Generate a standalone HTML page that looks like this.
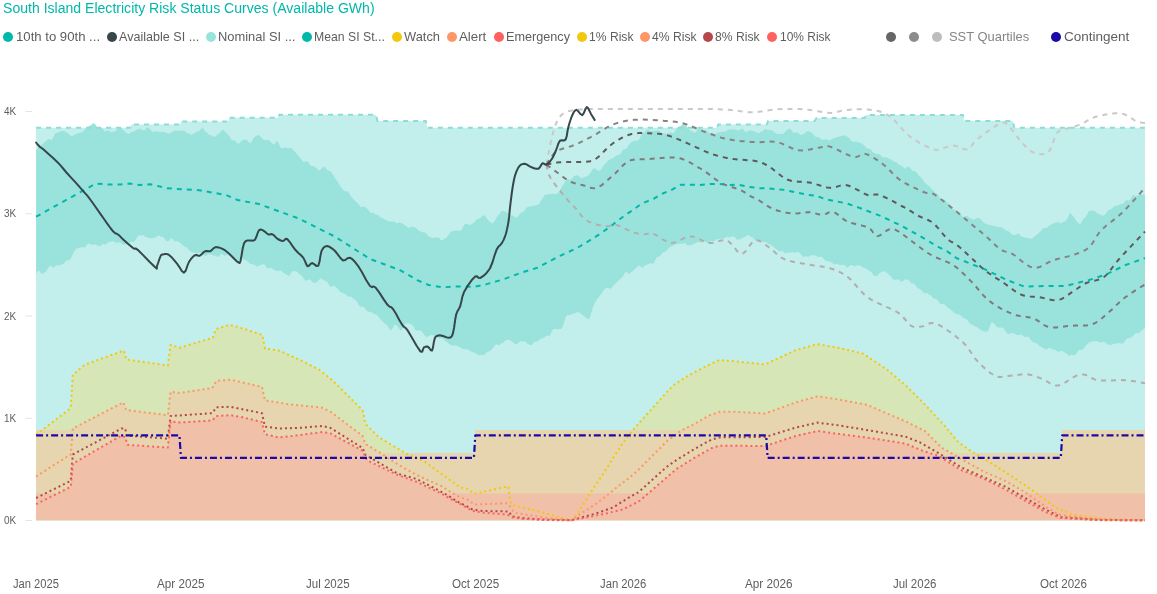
<!DOCTYPE html><html><head><meta charset="utf-8"><title>South Island Electricity Risk Status Curves</title>
<style>
html,body{margin:0;padding:0;background:#fff;}
body{width:1157px;height:594px;position:relative;overflow:hidden;font-family:"Liberation Sans",sans-serif;}
.t{position:absolute;white-space:nowrap;transform-origin:0 50%;}
.title{left:2.9px;top:-0.85px;font-size:14px;line-height:18px;color:#01B8AA;}
.lg{font-size:13.5px;line-height:16px;top:29.3px;color:#605E5C;}
.dot{position:absolute;width:10px;height:10px;border-radius:50%;top:32.2px;}
.ax{font-size:12.3px;line-height:14px;color:#605E5C;}
.ay{font-size:10.8px;line-height:14px;color:#605E5C;}
</style></head><body>
<svg width="1157" height="594" viewBox="0 0 1157 594" style="position:absolute;left:0;top:0">
<path d="M36.1 127.8 L130.0 127.8 L131.6 124.5 L179.7 124.5 L181.3 121.5 L228.0 121.5 L229.6 117.7 L277.8 117.7 L279.4 114.8 L375.9 114.8 L377.5 121.0 L425.7 121.0 L427.3 127.8 L716.8 127.8 L718.4 124.6 L766.6 124.6 L768.2 121.0 L814.9 121.0 L816.5 118.0 L864.7 118.0 L866.3 115.0 L962.8 115.0 L964.4 121.0 L1012.7 121.0 L1014.3 127.8 L1145.0 127.8 L1145.0 520.3 L36.1 520.3 Z" fill="#C2EEEB"/>
<polygon points="36.1,150.4 37.7,148.4 39.3,146.3 40.9,145.6 42.5,144.4 44.1,142.5 45.7,141.6 47.3,140.0 48.9,139.0 50.5,139.8 52.1,139.8 53.7,136.5 55.3,133.0 56.9,132.8 58.5,132.6 60.1,131.5 61.7,131.0 63.3,130.9 64.9,131.4 66.5,132.4 68.1,133.2 69.7,135.0 71.3,136.2 72.9,135.7 74.5,135.0 76.1,134.0 77.7,133.3 79.3,132.9 80.9,132.6 82.5,131.9 84.1,130.3 85.7,128.8 87.3,127.6 88.9,126.2 90.5,125.4 92.1,124.3 93.7,123.1 95.3,124.4 96.9,126.9 98.5,127.7 100.1,127.7 101.7,128.0 103.3,129.8 104.9,131.6 106.5,131.0 108.1,130.2 109.7,131.3 111.3,132.2 112.9,131.7 114.5,131.2 116.1,130.4 117.7,128.9 119.3,127.8 120.9,127.6 122.5,129.3 124.1,131.1 125.7,132.6 127.3,133.6 128.9,134.0 130.5,132.8 132.1,131.8 133.7,131.7 135.3,130.8 136.9,129.6 138.5,129.1 140.1,128.8 141.7,129.6 143.3,130.6 144.9,129.9 146.5,127.8 148.1,127.4 149.7,128.9 151.3,130.7 152.9,131.9 154.5,131.7 156.1,131.1 157.7,131.5 159.3,132.1 160.9,131.8 162.5,132.1 164.1,132.1 165.7,132.4 167.3,133.3 168.9,133.8 170.5,133.0 172.1,132.0 173.7,131.1 175.3,130.7 176.9,130.5 178.5,130.4 180.1,130.8 181.7,130.7 183.3,130.6 184.9,131.3 186.5,132.7 188.1,133.5 189.7,134.0 191.3,134.7 192.9,134.3 194.5,133.2 196.1,132.1 197.7,131.5 199.3,130.7 200.9,129.1 202.5,127.5 204.1,129.7 205.7,131.8 207.3,132.8 208.9,134.7 210.5,135.3 212.1,135.6 213.7,136.9 215.3,136.5 216.9,135.1 218.5,134.0 220.1,132.3 221.7,130.6 223.3,129.4 224.9,131.3 226.5,133.5 228.1,134.5 229.7,136.4 231.3,139.7 232.9,140.6 234.5,140.1 236.1,142.0 237.7,143.8 239.3,143.3 240.9,141.2 242.5,140.4 244.1,139.4 245.7,139.4 247.3,140.3 248.9,142.3 250.5,143.5 252.1,140.7 253.7,138.0 255.3,136.4 256.9,135.7 258.5,134.8 260.1,135.9 261.7,137.9 263.3,139.6 264.9,140.1 266.5,140.0 268.1,139.8 269.7,140.8 271.3,142.5 272.9,144.0 274.5,144.3 276.1,141.3 277.7,141.3 279.3,145.1 280.9,148.3 282.5,148.2 284.1,147.5 285.7,147.6 287.3,147.9 288.9,147.9 290.5,147.7 292.1,148.8 293.7,150.4 295.3,152.2 296.9,154.0 298.5,155.9 300.1,157.8 301.7,159.9 303.3,161.7 304.9,162.0 306.5,161.0 308.1,161.7 309.7,164.5 311.3,166.1 312.9,166.0 314.5,166.2 316.1,167.9 317.7,169.5 319.3,170.4 320.9,169.5 322.5,167.2 324.1,166.4 325.7,168.1 327.3,169.9 328.9,170.8 330.5,171.2 332.1,173.1 333.7,176.0 335.3,178.6 336.9,180.7 338.5,183.3 340.1,186.0 341.7,187.9 343.3,190.0 344.9,191.3 346.5,191.3 348.1,191.8 349.7,194.2 351.3,196.8 352.9,198.8 354.5,200.4 356.1,201.6 357.7,203.2 359.3,205.3 360.9,207.2 362.5,207.1 364.1,206.4 365.7,207.4 367.3,208.7 368.9,210.8 370.5,212.9 372.1,212.8 373.7,212.9 375.3,214.5 376.9,214.8 378.5,215.3 380.1,217.3 381.7,218.1 383.3,218.4 384.9,219.4 386.5,220.2 388.1,220.9 389.7,221.5 391.3,221.8 392.9,221.2 394.5,221.5 396.1,223.1 397.7,222.9 399.3,222.4 400.9,222.8 402.5,223.7 404.1,224.8 405.7,225.7 407.3,227.1 408.9,228.0 410.5,227.3 412.1,226.5 413.7,226.9 415.3,227.6 416.9,228.7 418.5,230.5 420.1,231.3 421.7,231.8 423.3,232.4 424.9,232.5 426.5,233.8 428.1,235.8 429.7,236.8 431.3,237.6 432.9,238.3 434.5,237.6 436.1,237.6 437.7,237.5 439.3,237.8 440.9,240.1 442.5,240.5 444.1,238.7 445.7,238.3 447.3,236.8 448.9,234.2 450.5,232.1 452.1,231.0 453.7,230.5 455.3,230.8 456.9,230.5 458.5,230.5 460.1,230.7 461.7,229.8 463.3,226.3 464.9,223.9 466.5,223.5 468.1,224.3 469.7,224.9 471.3,224.4 472.9,223.4 474.5,221.9 476.1,220.0 477.7,218.9 479.3,218.5 480.9,217.4 482.5,215.7 484.1,215.3 485.7,216.5 487.3,218.9 488.9,221.0 490.5,222.3 492.1,223.6 493.7,222.5 495.3,219.8 496.9,217.0 498.5,215.0 500.1,213.0 501.7,210.9 503.3,211.1 504.9,211.5 506.5,212.2 508.1,213.4 509.7,214.7 511.3,215.4 512.9,215.6 514.5,217.1 516.1,217.8 517.7,216.5 519.3,214.4 520.9,213.0 522.5,212.2 524.1,211.3 525.7,208.6 527.3,207.0 528.9,206.7 530.5,206.3 532.1,206.2 533.7,206.0 535.3,205.2 536.9,204.9 538.5,204.4 540.1,202.5 541.7,199.7 543.3,197.3 544.9,194.8 546.5,194.4 548.1,194.3 549.7,194.1 551.3,194.0 552.9,193.8 554.5,194.2 556.1,194.0 557.7,193.3 559.3,191.7 560.9,188.5 562.5,185.8 564.1,183.3 565.7,180.2 567.3,179.1 568.9,179.3 570.5,179.9 572.1,178.3 573.7,176.4 575.3,175.6 576.9,175.2 578.5,175.7 580.1,177.5 581.7,178.3 583.3,177.5 584.9,176.8 586.5,176.4 588.1,175.8 589.7,173.8 591.3,171.6 592.9,169.0 594.5,167.7 596.1,169.3 597.7,170.4 599.3,170.7 600.9,169.6 602.5,167.0 604.1,164.8 605.7,163.2 607.3,161.4 608.9,160.1 610.5,158.9 612.1,158.5 613.7,157.7 615.3,156.0 616.9,155.5 618.5,155.1 620.1,154.2 621.7,151.9 623.3,149.4 624.9,149.2 626.5,148.6 628.1,146.1 629.7,144.0 631.3,142.3 632.9,141.2 634.5,141.0 636.1,140.5 637.7,140.7 639.3,139.6 640.9,135.7 642.5,132.7 644.1,132.9 645.7,131.3 647.3,129.8 648.9,130.1 650.5,131.1 652.1,131.1 653.7,131.0 655.3,130.9 656.9,130.7 658.5,130.7 660.1,131.8 661.7,133.4 663.3,133.6 664.9,133.4 666.5,133.7 668.1,133.5 669.7,132.6 671.3,132.7 672.9,133.2 674.5,132.4 676.1,129.3 677.7,127.3 679.3,126.8 680.9,126.0 682.5,124.4 684.1,124.9 685.7,125.7 687.3,127.3 688.9,129.4 690.5,130.4 692.1,131.0 693.7,132.4 695.3,132.5 696.9,130.4 698.5,128.4 700.1,128.4 701.7,130.2 703.3,131.7 704.9,131.3 706.5,130.3 708.1,131.9 709.7,133.6 711.3,133.1 712.9,133.3 714.5,134.2 716.1,133.4 717.7,132.4 719.3,132.4 720.9,132.1 722.5,131.6 724.1,131.8 725.7,131.5 727.3,130.2 728.9,129.5 730.5,129.5 732.1,129.2 733.7,129.2 735.3,129.5 736.9,129.9 738.5,130.6 740.1,129.7 741.7,128.4 743.3,129.5 744.9,131.4 746.5,131.9 748.1,131.1 749.7,130.6 751.3,130.4 752.9,130.8 754.5,131.5 756.1,132.0 757.7,132.9 759.3,133.0 760.9,131.8 762.5,131.2 764.1,129.7 765.7,128.9 767.3,129.8 768.9,129.9 770.5,130.1 772.1,130.5 773.7,131.4 775.3,133.1 776.9,133.9 778.5,133.8 780.1,134.1 781.7,133.9 783.3,133.7 784.9,132.0 786.5,130.3 788.1,129.6 789.7,128.5 791.3,129.9 792.9,132.1 794.5,132.7 796.1,132.5 797.7,132.5 799.3,134.0 800.9,135.0 802.5,134.5 804.1,133.7 805.7,132.1 807.3,131.2 808.9,131.5 810.5,132.0 812.1,133.3 813.7,135.0 815.3,136.8 816.9,137.1 818.5,137.0 820.1,138.4 821.7,139.4 823.3,139.6 824.9,139.6 826.5,139.2 828.1,140.0 829.7,140.7 831.3,139.0 832.9,138.4 834.5,138.2 836.1,137.3 837.7,137.0 839.3,136.6 840.9,136.0 842.5,135.7 844.1,135.2 845.7,135.7 847.3,136.7 848.9,137.8 850.5,139.8 852.1,141.5 853.7,141.9 855.3,141.6 856.9,141.8 858.5,142.6 860.1,142.8 861.7,143.2 863.3,144.7 864.9,146.2 866.5,147.9 868.1,148.8 869.7,148.7 871.3,150.1 872.9,152.2 874.5,153.1 876.1,153.7 877.7,154.1 879.3,154.2 880.9,155.5 882.5,157.3 884.1,157.7 885.7,157.0 887.3,157.5 888.9,158.7 890.5,159.2 892.1,160.2 893.7,161.7 895.3,161.9 896.9,162.4 898.5,164.3 900.1,165.5 901.7,165.8 903.3,167.2 904.9,168.7 906.5,167.8 908.1,166.4 909.7,167.2 911.3,169.6 912.9,170.9 914.5,171.1 916.1,172.1 917.7,174.0 919.3,176.0 920.9,177.2 922.5,179.3 924.1,181.8 925.7,183.5 927.3,185.0 928.9,185.9 930.5,187.6 932.1,189.5 933.7,191.0 935.3,192.9 936.9,193.5 938.5,195.2 940.1,198.7 941.7,199.6 943.3,198.9 944.9,199.7 946.5,201.4 948.1,203.3 949.7,205.1 951.3,207.2 952.9,208.9 954.5,209.7 956.1,210.6 957.7,211.8 959.3,212.7 960.9,214.3 962.5,216.4 964.1,216.9 965.7,216.0 967.3,215.9 968.9,217.3 970.5,218.6 972.1,219.2 973.7,219.6 975.3,219.1 976.9,218.3 978.5,217.8 980.1,218.8 981.7,220.6 983.3,222.3 984.9,223.5 986.5,223.9 988.1,224.6 989.7,225.3 991.3,225.3 992.9,225.7 994.5,226.2 996.1,226.4 997.7,226.8 999.3,227.1 1000.9,227.3 1002.5,227.8 1004.1,229.1 1005.7,230.6 1007.3,230.8 1008.9,231.5 1010.5,233.3 1012.1,234.4 1013.7,235.0 1015.3,235.1 1016.9,234.0 1018.5,233.5 1020.1,235.1 1021.7,236.7 1023.3,237.0 1024.9,237.6 1026.5,238.1 1028.1,238.1 1029.7,238.4 1031.3,238.7 1032.9,237.9 1034.5,236.6 1036.1,235.3 1037.7,233.9 1039.3,232.4 1040.9,230.9 1042.5,228.8 1044.1,227.9 1045.7,228.1 1047.3,227.2 1048.9,225.8 1050.5,225.1 1052.1,224.2 1053.7,223.1 1055.3,222.7 1056.9,222.0 1058.5,222.2 1060.1,223.3 1061.7,222.9 1063.3,221.9 1064.9,221.6 1066.5,220.1 1068.1,217.0 1069.7,213.3 1071.3,213.7 1072.9,215.9 1074.5,218.3 1076.1,220.7 1077.7,222.5 1079.3,224.0 1080.9,223.7 1082.5,220.4 1084.1,218.2 1085.7,216.7 1087.3,214.3 1088.9,211.2 1090.5,210.7 1092.1,210.7 1093.7,210.5 1095.3,211.5 1096.9,213.1 1098.5,214.1 1100.1,214.4 1101.7,215.2 1103.3,216.1 1104.9,214.7 1106.5,212.5 1108.1,210.5 1109.7,209.6 1111.3,209.1 1112.9,207.4 1114.5,206.1 1116.1,205.8 1117.7,205.5 1119.3,204.7 1120.9,204.2 1122.5,203.8 1124.1,202.8 1125.7,200.6 1127.3,199.9 1128.9,200.9 1130.5,199.3 1132.1,196.0 1133.7,195.0 1135.3,195.9 1136.9,195.8 1138.5,195.0 1140.1,194.3 1141.7,194.4 1143.3,194.6 1145.0,194.9 1145.0,328.3 1143.3,329.3 1141.7,330.3 1140.1,332.1 1138.5,333.4 1136.9,333.0 1135.3,333.3 1133.7,335.2 1132.1,336.8 1130.5,337.7 1128.9,338.2 1127.3,338.5 1125.7,339.9 1124.1,342.3 1122.5,343.5 1120.9,343.5 1119.3,343.0 1117.7,343.2 1116.1,343.6 1114.5,343.4 1112.9,343.9 1111.3,344.9 1109.7,345.1 1108.1,344.5 1106.5,343.5 1104.9,342.3 1103.3,341.7 1101.7,342.2 1100.1,342.6 1098.5,341.9 1096.9,341.0 1095.3,340.9 1093.7,341.6 1092.1,341.6 1090.5,342.0 1088.9,342.8 1087.3,344.0 1085.7,345.7 1084.1,348.0 1082.5,349.4 1080.9,349.7 1079.3,349.9 1077.7,351.3 1076.1,353.9 1074.5,355.3 1072.9,354.9 1071.3,354.7 1069.7,356.1 1068.1,355.2 1066.5,353.3 1064.9,352.7 1063.3,351.7 1061.7,350.8 1060.1,351.2 1058.5,351.7 1056.9,351.3 1055.3,350.0 1053.7,349.3 1052.1,349.2 1050.5,348.2 1048.9,347.8 1047.3,349.0 1045.7,349.5 1044.1,348.5 1042.5,347.5 1040.9,346.7 1039.3,345.7 1037.7,344.1 1036.1,343.1 1034.5,342.7 1032.9,341.9 1031.3,340.7 1029.7,338.4 1028.1,336.5 1026.5,336.7 1024.9,337.1 1023.3,336.3 1021.7,334.8 1020.1,334.5 1018.5,335.0 1016.9,334.9 1015.3,334.2 1013.7,333.4 1012.1,332.8 1010.5,333.2 1008.9,333.9 1007.3,333.7 1005.7,331.6 1004.1,328.9 1002.5,327.7 1000.9,327.5 999.3,327.5 997.7,327.4 996.1,326.0 994.5,323.9 992.9,322.8 991.3,322.3 989.7,327.0 988.1,331.2 986.5,331.8 984.9,331.8 983.3,331.1 981.7,330.4 980.1,329.7 978.5,328.3 976.9,327.0 975.3,326.5 973.7,325.5 972.1,324.7 970.5,324.2 968.9,322.1 967.3,320.1 965.7,319.1 964.1,318.5 962.5,317.3 960.9,315.6 959.3,314.7 957.7,314.1 956.1,313.7 954.5,312.9 952.9,311.4 951.3,310.0 949.7,308.7 948.1,307.9 946.5,306.6 944.9,304.6 943.3,303.7 941.7,304.2 940.1,303.8 938.5,301.5 936.9,299.6 935.3,298.7 933.7,298.4 932.1,297.1 930.5,295.2 928.9,294.4 927.3,293.2 925.7,293.1 924.1,293.3 922.5,291.6 920.9,289.8 919.3,288.9 917.7,288.1 916.1,286.2 914.5,283.8 912.9,283.4 911.3,283.3 909.7,281.5 908.1,279.5 906.5,279.6 904.9,279.5 903.3,280.7 901.7,282.0 900.1,280.7 898.5,279.3 896.9,279.5 895.3,279.7 893.7,279.9 892.1,278.3 890.5,276.0 888.9,274.6 887.3,273.2 885.7,272.0 884.1,271.3 882.5,271.3 880.9,272.2 879.3,273.3 877.7,275.5 876.1,276.1 874.5,275.9 872.9,274.5 871.3,272.1 869.7,271.2 868.1,270.3 866.5,268.8 864.9,268.2 863.3,267.6 861.7,266.8 860.1,265.8 858.5,265.0 856.9,265.5 855.3,266.3 853.7,265.8 852.1,265.3 850.5,264.9 848.9,266.4 847.3,267.7 845.7,266.3 844.1,265.1 842.5,264.7 840.9,265.3 839.3,265.1 837.7,263.7 836.1,263.9 834.5,264.5 832.9,263.5 831.3,262.2 829.7,261.6 828.1,261.3 826.5,261.1 824.9,260.3 823.3,258.4 821.7,256.7 820.1,256.7 818.5,257.2 816.9,256.3 815.3,255.4 813.7,255.3 812.1,254.9 810.5,255.5 808.9,256.8 807.3,256.5 805.7,256.4 804.1,256.8 802.5,256.4 800.9,254.6 799.3,252.2 797.7,251.7 796.1,252.7 794.5,252.8 792.9,252.3 791.3,252.4 789.7,252.4 788.1,252.4 786.5,253.2 784.9,253.0 783.3,251.5 781.7,250.9 780.1,251.3 778.5,251.1 776.9,249.6 775.3,248.5 773.7,247.0 772.1,245.5 770.5,244.8 768.9,244.2 767.3,243.0 765.7,242.1 764.1,241.9 762.5,241.7 760.9,241.3 759.3,240.3 757.7,240.4 756.1,241.0 754.5,239.8 752.9,237.8 751.3,236.9 749.7,236.0 748.1,235.0 746.5,235.6 744.9,237.0 743.3,237.4 741.7,238.5 740.1,239.3 738.5,239.8 736.9,239.5 735.3,237.7 733.7,236.4 732.1,236.5 730.5,237.1 728.9,237.4 727.3,236.7 725.7,237.2 724.1,238.4 722.5,238.5 720.9,238.6 719.3,239.0 717.7,239.1 716.1,239.8 714.5,241.1 712.9,241.2 711.3,240.7 709.7,242.0 708.1,243.2 706.5,242.5 704.9,241.4 703.3,241.7 701.7,242.2 700.1,242.3 698.5,242.2 696.9,242.4 695.3,242.9 693.7,243.9 692.1,244.8 690.5,245.2 688.9,245.5 687.3,245.2 685.7,243.6 684.1,243.2 682.5,243.9 680.9,243.8 679.3,243.8 677.7,244.1 676.1,244.2 674.5,245.0 672.9,245.8 671.3,246.2 669.7,247.1 668.1,248.7 666.5,250.7 664.9,251.8 663.3,252.0 661.7,253.8 660.1,255.9 658.5,256.7 656.9,257.3 655.3,260.0 653.7,263.2 652.1,263.7 650.5,262.9 648.9,263.9 647.3,264.8 645.7,265.0 644.1,266.3 642.5,267.5 640.9,266.7 639.3,265.6 637.7,266.0 636.1,268.0 634.5,269.6 632.9,270.9 631.3,272.3 629.7,273.5 628.1,273.5 626.5,271.4 624.9,272.5 623.3,275.8 621.7,277.7 620.1,278.9 618.5,280.5 616.9,282.1 615.3,283.7 613.7,284.9 612.1,287.7 610.5,288.9 608.9,288.0 607.3,287.9 605.7,288.2 604.1,289.5 602.5,291.9 600.9,294.0 599.3,296.6 597.7,298.4 596.1,300.5 594.5,303.7 592.9,307.2 591.3,312.4 589.7,318.6 588.1,318.9 586.5,318.3 584.9,317.0 583.3,315.6 581.7,314.2 580.1,312.9 578.5,312.3 576.9,312.3 575.3,313.0 573.7,313.5 572.1,314.0 570.5,314.7 568.9,315.2 567.3,315.1 565.7,317.1 564.1,322.2 562.5,326.9 560.9,329.1 559.3,329.0 557.7,329.4 556.1,328.9 554.5,329.0 552.9,329.6 551.3,332.8 549.7,336.1 548.1,335.8 546.5,335.5 544.9,337.0 543.3,338.0 541.7,338.6 540.1,339.2 538.5,340.5 536.9,341.7 535.3,341.6 533.7,342.6 532.1,344.8 530.5,344.9 528.9,344.4 527.3,343.4 525.7,341.9 524.1,341.2 522.5,341.4 520.9,341.3 519.3,341.8 517.7,343.5 516.1,344.4 514.5,343.4 512.9,342.2 511.3,341.0 509.7,340.1 508.1,339.8 506.5,339.7 504.9,340.9 503.3,342.7 501.7,343.3 500.1,344.5 498.5,345.2 496.9,344.2 495.3,344.8 493.7,347.2 492.1,349.1 490.5,350.7 488.9,351.5 487.3,351.5 485.7,353.4 484.1,354.9 482.5,354.9 480.9,355.1 479.3,355.6 477.7,355.0 476.1,353.6 474.5,352.7 472.9,352.3 471.3,351.6 469.7,350.8 468.1,349.6 466.5,349.2 464.9,349.3 463.3,348.9 461.7,348.3 460.1,347.5 458.5,346.7 456.9,345.8 455.3,345.4 453.7,345.5 452.1,345.5 450.5,345.3 448.9,343.8 447.3,342.3 445.7,341.6 444.1,339.9 442.5,338.2 440.9,338.3 439.3,338.5 437.7,337.7 436.1,336.4 434.5,335.6 432.9,335.3 431.3,335.1 429.7,335.5 428.1,336.6 426.5,337.1 424.9,335.6 423.3,333.7 421.7,331.4 420.1,330.4 418.5,330.5 416.9,330.6 415.3,329.9 413.7,326.9 412.1,324.7 410.5,323.9 408.9,323.2 407.3,323.2 405.7,323.2 404.1,325.8 402.5,328.5 400.9,331.1 399.3,329.1 397.7,326.4 396.1,324.9 394.5,324.6 392.9,327.5 391.3,330.2 389.7,329.6 388.1,326.9 386.5,324.6 384.9,323.8 383.3,322.3 381.7,320.4 380.1,318.8 378.5,316.7 376.9,314.8 375.3,314.2 373.7,313.7 372.1,312.5 370.5,312.1 368.9,311.8 367.3,311.1 365.7,309.5 364.1,307.3 362.5,306.7 360.9,306.4 359.3,306.0 357.7,302.9 356.1,300.6 354.5,299.4 352.9,298.5 351.3,296.5 349.7,296.7 348.1,296.6 346.5,295.2 344.9,293.9 343.3,292.9 341.7,292.6 340.1,291.7 338.5,289.8 336.9,287.9 335.3,286.4 333.7,285.7 332.1,286.4 330.5,286.7 328.9,284.7 327.3,282.2 325.7,280.9 324.1,280.6 322.5,279.6 320.9,277.9 319.3,279.5 317.7,281.5 316.1,282.9 314.5,282.4 312.9,282.4 311.3,280.7 309.7,279.2 308.1,279.7 306.5,280.6 304.9,280.5 303.3,278.0 301.7,275.7 300.1,274.8 298.5,273.2 296.9,271.4 295.3,271.2 293.7,270.9 292.1,271.2 290.5,274.2 288.9,276.0 287.3,274.9 285.7,274.0 284.1,273.3 282.5,272.0 280.9,270.5 279.3,270.7 277.7,271.1 276.1,270.8 274.5,270.2 272.9,269.0 271.3,268.1 269.7,268.1 268.1,268.3 266.5,267.5 264.9,264.8 263.3,263.9 261.7,264.8 260.1,265.1 258.5,266.1 256.9,266.6 255.3,265.5 253.7,264.3 252.1,264.2 250.5,263.9 248.9,262.7 247.3,261.2 245.7,260.3 244.1,259.4 242.5,258.5 240.9,259.3 239.3,259.8 237.7,260.8 236.1,261.8 234.5,260.4 232.9,258.6 231.3,257.1 229.7,255.9 228.1,254.6 226.5,254.9 224.9,256.1 223.3,254.8 221.7,253.5 220.1,254.9 218.5,257.1 216.9,256.5 215.3,255.7 213.7,255.4 212.1,255.1 210.5,254.4 208.9,254.1 207.3,254.9 205.7,256.0 204.1,255.5 202.5,253.6 200.9,252.7 199.3,252.5 197.7,253.5 196.1,253.5 194.5,252.6 192.9,252.4 191.3,251.7 189.7,250.7 188.1,249.2 186.5,247.2 184.9,246.7 183.3,245.7 181.7,244.0 180.1,242.8 178.5,241.8 176.9,241.1 175.3,241.5 173.7,240.5 172.1,238.3 170.5,238.9 168.9,240.8 167.3,241.4 165.7,240.2 164.1,238.1 162.5,236.7 160.9,236.7 159.3,235.6 157.7,235.5 156.1,237.2 154.5,237.7 152.9,237.9 151.3,238.2 149.7,237.9 148.1,237.4 146.5,237.3 144.9,236.5 143.3,235.2 141.7,235.4 140.1,235.6 138.5,235.4 136.9,237.7 135.3,240.3 133.7,242.0 132.1,241.8 130.5,241.9 128.9,243.4 127.3,244.5 125.7,244.3 124.1,244.7 122.5,244.2 120.9,243.1 119.3,242.3 117.7,242.4 116.1,242.7 114.5,241.9 112.9,240.9 111.3,241.5 109.7,242.0 108.1,242.3 106.5,244.1 104.9,244.5 103.3,243.8 101.7,244.9 100.1,246.3 98.5,245.9 96.9,245.0 95.3,244.2 93.7,244.7 92.1,245.0 90.5,244.0 88.9,243.5 87.3,244.2 85.7,246.7 84.1,247.6 82.5,247.3 80.9,247.5 79.3,247.8 77.7,248.4 76.1,248.7 74.5,250.9 72.9,253.9 71.3,257.4 69.7,260.1 68.1,260.2 66.5,260.7 64.9,262.1 63.3,263.7 61.7,264.4 60.1,264.9 58.5,265.4 56.9,265.1 55.3,266.3 53.7,267.8 52.1,266.9 50.5,265.5 48.9,266.9 47.3,269.4 45.7,271.9 44.1,272.4 42.5,273.8 40.9,273.4 39.3,270.7 37.7,271.1 36.1,274.0" fill="#9AE3DD"/>
<polygon points="36.1,430.1 36.5,430.1 36.9,430.1 37.3,430.1 37.7,430.1 38.1,430.1 38.5,430.1 38.9,430.1 39.3,430.1 39.7,430.1 40.1,430.1 40.5,430.1 40.9,430.1 41.3,430.1 41.7,430.1 42.1,430.1 42.5,429.9 42.9,429.5 43.3,429.2 43.7,428.9 44.1,428.6 44.5,428.3 44.9,428.0 45.3,427.7 45.7,427.4 46.1,427.1 46.5,426.8 46.9,426.5 47.3,426.2 47.7,425.9 48.1,425.6 48.5,425.3 48.9,425.0 49.3,424.7 49.7,424.4 50.1,424.1 50.5,423.8 50.9,423.5 51.3,423.2 51.7,422.9 52.1,422.6 52.5,422.3 52.9,422.0 53.3,421.7 53.7,421.3 54.1,421.0 54.5,420.7 54.9,420.4 55.3,420.1 55.7,419.8 56.1,419.5 56.5,419.2 56.9,418.8 57.3,418.5 57.7,418.2 58.1,417.9 58.5,417.6 58.9,417.3 59.3,417.0 59.7,416.7 60.1,416.3 60.5,416.0 60.9,415.7 61.3,415.4 61.7,415.1 62.1,414.8 62.5,414.5 62.9,414.2 63.3,413.9 63.7,413.5 64.1,413.2 64.5,412.9 64.9,412.6 65.3,412.3 65.7,412.0 66.1,411.7 66.5,411.4 66.9,411.0 67.3,410.7 67.7,410.4 68.1,410.1 68.5,409.8 68.9,409.5 69.3,409.2 69.7,408.9 70.1,408.5 70.5,408.2 70.9,406.3 71.3,399.7 71.7,393.1 72.1,386.4 72.5,379.8 72.9,374.7 73.3,374.4 73.7,374.0 74.1,373.7 74.5,373.4 74.9,373.0 75.3,372.7 75.7,372.4 76.1,372.0 76.5,371.7 76.9,371.4 77.3,371.0 77.7,370.7 78.1,370.4 78.5,370.0 78.9,369.7 79.3,369.4 79.7,369.0 80.1,368.7 80.5,368.4 80.9,368.0 81.3,367.7 81.7,367.4 82.1,367.0 82.5,366.7 82.9,366.4 83.3,366.0 83.7,365.7 84.1,365.4 84.5,365.0 84.9,364.7 85.3,364.6 85.7,364.4 86.1,364.3 86.5,364.1 86.9,364.0 87.3,363.8 87.7,363.7 88.1,363.5 88.5,363.4 88.9,363.2 89.3,363.1 89.7,362.9 90.1,362.8 90.5,362.7 90.9,362.5 91.3,362.4 91.7,362.2 92.1,362.1 92.5,361.9 92.9,361.8 93.3,361.6 93.7,361.5 94.1,361.3 94.5,361.2 94.9,361.0 95.3,360.9 95.7,360.8 96.1,360.6 96.5,360.5 96.9,360.3 97.3,360.2 97.7,360.0 98.1,359.9 98.5,359.7 98.9,359.6 99.3,359.4 99.7,359.3 100.1,359.2 100.5,359.0 100.9,358.9 101.3,358.7 101.7,358.6 102.1,358.4 102.5,358.3 102.9,358.1 103.3,358.0 103.7,357.8 104.1,357.7 104.5,357.5 104.9,357.4 105.3,357.3 105.7,357.1 106.1,357.0 106.5,356.8 106.9,356.7 107.3,356.5 107.7,356.4 108.1,356.2 108.5,356.1 108.9,355.9 109.3,355.8 109.7,355.6 110.1,355.5 110.5,355.4 110.9,355.2 111.3,355.1 111.7,354.9 112.1,354.8 112.5,354.6 112.9,354.5 113.3,354.3 113.7,354.2 114.1,354.0 114.5,353.9 114.9,353.7 115.3,353.6 115.7,353.5 116.1,353.3 116.5,353.2 116.9,353.0 117.3,352.9 117.7,352.7 118.1,352.6 118.5,352.4 118.9,352.3 119.3,352.1 119.7,352.0 120.1,351.9 120.5,351.7 120.9,351.6 121.3,351.4 121.7,351.3 122.1,351.1 122.5,351.0 122.9,350.8 123.3,350.7 123.7,350.5 124.1,351.5 124.5,352.8 124.9,354.2 125.3,355.5 125.7,356.8 126.1,358.2 126.5,359.5 126.9,359.6 127.3,359.6 127.7,359.7 128.1,359.7 128.5,359.8 128.9,359.8 129.3,359.9 129.7,360.0 130.1,360.0 130.5,360.1 130.9,360.1 131.3,360.2 131.7,360.3 132.1,360.3 132.5,360.4 132.9,360.4 133.3,360.5 133.7,360.5 134.1,360.6 134.5,360.7 134.9,360.7 135.3,360.8 135.7,360.8 136.1,360.9 136.5,361.0 136.9,361.0 137.3,361.1 137.7,361.1 138.1,361.2 138.5,361.2 138.9,361.3 139.3,361.4 139.7,361.4 140.1,361.5 140.5,361.5 140.9,361.6 141.3,361.7 141.7,361.7 142.1,361.8 142.5,361.8 142.9,361.9 143.3,361.9 143.7,362.0 144.1,362.1 144.5,362.1 144.9,362.2 145.3,362.2 145.7,362.3 146.1,362.3 146.5,362.4 146.9,362.5 147.3,362.5 147.7,362.6 148.1,362.6 148.5,362.7 148.9,362.8 149.3,362.8 149.7,362.9 150.1,362.9 150.5,363.0 150.9,363.0 151.3,363.1 151.7,363.2 152.1,363.2 152.5,363.3 152.9,363.3 153.3,363.4 153.7,363.5 154.1,363.5 154.5,363.6 154.9,363.6 155.3,363.7 155.7,363.7 156.1,363.8 156.5,363.9 156.9,363.9 157.3,364.0 157.7,364.0 158.1,364.1 158.5,364.1 158.9,364.2 159.3,364.3 159.7,364.3 160.1,364.4 160.5,364.4 160.9,364.5 161.3,364.6 161.7,364.6 162.1,364.7 162.5,364.7 162.9,364.8 163.3,364.8 163.7,364.9 164.1,365.0 164.5,365.0 164.9,365.1 165.3,365.1 165.7,365.2 166.1,365.3 166.5,365.3 166.9,365.4 167.3,365.4 167.7,365.5 168.1,363.3 168.5,360.4 168.9,357.4 169.3,354.5 169.7,351.6 170.1,348.7 170.5,345.7 170.9,345.1 171.3,345.2 171.7,345.3 172.1,345.4 172.5,345.6 172.9,345.7 173.3,345.8 173.7,345.9 174.1,346.0 174.5,346.1 174.9,346.2 175.3,346.4 175.7,346.5 176.1,346.6 176.5,346.7 176.9,346.8 177.3,346.9 177.7,347.1 178.1,347.2 178.5,347.3 178.9,347.4 179.3,347.5 179.7,347.6 180.1,347.6 180.5,347.5 180.9,347.4 181.3,347.3 181.7,347.2 182.1,347.0 182.5,346.9 182.9,346.8 183.3,346.7 183.7,346.6 184.1,346.4 184.5,346.3 184.9,346.2 185.3,346.1 185.7,346.0 186.1,345.8 186.5,345.7 186.9,345.6 187.3,345.5 187.7,345.4 188.1,345.2 188.5,345.1 188.9,345.0 189.3,344.9 189.7,344.8 190.1,344.6 190.5,344.5 190.9,344.4 191.3,344.3 191.7,344.1 192.1,344.0 192.5,343.9 192.9,343.8 193.3,343.7 193.7,343.5 194.1,343.4 194.5,343.3 194.9,343.2 195.3,343.1 195.7,342.9 196.1,342.8 196.5,342.7 196.9,342.6 197.3,342.5 197.7,342.3 198.1,342.2 198.5,342.1 198.9,342.0 199.3,341.9 199.7,341.7 200.1,341.6 200.5,341.5 200.9,341.4 201.3,341.3 201.7,341.1 202.1,341.0 202.5,340.9 202.9,340.8 203.3,340.7 203.7,340.5 204.1,340.4 204.5,340.3 204.9,340.2 205.3,340.1 205.7,339.9 206.1,339.8 206.5,339.7 206.9,339.6 207.3,339.5 207.7,339.3 208.1,339.2 208.5,339.1 208.9,339.0 209.3,338.9 209.7,338.7 210.1,338.6 210.5,338.5 210.9,338.4 211.3,338.3 211.7,338.1 212.1,338.0 212.5,337.9 212.9,337.5 213.3,336.4 213.7,335.3 214.1,334.2 214.5,333.1 214.9,332.0 215.3,330.9 215.7,329.8 216.1,329.0 216.5,328.8 216.9,328.7 217.3,328.6 217.7,328.5 218.1,328.4 218.5,328.2 218.9,328.1 219.3,328.0 219.7,327.9 220.1,327.8 220.5,327.6 220.9,327.5 221.3,327.4 221.7,327.3 222.1,327.1 222.5,327.0 222.9,326.9 223.3,326.8 223.7,326.7 224.1,326.5 224.5,326.4 224.9,326.3 225.3,326.2 225.7,326.0 226.1,325.9 226.5,325.8 226.9,325.7 227.3,325.6 227.7,325.4 228.1,325.3 228.5,325.2 228.9,325.1 229.3,325.0 229.7,324.8 230.1,324.9 230.5,325.0 230.9,325.1 231.3,325.2 231.7,325.3 232.1,325.5 232.5,325.6 232.9,325.7 233.3,325.8 233.7,325.9 234.1,326.0 234.5,326.1 234.9,326.3 235.3,326.4 235.7,326.5 236.1,326.6 236.5,326.7 236.9,326.8 237.3,326.9 237.7,327.1 238.1,327.2 238.5,327.3 238.9,327.4 239.3,327.5 239.7,327.6 240.1,327.8 240.5,327.9 240.9,328.0 241.3,328.1 241.7,328.2 242.1,328.3 242.5,328.4 242.9,328.6 243.3,328.7 243.7,328.8 244.1,328.9 244.5,329.0 244.9,329.1 245.3,329.2 245.7,329.4 246.1,329.5 246.5,329.6 246.9,329.8 247.3,329.9 247.7,330.0 248.1,330.2 248.5,330.3 248.9,330.4 249.3,330.6 249.7,330.7 250.1,330.9 250.5,331.0 250.9,331.1 251.3,331.3 251.7,331.4 252.1,331.5 252.5,331.7 252.9,331.8 253.3,331.9 253.7,332.1 254.1,332.2 254.5,332.3 254.9,332.5 255.3,332.6 255.7,332.7 256.1,332.9 256.5,333.0 256.9,333.1 257.3,333.3 257.7,333.4 258.1,333.5 258.5,333.7 258.9,333.8 259.3,334.0 259.7,334.1 260.1,334.2 260.5,334.4 260.9,334.5 261.3,334.6 261.7,334.8 262.1,334.9 262.5,335.5 262.9,337.6 263.3,339.7 263.7,341.8 264.1,344.0 264.5,346.1 264.9,348.2 265.3,348.7 265.7,348.8 266.1,348.8 266.5,348.9 266.9,348.9 267.3,349.0 267.7,349.0 268.1,349.1 268.5,349.1 268.9,349.2 269.3,349.2 269.7,349.3 270.1,349.3 270.5,349.4 270.9,349.4 271.3,349.5 271.7,349.5 272.1,349.6 272.5,349.6 272.9,349.7 273.3,349.7 273.7,349.8 274.1,349.8 274.5,349.9 274.9,349.9 275.3,350.0 275.7,350.0 276.1,350.1 276.5,350.1 276.9,350.2 277.3,350.2 277.7,350.3 278.1,350.3 278.5,350.4 278.9,350.6 279.3,350.8 279.7,350.9 280.1,351.1 280.5,351.3 280.9,351.5 281.3,351.7 281.7,351.8 282.1,352.0 282.5,352.2 282.9,352.4 283.3,352.5 283.7,352.7 284.1,352.9 284.5,353.1 284.9,353.3 285.3,353.4 285.7,353.6 286.1,353.8 286.5,354.0 286.9,354.2 287.3,354.3 287.7,354.5 288.1,354.7 288.5,354.9 288.9,355.0 289.3,355.2 289.7,355.4 290.1,355.6 290.5,355.8 290.9,355.9 291.3,356.1 291.7,356.3 292.1,356.5 292.5,356.7 292.9,356.8 293.3,357.0 293.7,357.2 294.1,357.4 294.5,357.5 294.9,357.7 295.3,357.9 295.7,358.1 296.1,358.3 296.5,358.4 296.9,358.6 297.3,358.8 297.7,359.0 298.1,359.2 298.5,359.3 298.9,359.5 299.3,359.7 299.7,359.9 300.1,360.1 300.5,360.3 300.9,360.5 301.3,360.7 301.7,360.9 302.1,361.1 302.5,361.3 302.9,361.5 303.3,361.7 303.7,361.9 304.1,362.1 304.5,362.3 304.9,362.5 305.3,362.7 305.7,362.9 306.1,363.1 306.5,363.3 306.9,363.5 307.3,363.7 307.7,363.9 308.1,364.1 308.5,364.3 308.9,364.5 309.3,364.7 309.7,364.9 310.1,365.2 310.5,365.4 310.9,365.6 311.3,365.8 311.7,366.0 312.1,366.2 312.5,366.4 312.9,366.6 313.3,366.8 313.7,367.0 314.1,367.2 314.5,367.4 314.9,367.6 315.3,367.8 315.7,368.0 316.1,368.2 316.5,368.4 316.9,368.6 317.3,368.8 317.7,369.0 318.1,369.2 318.5,369.4 318.9,369.6 319.3,369.8 319.7,370.1 320.1,370.4 320.5,370.7 320.9,371.0 321.3,371.4 321.7,371.7 322.1,372.0 322.5,372.3 322.9,372.7 323.3,373.0 323.7,373.3 324.1,373.6 324.5,373.9 324.9,374.3 325.3,374.6 325.7,374.9 326.1,375.2 326.5,375.6 326.9,375.9 327.3,376.2 327.7,376.5 328.1,376.9 328.5,377.2 328.9,377.5 329.3,377.8 329.7,378.1 330.1,378.5 330.5,378.8 330.9,379.1 331.3,379.4 331.7,379.8 332.1,380.1 332.5,380.4 332.9,380.7 333.3,381.1 333.7,381.5 334.1,381.9 334.5,382.3 334.9,382.7 335.3,383.1 335.7,383.5 336.1,383.9 336.5,384.3 336.9,384.7 337.3,385.1 337.7,385.5 338.1,385.9 338.5,386.3 338.9,386.7 339.3,387.1 339.7,387.5 340.1,387.9 340.5,388.3 340.9,388.7 341.3,389.1 341.7,389.5 342.1,389.9 342.5,390.3 342.9,390.7 343.3,391.1 343.7,391.5 344.1,391.9 344.5,392.3 344.9,392.7 345.3,393.1 345.7,393.5 346.1,393.9 346.5,394.3 346.9,394.7 347.3,395.1 347.7,395.5 348.1,395.8 348.5,396.2 348.9,396.6 349.3,397.0 349.7,397.4 350.1,397.8 350.5,398.2 350.9,398.6 351.3,399.0 351.7,399.4 352.1,399.8 352.5,400.2 352.9,400.6 353.3,401.0 353.7,401.4 354.1,401.8 354.5,402.2 354.9,402.6 355.3,403.0 355.7,403.4 356.1,403.8 356.5,404.2 356.9,404.6 357.3,405.0 357.7,405.4 358.1,405.8 358.5,406.2 358.9,406.6 359.3,407.0 359.7,407.4 360.1,407.8 360.5,408.2 360.9,408.6 361.3,409.0 361.7,409.4 362.1,409.8 362.5,410.2 362.9,411.4 363.3,413.4 363.7,415.4 364.1,417.4 364.5,419.4 364.9,421.4 365.3,423.4 365.7,424.2 366.1,424.6 366.5,425.0 366.9,425.4 367.3,425.8 367.7,426.2 368.1,426.6 368.5,427.0 368.9,427.4 369.3,427.8 369.7,428.2 370.1,428.6 370.5,429.0 370.9,429.4 371.3,429.8 371.7,430.2 372.1,430.6 372.5,430.9 372.9,431.3 373.3,431.7 373.7,432.1 374.1,432.5 374.5,432.9 374.9,433.3 375.3,433.7 375.7,434.1 376.1,434.5 376.5,434.9 376.9,435.3 377.3,435.7 377.7,436.1 378.1,436.5 378.5,436.9 378.9,437.3 379.3,437.5 379.7,437.8 380.1,438.0 380.5,438.3 380.9,438.5 381.3,438.7 381.7,439.0 382.1,439.2 382.5,439.5 382.9,439.7 383.3,439.9 383.7,440.2 384.1,440.4 384.5,440.7 384.9,440.9 385.3,441.2 385.7,441.4 386.1,441.6 386.5,441.9 386.9,442.1 387.3,442.4 387.7,442.6 388.1,442.8 388.5,443.1 388.9,443.3 389.3,443.6 389.7,443.8 390.1,444.0 390.5,444.3 390.9,444.5 391.3,444.8 391.7,445.0 392.1,445.2 392.5,445.5 392.9,445.7 393.3,446.0 393.7,446.2 394.1,446.5 394.5,446.7 394.9,446.9 395.3,447.2 395.7,447.4 396.1,447.7 396.5,447.9 396.9,448.1 397.3,448.4 397.7,448.6 398.1,448.9 398.5,449.1 398.9,449.3 399.3,449.6 399.7,449.8 400.1,450.1 400.5,450.3 400.9,450.5 401.3,450.8 401.7,451.0 402.1,451.3 402.5,451.5 402.9,451.8 403.3,452.0 403.7,452.2 404.1,452.5 404.5,452.7 404.9,453.0 405.3,453.0 405.7,453.0 406.1,453.0 406.5,453.0 406.9,453.0 407.3,453.0 407.7,453.0 408.1,453.0 408.5,453.0 408.9,453.0 409.3,453.0 409.7,453.0 410.1,453.0 410.5,453.0 410.9,453.0 411.3,453.0 411.7,453.0 412.1,453.0 412.5,453.0 412.9,453.0 413.3,453.0 413.7,453.0 414.1,453.0 414.5,453.0 414.9,453.0 415.3,453.0 415.7,453.0 416.1,453.0 416.5,453.0 416.9,453.0 417.3,453.0 417.7,453.0 418.1,453.0 418.5,453.0 418.9,453.0 419.3,453.0 419.7,453.0 420.1,453.0 420.5,453.0 420.9,453.0 421.3,453.0 421.7,453.0 422.1,453.0 422.5,453.0 422.9,453.0 423.3,453.0 423.7,453.0 424.1,453.0 424.5,453.0 424.9,453.0 425.3,453.0 425.7,453.0 426.1,453.0 426.5,453.0 426.9,453.0 427.3,453.0 427.7,453.0 428.1,453.0 428.5,453.0 428.9,453.0 429.3,453.0 429.7,453.0 430.1,453.0 430.5,453.0 430.9,453.0 431.3,453.0 431.7,453.0 432.1,453.0 432.5,453.0 432.9,453.0 433.3,453.0 433.7,453.0 434.1,453.0 434.5,453.0 434.9,453.0 435.3,453.0 435.7,453.0 436.1,453.0 436.5,453.0 436.9,453.0 437.3,453.0 437.7,453.0 438.1,453.0 438.5,453.0 438.9,453.0 439.3,453.0 439.7,453.0 440.1,453.0 440.5,453.0 440.9,453.0 441.3,453.0 441.7,453.0 442.1,453.0 442.5,453.0 442.9,453.0 443.3,453.0 443.7,453.0 444.1,453.0 444.5,453.0 444.9,453.0 445.3,453.0 445.7,453.0 446.1,453.0 446.5,453.0 446.9,453.0 447.3,453.0 447.7,453.0 448.1,453.0 448.5,453.0 448.9,453.0 449.3,453.0 449.7,453.0 450.1,453.0 450.5,453.0 450.9,453.0 451.3,453.0 451.7,453.0 452.1,453.0 452.5,453.0 452.9,453.0 453.3,453.0 453.7,453.0 454.1,453.0 454.5,453.0 454.9,453.0 455.3,453.0 455.7,453.0 456.1,453.0 456.5,453.0 456.9,453.0 457.3,453.0 457.7,453.0 458.1,453.0 458.5,453.0 458.9,453.0 459.3,453.0 459.7,453.0 460.1,453.0 460.5,453.0 460.9,453.0 461.3,453.0 461.7,453.0 462.1,453.0 462.5,453.0 462.9,453.0 463.3,453.0 463.7,453.0 464.1,453.0 464.5,453.0 464.9,453.0 465.3,453.0 465.7,453.0 466.1,453.0 466.5,453.0 466.9,453.0 467.3,453.0 467.7,453.0 468.1,453.0 468.5,453.0 468.9,453.0 469.3,453.0 469.7,453.0 470.1,453.0 470.5,453.0 470.9,453.0 471.3,453.0 471.7,453.0 472.1,453.0 472.5,453.0 472.9,453.0 473.3,453.0 473.7,453.0 474.1,453.0 474.5,453.0 474.9,447.3 475.3,430.1 475.7,430.1 476.1,430.1 476.5,430.1 476.9,430.1 477.3,430.1 477.7,430.1 478.1,430.1 478.5,430.1 478.9,430.1 479.3,430.1 479.7,430.1 480.1,430.1 480.5,430.1 480.9,430.1 481.3,430.1 481.7,430.1 482.1,430.1 482.5,430.1 482.9,430.1 483.3,430.1 483.7,430.1 484.1,430.1 484.5,430.1 484.9,430.1 485.3,430.1 485.7,430.1 486.1,430.1 486.5,430.1 486.9,430.1 487.3,430.1 487.7,430.1 488.1,430.1 488.5,430.1 488.9,430.1 489.3,430.1 489.7,430.1 490.1,430.1 490.5,430.1 490.9,430.1 491.3,430.1 491.7,430.1 492.1,430.1 492.5,430.1 492.9,430.1 493.3,430.1 493.7,430.1 494.1,430.1 494.5,430.1 494.9,430.1 495.3,430.1 495.7,430.1 496.1,430.1 496.5,430.1 496.9,430.1 497.3,430.1 497.7,430.1 498.1,430.1 498.5,430.1 498.9,430.1 499.3,430.1 499.7,430.1 500.1,430.1 500.5,430.1 500.9,430.1 501.3,430.1 501.7,430.1 502.1,430.1 502.5,430.1 502.9,430.1 503.3,430.1 503.7,430.1 504.1,430.1 504.5,430.1 504.9,430.1 505.3,430.1 505.7,430.1 506.1,430.1 506.5,430.1 506.9,430.1 507.3,430.1 507.7,430.1 508.1,430.1 508.5,430.1 508.9,430.1 509.3,430.1 509.7,430.1 510.1,430.1 510.5,430.1 510.9,430.1 511.3,430.1 511.7,430.1 512.1,430.1 512.5,430.1 512.9,430.1 513.3,430.1 513.7,430.1 514.1,430.1 514.5,430.1 514.9,430.1 515.3,430.1 515.7,430.1 516.1,430.1 516.5,430.1 516.9,430.1 517.3,430.1 517.7,430.1 518.1,430.1 518.5,430.1 518.9,430.1 519.3,430.1 519.7,430.1 520.1,430.1 520.5,430.1 520.9,430.1 521.3,430.1 521.7,430.1 522.1,430.1 522.5,430.1 522.9,430.1 523.3,430.1 523.7,430.1 524.1,430.1 524.5,430.1 524.9,430.1 525.3,430.1 525.7,430.1 526.1,430.1 526.5,430.1 526.9,430.1 527.3,430.1 527.7,430.1 528.1,430.1 528.5,430.1 528.9,430.1 529.3,430.1 529.7,430.1 530.1,430.1 530.5,430.1 530.9,430.1 531.3,430.1 531.7,430.1 532.1,430.1 532.5,430.1 532.9,430.1 533.3,430.1 533.7,430.1 534.1,430.1 534.5,430.1 534.9,430.1 535.3,430.1 535.7,430.1 536.1,430.1 536.5,430.1 536.9,430.1 537.3,430.1 537.7,430.1 538.1,430.1 538.5,430.1 538.9,430.1 539.3,430.1 539.7,430.1 540.1,430.1 540.5,430.1 540.9,430.1 541.3,430.1 541.7,430.1 542.1,430.1 542.5,430.1 542.9,430.1 543.3,430.1 543.7,430.1 544.1,430.1 544.5,430.1 544.9,430.1 545.3,430.1 545.7,430.1 546.1,430.1 546.5,430.1 546.9,430.1 547.3,430.1 547.7,430.1 548.1,430.1 548.5,430.1 548.9,430.1 549.3,430.1 549.7,430.1 550.1,430.1 550.5,430.1 550.9,430.1 551.3,430.1 551.7,430.1 552.1,430.1 552.5,430.1 552.9,430.1 553.3,430.1 553.7,430.1 554.1,430.1 554.5,430.1 554.9,430.1 555.3,430.1 555.7,430.1 556.1,430.1 556.5,430.1 556.9,430.1 557.3,430.1 557.7,430.1 558.1,430.1 558.5,430.1 558.9,430.1 559.3,430.1 559.7,430.1 560.1,430.1 560.5,430.1 560.9,430.1 561.3,430.1 561.7,430.1 562.1,430.1 562.5,430.1 562.9,430.1 563.3,430.1 563.7,430.1 564.1,430.1 564.5,430.1 564.9,430.1 565.3,430.1 565.7,430.1 566.1,430.1 566.5,430.1 566.9,430.1 567.3,430.1 567.7,430.1 568.1,430.1 568.5,430.1 568.9,430.1 569.3,430.1 569.7,430.1 570.1,430.1 570.5,430.1 570.9,430.1 571.3,430.1 571.7,430.1 572.1,430.1 572.5,430.1 572.9,430.1 573.3,430.1 573.7,430.1 574.1,430.1 574.5,430.1 574.9,430.1 575.3,430.1 575.7,430.1 576.1,430.1 576.5,430.1 576.9,430.1 577.3,430.1 577.7,430.1 578.1,430.1 578.5,430.1 578.9,430.1 579.3,430.1 579.7,430.1 580.1,430.1 580.5,430.1 580.9,430.1 581.3,430.1 581.7,430.1 582.1,430.1 582.5,430.1 582.9,430.1 583.3,430.1 583.7,430.1 584.1,430.1 584.5,430.1 584.9,430.1 585.3,430.1 585.7,430.1 586.1,430.1 586.5,430.1 586.9,430.1 587.3,430.1 587.7,430.1 588.1,430.1 588.5,430.1 588.9,430.1 589.3,430.1 589.7,430.1 590.1,430.1 590.5,430.1 590.9,430.1 591.3,430.1 591.7,430.1 592.1,430.1 592.5,430.1 592.9,430.1 593.3,430.1 593.7,430.1 594.1,430.1 594.5,430.1 594.9,430.1 595.3,430.1 595.7,430.1 596.1,430.1 596.5,430.1 596.9,430.1 597.3,430.1 597.7,430.1 598.1,430.1 598.5,430.1 598.9,430.1 599.3,430.1 599.7,430.1 600.1,430.1 600.5,430.1 600.9,430.1 601.3,430.1 601.7,430.1 602.1,430.1 602.5,430.1 602.9,430.1 603.3,430.1 603.7,430.1 604.1,430.1 604.5,430.1 604.9,430.1 605.3,430.1 605.7,430.1 606.1,430.1 606.5,430.1 606.9,430.1 607.3,430.1 607.7,430.1 608.1,430.1 608.5,430.1 608.9,430.1 609.3,430.1 609.7,430.1 610.1,430.1 610.5,430.1 610.9,430.1 611.3,430.1 611.7,430.1 612.1,430.1 612.5,430.1 612.9,430.1 613.3,430.1 613.7,430.1 614.1,430.1 614.5,430.1 614.9,430.1 615.3,430.1 615.7,430.1 616.1,430.1 616.5,430.1 616.9,430.1 617.3,430.1 617.7,430.1 618.1,430.1 618.5,430.1 618.9,430.1 619.3,430.1 619.7,430.1 620.1,430.1 620.5,430.1 620.9,430.1 621.3,430.1 621.7,430.1 622.1,430.1 622.5,430.1 622.9,430.1 623.3,430.1 623.7,430.1 624.1,430.1 624.5,430.1 624.9,430.1 625.3,430.1 625.7,430.1 626.1,430.1 626.5,430.1 626.9,430.1 627.3,430.1 627.7,430.1 628.1,430.1 628.5,430.1 628.9,430.1 629.3,430.1 629.7,430.1 630.1,430.1 630.5,430.1 630.9,430.1 631.3,430.1 631.7,430.1 632.1,430.1 632.5,430.1 632.9,430.1 633.3,429.7 633.7,429.3 634.1,428.8 634.5,428.3 634.9,427.9 635.3,427.4 635.7,426.9 636.1,426.5 636.5,426.0 636.9,425.6 637.3,425.1 637.7,424.6 638.1,424.2 638.5,423.7 638.9,423.3 639.3,422.8 639.7,422.4 640.1,421.9 640.5,421.5 640.9,421.0 641.3,420.6 641.7,420.1 642.1,419.7 642.5,419.2 642.9,418.8 643.3,418.4 643.7,417.9 644.1,417.5 644.5,417.0 644.9,416.6 645.3,416.1 645.7,415.7 646.1,415.2 646.5,414.8 646.9,414.3 647.3,413.9 647.7,413.4 648.1,413.0 648.5,412.5 648.9,412.1 649.3,411.6 649.7,411.2 650.1,410.8 650.5,410.3 650.9,409.9 651.3,409.4 651.7,409.0 652.1,408.6 652.5,408.1 652.9,407.7 653.3,407.2 653.7,406.8 654.1,406.4 654.5,405.9 654.9,405.5 655.3,405.0 655.7,404.6 656.1,404.2 656.5,403.7 656.9,403.3 657.3,402.8 657.7,402.4 658.1,402.0 658.5,401.5 658.9,401.1 659.3,400.6 659.7,400.2 660.1,399.7 660.5,399.3 660.9,398.8 661.3,398.4 661.7,397.9 662.1,397.5 662.5,397.0 662.9,396.6 663.3,396.1 663.7,395.7 664.1,395.2 664.5,394.8 664.9,394.3 665.3,393.9 665.7,393.4 666.1,393.0 666.5,392.5 666.9,392.1 667.3,391.6 667.7,391.2 668.1,390.8 668.5,390.4 668.9,390.0 669.3,389.6 669.7,389.2 670.1,388.8 670.5,388.4 670.9,388.0 671.3,387.6 671.7,387.3 672.1,386.9 672.5,386.5 672.9,386.1 673.3,385.7 673.7,385.3 674.1,384.9 674.5,384.5 674.9,384.1 675.3,383.7 675.7,383.5 676.1,383.2 676.5,383.0 676.9,382.7 677.3,382.5 677.7,382.3 678.1,382.0 678.5,381.8 678.9,381.5 679.3,381.3 679.7,381.0 680.1,380.8 680.5,380.5 680.9,380.3 681.3,380.0 681.7,379.8 682.1,379.5 682.5,379.3 682.9,379.0 683.3,378.8 683.7,378.5 684.1,378.3 684.5,378.0 684.9,377.8 685.3,377.5 685.7,377.3 686.1,377.0 686.5,376.8 686.9,376.5 687.3,376.3 687.7,376.1 688.1,375.8 688.5,375.6 688.9,375.3 689.3,375.1 689.7,374.8 690.1,374.6 690.5,374.4 690.9,374.2 691.3,374.0 691.7,373.8 692.1,373.6 692.5,373.4 692.9,373.1 693.3,372.9 693.7,372.7 694.1,372.5 694.5,372.3 694.9,372.1 695.3,371.9 695.7,371.7 696.1,371.4 696.5,371.2 696.9,371.0 697.3,370.8 697.7,370.6 698.1,370.4 698.5,370.2 698.9,370.0 699.3,369.7 699.7,369.5 700.1,369.3 700.5,369.1 700.9,368.9 701.3,368.7 701.7,368.5 702.1,368.3 702.5,368.1 702.9,367.8 703.3,367.6 703.7,367.4 704.1,367.2 704.5,367.0 704.9,366.8 705.3,366.6 705.7,366.4 706.1,366.2 706.5,366.0 706.9,365.8 707.3,365.6 707.7,365.4 708.1,365.2 708.5,365.0 708.9,364.8 709.3,364.7 709.7,364.5 710.1,364.3 710.5,364.1 710.9,363.9 711.3,363.7 711.7,363.5 712.1,363.3 712.5,363.2 712.9,363.0 713.3,362.8 713.7,362.6 714.1,362.4 714.5,362.2 714.9,362.0 715.3,361.8 715.7,361.7 716.1,361.5 716.5,361.3 716.9,361.1 717.3,360.9 717.7,360.7 718.1,360.5 718.5,360.3 718.9,360.1 719.3,360.1 719.7,360.2 720.1,360.2 720.5,360.2 720.9,360.2 721.3,360.3 721.7,360.3 722.1,360.3 722.5,360.4 722.9,360.4 723.3,360.4 723.7,360.5 724.1,360.5 724.5,360.5 724.9,360.5 725.3,360.6 725.7,360.6 726.1,360.6 726.5,360.7 726.9,360.7 727.3,360.7 727.7,360.8 728.1,360.8 728.5,360.8 728.9,360.8 729.3,360.9 729.7,360.9 730.1,360.9 730.5,361.0 730.9,361.0 731.3,361.0 731.7,361.1 732.1,361.1 732.5,361.1 732.9,361.1 733.3,361.2 733.7,361.2 734.1,361.2 734.5,361.3 734.9,361.3 735.3,361.3 735.7,361.4 736.1,361.4 736.5,361.4 736.9,361.5 737.3,361.5 737.7,361.6 738.1,361.6 738.5,361.6 738.9,361.7 739.3,361.7 739.7,361.8 740.1,361.8 740.5,361.8 740.9,361.9 741.3,361.9 741.7,362.0 742.1,362.0 742.5,362.0 742.9,362.1 743.3,362.1 743.7,362.2 744.1,362.2 744.5,362.2 744.9,362.3 745.3,362.3 745.7,362.4 746.1,362.4 746.5,362.4 746.9,362.5 747.3,362.5 747.7,362.6 748.1,362.6 748.5,362.6 748.9,362.7 749.3,362.7 749.7,362.8 750.1,362.8 750.5,362.8 750.9,362.9 751.3,362.9 751.7,363.0 752.1,363.0 752.5,363.0 752.9,363.1 753.3,363.1 753.7,363.2 754.1,363.2 754.5,363.2 754.9,363.3 755.3,363.3 755.7,363.3 756.1,363.4 756.5,363.4 756.9,363.5 757.3,363.5 757.7,363.5 758.1,363.6 758.5,363.6 758.9,363.7 759.3,363.7 759.7,363.7 760.1,363.8 760.5,363.8 760.9,363.9 761.3,363.9 761.7,363.9 762.1,364.0 762.5,364.0 762.9,364.1 763.3,364.1 763.7,364.1 764.1,364.2 764.5,364.2 764.9,364.3 765.3,364.3 765.7,364.1 766.1,363.9 766.5,363.7 766.9,363.6 767.3,363.4 767.7,363.2 768.1,363.0 768.5,362.8 768.9,362.6 769.3,362.4 769.7,362.3 770.1,362.1 770.5,361.9 770.9,361.7 771.3,361.5 771.7,361.3 772.1,361.1 772.5,360.9 772.9,360.8 773.3,360.6 773.7,360.4 774.1,360.2 774.5,360.0 774.9,359.8 775.3,359.6 775.7,359.5 776.1,359.3 776.5,359.1 776.9,358.9 777.3,358.7 777.7,358.5 778.1,358.3 778.5,358.2 778.9,358.0 779.3,357.8 779.7,357.6 780.1,357.4 780.5,357.2 780.9,357.0 781.3,356.9 781.7,356.7 782.1,356.5 782.5,356.3 782.9,356.1 783.3,355.9 783.7,355.7 784.1,355.6 784.5,355.4 784.9,355.2 785.3,355.0 785.7,354.8 786.1,354.6 786.5,354.4 786.9,354.2 787.3,354.1 787.7,353.9 788.1,353.7 788.5,353.5 788.9,353.3 789.3,353.1 789.7,352.9 790.1,352.8 790.5,352.6 790.9,352.4 791.3,352.2 791.7,352.0 792.1,351.8 792.5,351.6 792.9,351.5 793.3,351.3 793.7,351.1 794.1,350.9 794.5,350.7 794.9,350.5 795.3,350.3 795.7,350.2 796.1,350.1 796.5,349.9 796.9,349.8 797.3,349.7 797.7,349.6 798.1,349.5 798.5,349.4 798.9,349.3 799.3,349.2 799.7,349.1 800.1,348.9 800.5,348.8 800.9,348.7 801.3,348.6 801.7,348.5 802.1,348.4 802.5,348.3 802.9,348.2 803.3,348.1 803.7,347.9 804.1,347.8 804.5,347.7 804.9,347.6 805.3,347.5 805.7,347.4 806.1,347.3 806.5,347.2 806.9,347.1 807.3,346.9 807.7,346.8 808.1,346.7 808.5,346.6 808.9,346.5 809.3,346.4 809.7,346.3 810.1,346.2 810.5,346.0 810.9,345.9 811.3,345.8 811.7,345.7 812.1,345.6 812.5,345.5 812.9,345.4 813.3,345.3 813.7,345.2 814.1,345.0 814.5,344.9 814.9,344.8 815.3,344.7 815.7,344.6 816.1,344.5 816.5,344.4 816.9,344.3 817.3,344.2 817.7,344.1 818.1,344.2 818.5,344.3 818.9,344.3 819.3,344.4 819.7,344.5 820.1,344.6 820.5,344.6 820.9,344.7 821.3,344.8 821.7,344.8 822.1,344.9 822.5,345.0 822.9,345.1 823.3,345.1 823.7,345.2 824.1,345.3 824.5,345.3 824.9,345.4 825.3,345.5 825.7,345.6 826.1,345.6 826.5,345.7 826.9,345.8 827.3,345.8 827.7,345.9 828.1,346.0 828.5,346.1 828.9,346.1 829.3,346.2 829.7,346.3 830.1,346.3 830.5,346.4 830.9,346.5 831.3,346.6 831.7,346.6 832.1,346.7 832.5,346.8 832.9,346.8 833.3,346.9 833.7,347.0 834.1,347.1 834.5,347.1 834.9,347.2 835.3,347.3 835.7,347.3 836.1,347.4 836.5,347.5 836.9,347.6 837.3,347.6 837.7,347.7 838.1,347.8 838.5,347.8 838.9,347.9 839.3,348.0 839.7,348.1 840.1,348.2 840.5,348.3 840.9,348.4 841.3,348.5 841.7,348.5 842.1,348.6 842.5,348.7 842.9,348.8 843.3,348.9 843.7,349.0 844.1,349.1 844.5,349.2 844.9,349.3 845.3,349.4 845.7,349.5 846.1,349.6 846.5,349.7 846.9,349.8 847.3,349.9 847.7,350.0 848.1,350.1 848.5,350.2 848.9,350.3 849.3,350.3 849.7,350.4 850.1,350.5 850.5,350.6 850.9,350.7 851.3,350.8 851.7,350.9 852.1,351.0 852.5,351.1 852.9,351.2 853.3,351.3 853.7,351.4 854.1,351.5 854.5,351.6 854.9,351.7 855.3,351.8 855.7,351.9 856.1,352.0 856.5,352.1 856.9,352.2 857.3,352.2 857.7,352.3 858.1,352.4 858.5,352.5 858.9,352.6 859.3,352.7 859.7,352.8 860.1,352.9 860.5,353.0 860.9,353.1 861.3,353.2 861.7,353.3 862.1,353.4 862.5,353.5 862.9,353.6 863.3,353.8 863.7,354.1 864.1,354.3 864.5,354.6 864.9,354.9 865.3,355.1 865.7,355.4 866.1,355.7 866.5,355.9 866.9,356.2 867.3,356.5 867.7,356.7 868.1,357.0 868.5,357.3 868.9,357.5 869.3,357.8 869.7,358.1 870.1,358.4 870.5,358.6 870.9,358.9 871.3,359.2 871.7,359.4 872.1,359.7 872.5,360.0 872.9,360.2 873.3,360.5 873.7,360.8 874.1,361.0 874.5,361.3 874.9,361.6 875.3,361.8 875.7,362.1 876.1,362.4 876.5,362.6 876.9,362.9 877.3,363.2 877.7,363.4 878.1,363.7 878.5,364.0 878.9,364.2 879.3,364.5 879.7,364.8 880.1,365.0 880.5,365.3 880.9,365.6 881.3,365.8 881.7,366.1 882.1,366.4 882.5,366.7 882.9,366.9 883.3,367.2 883.7,367.5 884.1,367.7 884.5,368.0 884.9,368.3 885.3,368.5 885.7,368.8 886.1,369.1 886.5,369.3 886.9,369.6 887.3,369.9 887.7,370.2 888.1,370.5 888.5,370.8 888.9,371.2 889.3,371.5 889.7,371.9 890.1,372.2 890.5,372.5 890.9,372.9 891.3,373.2 891.7,373.6 892.1,373.9 892.5,374.2 892.9,374.6 893.3,374.9 893.7,375.2 894.1,375.6 894.5,375.9 894.9,376.3 895.3,376.6 895.7,376.9 896.1,377.3 896.5,377.6 896.9,377.9 897.3,378.3 897.7,378.6 898.1,379.0 898.5,379.3 898.9,379.6 899.3,380.0 899.7,380.3 900.1,380.7 900.5,381.0 900.9,381.3 901.3,381.7 901.7,382.0 902.1,382.3 902.5,382.7 902.9,383.0 903.3,383.4 903.7,383.7 904.1,384.0 904.5,384.4 904.9,384.7 905.3,385.0 905.7,385.4 906.1,385.8 906.5,386.2 906.9,386.6 907.3,387.0 907.7,387.4 908.1,387.8 908.5,388.2 908.9,388.6 909.3,389.0 909.7,389.4 910.1,389.8 910.5,390.2 910.9,390.6 911.3,391.0 911.7,391.4 912.1,391.8 912.5,392.2 912.9,392.6 913.3,393.0 913.7,393.4 914.1,393.8 914.5,394.2 914.9,394.6 915.3,395.0 915.7,395.4 916.1,395.8 916.5,396.2 916.9,396.6 917.3,397.0 917.7,397.4 918.1,397.8 918.5,398.2 918.9,398.6 919.3,399.0 919.7,399.4 920.1,399.8 920.5,400.2 920.9,400.6 921.3,401.0 921.7,401.4 922.1,401.8 922.5,402.2 922.9,402.6 923.3,403.0 923.7,403.4 924.1,403.8 924.5,404.2 924.9,404.6 925.3,405.0 925.7,405.5 926.1,405.9 926.5,406.3 926.9,406.7 927.3,407.2 927.7,407.6 928.1,408.0 928.5,408.5 928.9,408.9 929.3,409.3 929.7,409.7 930.1,410.2 930.5,410.6 930.9,411.0 931.3,411.5 931.7,411.9 932.1,412.3 932.5,412.7 932.9,413.2 933.3,413.6 933.7,414.0 934.1,414.5 934.5,414.9 934.9,415.3 935.3,415.7 935.7,416.2 936.1,416.6 936.5,417.0 936.9,417.5 937.3,417.9 937.7,418.3 938.1,418.7 938.5,419.2 938.9,419.6 939.3,420.0 939.7,420.5 940.1,420.9 940.5,421.3 940.9,421.7 941.3,422.2 941.7,422.6 942.1,423.0 942.5,423.5 942.9,423.9 943.3,424.3 943.7,424.7 944.1,425.2 944.5,425.6 944.9,426.1 945.3,426.6 945.7,427.0 946.1,427.5 946.5,428.0 946.9,428.5 947.3,428.9 947.7,429.4 948.1,429.9 948.5,430.4 948.9,430.9 949.3,431.3 949.7,431.8 950.1,432.3 950.5,432.8 950.9,433.2 951.3,433.7 951.7,434.2 952.1,434.7 952.5,435.2 952.9,435.6 953.3,436.1 953.7,436.6 954.1,437.1 954.5,437.5 954.9,438.0 955.3,438.5 955.7,439.0 956.1,439.5 956.5,439.9 956.9,440.4 957.3,440.9 957.7,441.4 958.1,441.8 958.5,442.3 958.9,442.6 959.3,442.8 959.7,443.1 960.1,443.4 960.5,443.7 960.9,444.0 961.3,444.3 961.7,444.5 962.1,444.8 962.5,445.1 962.9,445.4 963.3,445.7 963.7,446.0 964.1,446.2 964.5,446.5 964.9,446.8 965.3,447.1 965.7,447.4 966.1,447.7 966.5,448.0 966.9,448.2 967.3,448.5 967.7,448.8 968.1,449.1 968.5,449.4 968.9,449.7 969.3,449.9 969.7,450.2 970.1,450.5 970.5,450.8 970.9,451.1 971.3,451.4 971.7,451.6 972.1,451.9 972.5,452.2 972.9,452.4 973.3,452.6 973.7,452.9 974.1,453.0 974.5,453.0 974.9,453.0 975.3,453.0 975.7,453.0 976.1,453.0 976.5,453.0 976.9,453.0 977.3,453.0 977.7,453.0 978.1,453.0 978.5,453.0 978.9,453.0 979.3,453.0 979.7,453.0 980.1,453.0 980.5,453.0 980.9,453.0 981.3,453.0 981.7,453.0 982.1,453.0 982.5,453.0 982.9,453.0 983.3,453.0 983.7,453.0 984.1,453.0 984.5,453.0 984.9,453.0 985.3,453.0 985.7,453.0 986.1,453.0 986.5,453.0 986.9,453.0 987.3,453.0 987.7,453.0 988.1,453.0 988.5,453.0 988.9,453.0 989.3,453.0 989.7,453.0 990.1,453.0 990.5,453.0 990.9,453.0 991.3,453.0 991.7,453.0 992.1,453.0 992.5,453.0 992.9,453.0 993.3,453.0 993.7,453.0 994.1,453.0 994.5,453.0 994.9,453.0 995.3,453.0 995.7,453.0 996.1,453.0 996.5,453.0 996.9,453.0 997.3,453.0 997.7,453.0 998.1,453.0 998.5,453.0 998.9,453.0 999.3,453.0 999.7,453.0 1000.1,453.0 1000.5,453.0 1000.9,453.0 1001.3,453.0 1001.7,453.0 1002.1,453.0 1002.5,453.0 1002.9,453.0 1003.3,453.0 1003.7,453.0 1004.1,453.0 1004.5,453.0 1004.9,453.0 1005.3,453.0 1005.7,453.0 1006.1,453.0 1006.5,453.0 1006.9,453.0 1007.3,453.0 1007.7,453.0 1008.1,453.0 1008.5,453.0 1008.9,453.0 1009.3,453.0 1009.7,453.0 1010.1,453.0 1010.5,453.0 1010.9,453.0 1011.3,453.0 1011.7,453.0 1012.1,453.0 1012.5,453.0 1012.9,453.0 1013.3,453.0 1013.7,453.0 1014.1,453.0 1014.5,453.0 1014.9,453.0 1015.3,453.0 1015.7,453.0 1016.1,453.0 1016.5,453.0 1016.9,453.0 1017.3,453.0 1017.7,453.0 1018.1,453.0 1018.5,453.0 1018.9,453.0 1019.3,453.0 1019.7,453.0 1020.1,453.0 1020.5,453.0 1020.9,453.0 1021.3,453.0 1021.7,453.0 1022.1,453.0 1022.5,453.0 1022.9,453.0 1023.3,453.0 1023.7,453.0 1024.1,453.0 1024.5,453.0 1024.9,453.0 1025.3,453.0 1025.7,453.0 1026.1,453.0 1026.5,453.0 1026.9,453.0 1027.3,453.0 1027.7,453.0 1028.1,453.0 1028.5,453.0 1028.9,453.0 1029.3,453.0 1029.7,453.0 1030.1,453.0 1030.5,453.0 1030.9,453.0 1031.3,453.0 1031.7,453.0 1032.1,453.0 1032.5,453.0 1032.9,453.0 1033.3,453.0 1033.7,453.0 1034.1,453.0 1034.5,453.0 1034.9,453.0 1035.3,453.0 1035.7,453.0 1036.1,453.0 1036.5,453.0 1036.9,453.0 1037.3,453.0 1037.7,453.0 1038.1,453.0 1038.5,453.0 1038.9,453.0 1039.3,453.0 1039.7,453.0 1040.1,453.0 1040.5,453.0 1040.9,453.0 1041.3,453.0 1041.7,453.0 1042.1,453.0 1042.5,453.0 1042.9,453.0 1043.3,453.0 1043.7,453.0 1044.1,453.0 1044.5,453.0 1044.9,453.0 1045.3,453.0 1045.7,453.0 1046.1,453.0 1046.5,453.0 1046.9,453.0 1047.3,453.0 1047.7,453.0 1048.1,453.0 1048.5,453.0 1048.9,453.0 1049.3,453.0 1049.7,453.0 1050.1,453.0 1050.5,453.0 1050.9,453.0 1051.3,453.0 1051.7,453.0 1052.1,453.0 1052.5,453.0 1052.9,453.0 1053.3,453.0 1053.7,453.0 1054.1,453.0 1054.5,453.0 1054.9,453.0 1055.3,453.0 1055.7,453.0 1056.1,453.0 1056.5,453.0 1056.9,453.0 1057.3,453.0 1057.7,453.0 1058.1,453.0 1058.5,453.0 1058.9,453.0 1059.3,453.0 1059.7,453.0 1060.1,453.0 1060.5,453.0 1060.9,453.0 1061.3,453.0 1061.7,447.3 1062.1,430.1 1062.5,430.1 1062.9,430.1 1063.3,430.1 1063.7,430.1 1064.1,430.1 1064.5,430.1 1064.9,430.1 1065.3,430.1 1065.7,430.1 1066.1,430.1 1066.5,430.1 1066.9,430.1 1067.3,430.1 1067.7,430.1 1068.1,430.1 1068.5,430.1 1068.9,430.1 1069.3,430.1 1069.7,430.1 1070.1,430.1 1070.5,430.1 1070.9,430.1 1071.3,430.1 1071.7,430.1 1072.1,430.1 1072.5,430.1 1072.9,430.1 1073.3,430.1 1073.7,430.1 1074.1,430.1 1074.5,430.1 1074.9,430.1 1075.3,430.1 1075.7,430.1 1076.1,430.1 1076.5,430.1 1076.9,430.1 1077.3,430.1 1077.7,430.1 1078.1,430.1 1078.5,430.1 1078.9,430.1 1079.3,430.1 1079.7,430.1 1080.1,430.1 1080.5,430.1 1080.9,430.1 1081.3,430.1 1081.7,430.1 1082.1,430.1 1082.5,430.1 1082.9,430.1 1083.3,430.1 1083.7,430.1 1084.1,430.1 1084.5,430.1 1084.9,430.1 1085.3,430.1 1085.7,430.1 1086.1,430.1 1086.5,430.1 1086.9,430.1 1087.3,430.1 1087.7,430.1 1088.1,430.1 1088.5,430.1 1088.9,430.1 1089.3,430.1 1089.7,430.1 1090.1,430.1 1090.5,430.1 1090.9,430.1 1091.3,430.1 1091.7,430.1 1092.1,430.1 1092.5,430.1 1092.9,430.1 1093.3,430.1 1093.7,430.1 1094.1,430.1 1094.5,430.1 1094.9,430.1 1095.3,430.1 1095.7,430.1 1096.1,430.1 1096.5,430.1 1096.9,430.1 1097.3,430.1 1097.7,430.1 1098.1,430.1 1098.5,430.1 1098.9,430.1 1099.3,430.1 1099.7,430.1 1100.1,430.1 1100.5,430.1 1100.9,430.1 1101.3,430.1 1101.7,430.1 1102.1,430.1 1102.5,430.1 1102.9,430.1 1103.3,430.1 1103.7,430.1 1104.1,430.1 1104.5,430.1 1104.9,430.1 1105.3,430.1 1105.7,430.1 1106.1,430.1 1106.5,430.1 1106.9,430.1 1107.3,430.1 1107.7,430.1 1108.1,430.1 1108.5,430.1 1108.9,430.1 1109.3,430.1 1109.7,430.1 1110.1,430.1 1110.5,430.1 1110.9,430.1 1111.3,430.1 1111.7,430.1 1112.1,430.1 1112.5,430.1 1112.9,430.1 1113.3,430.1 1113.7,430.1 1114.1,430.1 1114.5,430.1 1114.9,430.1 1115.3,430.1 1115.7,430.1 1116.1,430.1 1116.5,430.1 1116.9,430.1 1117.3,430.1 1117.7,430.1 1118.1,430.1 1118.5,430.1 1118.9,430.1 1119.3,430.1 1119.7,430.1 1120.1,430.1 1120.5,430.1 1120.9,430.1 1121.3,430.1 1121.7,430.1 1122.1,430.1 1122.5,430.1 1122.9,430.1 1123.3,430.1 1123.7,430.1 1124.1,430.1 1124.5,430.1 1124.9,430.1 1125.3,430.1 1125.7,430.1 1126.1,430.1 1126.5,430.1 1126.9,430.1 1127.3,430.1 1127.7,430.1 1128.1,430.1 1128.5,430.1 1128.9,430.1 1129.3,430.1 1129.7,430.1 1130.1,430.1 1130.5,430.1 1130.9,430.1 1131.3,430.1 1131.7,430.1 1132.1,430.1 1132.5,430.1 1132.9,430.1 1133.3,430.1 1133.7,430.1 1134.1,430.1 1134.5,430.1 1134.9,430.1 1135.3,430.1 1135.7,430.1 1136.1,430.1 1136.5,430.1 1136.9,430.1 1137.3,430.1 1137.7,430.1 1138.1,430.1 1138.5,430.1 1138.9,430.1 1139.3,430.1 1139.7,430.1 1140.1,430.1 1140.5,430.1 1140.9,430.1 1141.3,430.1 1141.7,430.1 1142.1,430.1 1142.5,430.1 1142.9,430.1 1143.3,430.1 1143.7,430.1 1144.1,430.1 1144.5,430.1 1145.0,430.1 1145.0,520.3 36.1,520.3" fill="#D6E6B6"/>
<polygon points="36.1,430.1 36.5,430.1 36.9,430.1 37.3,430.1 37.7,430.1 38.1,430.1 38.5,430.1 38.9,430.1 39.3,430.1 39.7,430.1 40.1,430.1 40.5,430.1 40.9,430.1 41.3,430.1 41.7,430.1 42.1,430.1 42.5,430.1 42.9,430.1 43.3,430.1 43.7,430.1 44.1,430.1 44.5,430.1 44.9,430.1 45.3,430.1 45.7,430.1 46.1,430.1 46.5,430.1 46.9,430.1 47.3,430.1 47.7,430.1 48.1,430.1 48.5,430.1 48.9,430.1 49.3,430.1 49.7,430.1 50.1,430.1 50.5,430.1 50.9,430.1 51.3,430.1 51.7,430.1 52.1,430.1 52.5,430.1 52.9,430.1 53.3,430.1 53.7,430.1 54.1,430.1 54.5,430.1 54.9,430.1 55.3,430.1 55.7,430.1 56.1,430.1 56.5,430.1 56.9,430.1 57.3,430.1 57.7,430.1 58.1,430.1 58.5,430.1 58.9,430.1 59.3,430.1 59.7,430.1 60.1,430.1 60.5,430.1 60.9,430.1 61.3,430.1 61.7,430.1 62.1,430.1 62.5,430.1 62.9,430.1 63.3,430.1 63.7,430.1 64.1,430.1 64.5,430.1 64.9,430.1 65.3,430.1 65.7,430.1 66.1,430.1 66.5,430.1 66.9,430.1 67.3,430.1 67.7,430.1 68.1,430.1 68.5,430.1 68.9,430.1 69.3,430.1 69.7,430.1 70.1,430.1 70.5,430.1 70.9,430.1 71.3,430.1 71.7,430.1 72.1,430.1 72.5,430.1 72.9,428.5 73.3,428.3 73.7,428.1 74.1,427.9 74.5,427.7 74.9,427.5 75.3,427.3 75.7,427.1 76.1,426.9 76.5,426.7 76.9,426.5 77.3,426.3 77.7,426.0 78.1,425.8 78.5,425.6 78.9,425.4 79.3,425.2 79.7,425.0 80.1,424.8 80.5,424.6 80.9,424.4 81.3,424.2 81.7,424.0 82.1,423.8 82.5,423.5 82.9,423.3 83.3,423.1 83.7,422.9 84.1,422.7 84.5,422.5 84.9,422.3 85.3,422.1 85.7,421.9 86.1,421.7 86.5,421.5 86.9,421.3 87.3,421.0 87.7,420.8 88.1,420.6 88.5,420.4 88.9,420.2 89.3,420.0 89.7,419.8 90.1,419.6 90.5,419.4 90.9,419.2 91.3,419.0 91.7,418.8 92.1,418.5 92.5,418.3 92.9,418.1 93.3,417.9 93.7,417.7 94.1,417.5 94.5,417.3 94.9,417.1 95.3,416.9 95.7,416.7 96.1,416.5 96.5,416.3 96.9,416.0 97.3,415.8 97.7,415.6 98.1,415.4 98.5,415.2 98.9,415.0 99.3,414.8 99.7,414.6 100.1,414.4 100.5,414.2 100.9,414.0 101.3,413.8 101.7,413.5 102.1,413.3 102.5,413.1 102.9,412.9 103.3,412.7 103.7,412.5 104.1,412.3 104.5,412.1 104.9,411.9 105.3,411.7 105.7,411.5 106.1,411.3 106.5,411.0 106.9,410.8 107.3,410.6 107.7,410.4 108.1,410.2 108.5,410.0 108.9,409.8 109.3,409.6 109.7,409.4 110.1,409.2 110.5,409.0 110.9,408.8 111.3,408.5 111.7,408.3 112.1,408.1 112.5,407.9 112.9,407.7 113.3,407.5 113.7,407.3 114.1,407.1 114.5,406.9 114.9,406.7 115.3,406.5 115.7,406.3 116.1,406.0 116.5,405.8 116.9,405.6 117.3,405.4 117.7,405.2 118.1,405.0 118.5,404.8 118.9,404.6 119.3,404.4 119.7,404.2 120.1,404.0 120.5,403.8 120.9,403.5 121.3,403.3 121.7,403.1 122.1,402.9 122.5,402.7 122.9,402.5 123.3,402.3 123.7,403.4 124.1,404.4 124.5,405.5 124.9,406.5 125.3,407.6 125.7,408.7 126.1,409.7 126.5,410.0 126.9,410.1 127.3,410.1 127.7,410.2 128.1,410.2 128.5,410.3 128.9,410.3 129.3,410.4 129.7,410.4 130.1,410.5 130.5,410.5 130.9,410.6 131.3,410.6 131.7,410.7 132.1,410.7 132.5,410.8 132.9,410.8 133.3,410.9 133.7,410.9 134.1,411.0 134.5,411.0 134.9,411.1 135.3,411.1 135.7,411.2 136.1,411.2 136.5,411.3 136.9,411.3 137.3,411.4 137.7,411.4 138.1,411.5 138.5,411.5 138.9,411.6 139.3,411.6 139.7,411.7 140.1,411.7 140.5,411.8 140.9,411.8 141.3,411.9 141.7,411.9 142.1,412.0 142.5,412.0 142.9,412.1 143.3,412.1 143.7,412.2 144.1,412.2 144.5,412.3 144.9,412.3 145.3,412.4 145.7,412.4 146.1,412.5 146.5,412.5 146.9,412.6 147.3,412.6 147.7,412.7 148.1,412.7 148.5,412.8 148.9,412.8 149.3,412.9 149.7,412.9 150.1,413.0 150.5,413.0 150.9,413.1 151.3,413.1 151.7,413.2 152.1,413.2 152.5,413.3 152.9,413.3 153.3,413.4 153.7,413.4 154.1,413.5 154.5,413.5 154.9,413.6 155.3,413.6 155.7,413.7 156.1,413.7 156.5,413.8 156.9,413.8 157.3,413.9 157.7,413.9 158.1,414.0 158.5,414.0 158.9,414.1 159.3,414.1 159.7,414.2 160.1,414.2 160.5,414.3 160.9,414.3 161.3,414.4 161.7,414.4 162.1,414.5 162.5,414.5 162.9,414.6 163.3,414.6 163.7,414.7 164.1,414.7 164.5,414.8 164.9,414.8 165.3,414.9 165.7,414.9 166.1,415.0 166.5,415.0 166.9,415.1 167.3,415.1 167.7,415.2 168.1,412.7 168.5,409.4 168.9,406.0 169.3,402.7 169.7,399.3 170.1,396.0 170.5,392.6 170.9,391.8 171.3,391.9 171.7,391.9 172.1,392.0 172.5,392.0 172.9,392.1 173.3,392.1 173.7,392.2 174.1,392.2 174.5,392.3 174.9,392.3 175.3,392.4 175.7,392.5 176.1,392.5 176.5,392.6 176.9,392.6 177.3,392.7 177.7,392.7 178.1,392.8 178.5,392.8 178.9,392.9 179.3,392.9 179.7,393.0 180.1,393.0 180.5,392.9 180.9,392.9 181.3,392.8 181.7,392.7 182.1,392.7 182.5,392.6 182.9,392.6 183.3,392.5 183.7,392.4 184.1,392.4 184.5,392.3 184.9,392.2 185.3,392.2 185.7,392.1 186.1,392.1 186.5,392.0 186.9,391.9 187.3,391.9 187.7,391.8 188.1,391.7 188.5,391.7 188.9,391.6 189.3,391.6 189.7,391.5 190.1,391.4 190.5,391.4 190.9,391.3 191.3,391.3 191.7,391.2 192.1,391.1 192.5,391.1 192.9,391.0 193.3,390.9 193.7,390.9 194.1,390.8 194.5,390.8 194.9,390.7 195.3,390.6 195.7,390.6 196.1,390.5 196.5,390.4 196.9,390.4 197.3,390.3 197.7,390.3 198.1,390.2 198.5,390.1 198.9,390.1 199.3,390.0 199.7,390.0 200.1,389.9 200.5,389.8 200.9,389.8 201.3,389.7 201.7,389.6 202.1,389.6 202.5,389.5 202.9,389.5 203.3,389.4 203.7,389.3 204.1,389.3 204.5,389.2 204.9,389.1 205.3,389.1 205.7,389.0 206.1,389.0 206.5,388.9 206.9,388.8 207.3,388.8 207.7,388.7 208.1,388.7 208.5,388.6 208.9,388.5 209.3,388.5 209.7,388.4 210.1,388.3 210.5,388.3 210.9,388.2 211.3,388.2 211.7,388.1 212.1,388.0 212.5,387.6 212.9,386.9 213.3,386.2 213.7,385.5 214.1,384.8 214.5,384.1 214.9,383.4 215.3,382.7 215.7,382.0 216.1,381.3 216.5,380.9 216.9,380.8 217.3,380.8 217.7,380.8 218.1,380.7 218.5,380.7 218.9,380.7 219.3,380.6 219.7,380.6 220.1,380.6 220.5,380.5 220.9,380.5 221.3,380.5 221.7,380.4 222.1,380.4 222.5,380.4 222.9,380.3 223.3,380.3 223.7,380.3 224.1,380.2 224.5,380.2 224.9,380.2 225.3,380.1 225.7,380.1 226.1,380.1 226.5,380.0 226.9,380.0 227.3,380.0 227.7,379.9 228.1,379.9 228.5,379.9 228.9,379.8 229.3,379.8 229.7,379.8 230.1,379.7 230.5,379.7 230.9,379.8 231.3,379.9 231.7,380.0 232.1,380.1 232.5,380.2 232.9,380.2 233.3,380.3 233.7,380.4 234.1,380.5 234.5,380.6 234.9,380.7 235.3,380.8 235.7,380.9 236.1,381.0 236.5,381.1 236.9,381.2 237.3,381.3 237.7,381.3 238.1,381.4 238.5,381.5 238.9,381.6 239.3,381.7 239.7,381.8 240.1,381.9 240.5,382.0 240.9,382.1 241.3,382.2 241.7,382.3 242.1,382.4 242.5,382.4 242.9,382.5 243.3,382.6 243.7,382.7 244.1,382.8 244.5,382.9 244.9,383.0 245.3,383.1 245.7,383.2 246.1,383.3 246.5,383.4 246.9,383.4 247.3,383.5 247.7,383.6 248.1,383.7 248.5,383.8 248.9,383.9 249.3,384.0 249.7,384.1 250.1,384.2 250.5,384.3 250.9,384.4 251.3,384.5 251.7,384.5 252.1,384.6 252.5,384.7 252.9,384.8 253.3,384.9 253.7,385.0 254.1,385.1 254.5,385.2 254.9,385.3 255.3,385.4 255.7,385.5 256.1,385.6 256.5,385.6 256.9,385.7 257.3,385.8 257.7,385.9 258.1,386.0 258.5,386.1 258.9,386.2 259.3,386.3 259.7,386.4 260.1,386.5 260.5,386.6 260.9,386.6 261.3,386.7 261.7,386.8 262.1,387.4 262.5,389.2 262.9,391.1 263.3,392.9 263.7,394.8 264.1,396.6 264.5,398.5 264.9,400.3 265.3,400.4 265.7,400.4 266.1,400.5 266.5,400.6 266.9,400.6 267.3,400.7 267.7,400.8 268.1,400.8 268.5,400.9 268.9,401.0 269.3,401.0 269.7,401.1 270.1,401.2 270.5,401.2 270.9,401.3 271.3,401.4 271.7,401.4 272.1,401.5 272.5,401.6 272.9,401.6 273.3,401.7 273.7,401.8 274.1,401.8 274.5,401.9 274.9,402.0 275.3,402.0 275.7,402.1 276.1,402.2 276.5,402.2 276.9,402.3 277.3,402.4 277.7,402.4 278.1,402.5 278.5,402.6 278.9,402.6 279.3,402.7 279.7,402.8 280.1,402.8 280.5,402.9 280.9,403.0 281.3,403.0 281.7,403.1 282.1,403.2 282.5,403.2 282.9,403.3 283.3,403.4 283.7,403.4 284.1,403.5 284.5,403.6 284.9,403.6 285.3,403.7 285.7,403.8 286.1,403.8 286.5,403.9 286.9,404.0 287.3,404.0 287.7,404.1 288.1,404.2 288.5,404.2 288.9,404.3 289.3,404.4 289.7,404.4 290.1,404.5 290.5,404.5 290.9,404.6 291.3,404.6 291.7,404.7 292.1,404.7 292.5,404.7 292.9,404.8 293.3,404.8 293.7,404.9 294.1,404.9 294.5,404.9 294.9,405.0 295.3,405.0 295.7,405.1 296.1,405.1 296.5,405.1 296.9,405.2 297.3,405.2 297.7,405.3 298.1,405.3 298.5,405.3 298.9,405.4 299.3,405.4 299.7,405.5 300.1,405.5 300.5,405.5 300.9,405.6 301.3,405.6 301.7,405.7 302.1,405.7 302.5,405.7 302.9,405.8 303.3,405.8 303.7,405.9 304.1,405.9 304.5,405.9 304.9,406.0 305.3,406.0 305.7,406.1 306.1,406.1 306.5,406.1 306.9,406.2 307.3,406.2 307.7,406.3 308.1,406.3 308.5,406.3 308.9,406.4 309.3,406.4 309.7,406.5 310.1,406.5 310.5,406.5 310.9,406.6 311.3,406.6 311.7,406.6 312.1,406.7 312.5,406.7 312.9,406.8 313.3,406.8 313.7,406.8 314.1,406.9 314.5,406.9 314.9,407.0 315.3,407.0 315.7,407.0 316.1,407.1 316.5,407.1 316.9,407.2 317.3,407.2 317.7,407.2 318.1,407.3 318.5,407.3 318.9,407.4 319.3,407.4 319.7,407.4 320.1,407.5 320.5,407.5 320.9,407.6 321.3,407.6 321.7,407.6 322.1,407.7 322.5,407.8 322.9,408.0 323.3,408.2 323.7,408.4 324.1,408.6 324.5,408.8 324.9,409.0 325.3,409.2 325.7,409.4 326.1,409.6 326.5,409.8 326.9,410.0 327.3,410.2 327.7,410.4 328.1,410.6 328.5,410.8 328.9,411.0 329.3,411.2 329.7,411.4 330.1,411.6 330.5,411.8 330.9,412.1 331.3,412.4 331.7,412.7 332.1,413.0 332.5,413.3 332.9,413.6 333.3,413.9 333.7,414.2 334.1,414.5 334.5,414.8 334.9,415.1 335.3,415.4 335.7,415.7 336.1,416.0 336.5,416.3 336.9,416.6 337.3,416.9 337.7,417.2 338.1,417.5 338.5,417.8 338.9,418.1 339.3,418.4 339.7,418.7 340.1,419.0 340.5,419.3 340.9,419.6 341.3,419.9 341.7,420.2 342.1,420.5 342.5,420.8 342.9,421.1 343.3,421.4 343.7,421.7 344.1,422.0 344.5,422.3 344.9,422.6 345.3,422.9 345.7,423.2 346.1,423.5 346.5,423.8 346.9,424.1 347.3,424.4 347.7,424.7 348.1,425.0 348.5,425.3 348.9,425.6 349.3,425.9 349.7,426.2 350.1,426.5 350.5,426.8 350.9,427.1 351.3,427.4 351.7,427.7 352.1,428.0 352.5,428.3 352.9,428.6 353.3,428.9 353.7,429.2 354.1,429.5 354.5,429.8 354.9,430.1 355.3,430.4 355.7,430.7 356.1,431.0 356.5,431.3 356.9,431.6 357.3,431.9 357.7,432.2 358.1,432.5 358.5,432.8 358.9,433.1 359.3,433.4 359.7,433.7 360.1,434.0 360.5,434.3 360.9,434.6 361.3,434.9 361.7,435.2 362.1,435.5 362.5,435.8 362.9,436.6 363.3,437.8 363.7,439.0 364.1,440.1 364.5,441.3 364.9,442.5 365.3,443.7 365.7,444.2 366.1,444.4 366.5,444.7 366.9,444.9 367.3,445.1 367.7,445.4 368.1,445.6 368.5,445.9 368.9,446.1 369.3,446.3 369.7,446.6 370.1,446.8 370.5,447.1 370.9,447.3 371.3,447.5 371.7,447.8 372.1,448.0 372.5,448.3 372.9,448.5 373.3,448.7 373.7,449.0 374.1,449.2 374.5,449.5 374.9,449.7 375.3,449.9 375.7,450.2 376.1,450.4 376.5,450.7 376.9,450.9 377.3,451.1 377.7,451.4 378.1,451.6 378.5,451.9 378.9,452.1 379.3,452.4 379.7,452.6 380.1,452.9 380.5,453.0 380.9,453.0 381.3,453.0 381.7,453.0 382.1,453.0 382.5,453.0 382.9,453.0 383.3,453.0 383.7,453.0 384.1,453.0 384.5,453.0 384.9,453.0 385.3,453.0 385.7,453.0 386.1,453.0 386.5,453.0 386.9,453.0 387.3,453.0 387.7,453.0 388.1,453.0 388.5,453.0 388.9,453.0 389.3,453.0 389.7,453.0 390.1,453.0 390.5,453.0 390.9,453.0 391.3,453.0 391.7,453.0 392.1,453.0 392.5,453.0 392.9,453.0 393.3,453.0 393.7,453.0 394.1,453.0 394.5,453.0 394.9,453.0 395.3,453.0 395.7,453.0 396.1,453.0 396.5,453.0 396.9,453.0 397.3,453.0 397.7,453.0 398.1,453.0 398.5,453.0 398.9,453.0 399.3,453.0 399.7,453.0 400.1,453.0 400.5,453.0 400.9,453.0 401.3,453.0 401.7,453.0 402.1,453.0 402.5,453.0 402.9,453.0 403.3,453.0 403.7,453.0 404.1,453.0 404.5,453.0 404.9,453.0 405.3,453.0 405.7,453.0 406.1,453.0 406.5,453.0 406.9,453.0 407.3,453.0 407.7,453.0 408.1,453.0 408.5,453.0 408.9,453.0 409.3,453.0 409.7,453.0 410.1,453.0 410.5,453.0 410.9,453.0 411.3,453.0 411.7,453.0 412.1,453.0 412.5,453.0 412.9,453.0 413.3,453.0 413.7,453.0 414.1,453.0 414.5,453.0 414.9,453.0 415.3,453.0 415.7,453.0 416.1,453.0 416.5,453.0 416.9,453.0 417.3,453.0 417.7,453.0 418.1,453.0 418.5,453.0 418.9,453.0 419.3,453.0 419.7,453.0 420.1,453.0 420.5,453.0 420.9,453.0 421.3,453.0 421.7,453.0 422.1,453.0 422.5,453.0 422.9,453.0 423.3,453.0 423.7,453.0 424.1,453.0 424.5,453.0 424.9,453.0 425.3,453.0 425.7,453.0 426.1,453.0 426.5,453.0 426.9,453.0 427.3,453.0 427.7,453.0 428.1,453.0 428.5,453.0 428.9,453.0 429.3,453.0 429.7,453.0 430.1,453.0 430.5,453.0 430.9,453.0 431.3,453.0 431.7,453.0 432.1,453.0 432.5,453.0 432.9,453.0 433.3,453.0 433.7,453.0 434.1,453.0 434.5,453.0 434.9,453.0 435.3,453.0 435.7,453.0 436.1,453.0 436.5,453.0 436.9,453.0 437.3,453.0 437.7,453.0 438.1,453.0 438.5,453.0 438.9,453.0 439.3,453.0 439.7,453.0 440.1,453.0 440.5,453.0 440.9,453.0 441.3,453.0 441.7,453.0 442.1,453.0 442.5,453.0 442.9,453.0 443.3,453.0 443.7,453.0 444.1,453.0 444.5,453.0 444.9,453.0 445.3,453.0 445.7,453.0 446.1,453.0 446.5,453.0 446.9,453.0 447.3,453.0 447.7,453.0 448.1,453.0 448.5,453.0 448.9,453.0 449.3,453.0 449.7,453.0 450.1,453.0 450.5,453.0 450.9,453.0 451.3,453.0 451.7,453.0 452.1,453.0 452.5,453.0 452.9,453.0 453.3,453.0 453.7,453.0 454.1,453.0 454.5,453.0 454.9,453.0 455.3,453.0 455.7,453.0 456.1,453.0 456.5,453.0 456.9,453.0 457.3,453.0 457.7,453.0 458.1,453.0 458.5,453.0 458.9,453.0 459.3,453.0 459.7,453.0 460.1,453.0 460.5,453.0 460.9,453.0 461.3,453.0 461.7,453.0 462.1,453.0 462.5,453.0 462.9,453.0 463.3,453.0 463.7,453.0 464.1,453.0 464.5,453.0 464.9,453.0 465.3,453.0 465.7,453.0 466.1,453.0 466.5,453.0 466.9,453.0 467.3,453.0 467.7,453.0 468.1,453.0 468.5,453.0 468.9,453.0 469.3,453.0 469.7,453.0 470.1,453.0 470.5,453.0 470.9,453.0 471.3,453.0 471.7,453.0 472.1,453.0 472.5,453.0 472.9,453.0 473.3,453.0 473.7,453.0 474.1,453.0 474.5,453.0 474.9,447.3 475.3,430.1 475.7,430.1 476.1,430.1 476.5,430.1 476.9,430.1 477.3,430.1 477.7,430.1 478.1,430.1 478.5,430.1 478.9,430.1 479.3,430.1 479.7,430.1 480.1,430.1 480.5,430.1 480.9,430.1 481.3,430.1 481.7,430.1 482.1,430.1 482.5,430.1 482.9,430.1 483.3,430.1 483.7,430.1 484.1,430.1 484.5,430.1 484.9,430.1 485.3,430.1 485.7,430.1 486.1,430.1 486.5,430.1 486.9,430.1 487.3,430.1 487.7,430.1 488.1,430.1 488.5,430.1 488.9,430.1 489.3,430.1 489.7,430.1 490.1,430.1 490.5,430.1 490.9,430.1 491.3,430.1 491.7,430.1 492.1,430.1 492.5,430.1 492.9,430.1 493.3,430.1 493.7,430.1 494.1,430.1 494.5,430.1 494.9,430.1 495.3,430.1 495.7,430.1 496.1,430.1 496.5,430.1 496.9,430.1 497.3,430.1 497.7,430.1 498.1,430.1 498.5,430.1 498.9,430.1 499.3,430.1 499.7,430.1 500.1,430.1 500.5,430.1 500.9,430.1 501.3,430.1 501.7,430.1 502.1,430.1 502.5,430.1 502.9,430.1 503.3,430.1 503.7,430.1 504.1,430.1 504.5,430.1 504.9,430.1 505.3,430.1 505.7,430.1 506.1,430.1 506.5,430.1 506.9,430.1 507.3,430.1 507.7,430.1 508.1,430.1 508.5,430.1 508.9,430.1 509.3,430.1 509.7,430.1 510.1,430.1 510.5,430.1 510.9,430.1 511.3,430.1 511.7,430.1 512.1,430.1 512.5,430.1 512.9,430.1 513.3,430.1 513.7,430.1 514.1,430.1 514.5,430.1 514.9,430.1 515.3,430.1 515.7,430.1 516.1,430.1 516.5,430.1 516.9,430.1 517.3,430.1 517.7,430.1 518.1,430.1 518.5,430.1 518.9,430.1 519.3,430.1 519.7,430.1 520.1,430.1 520.5,430.1 520.9,430.1 521.3,430.1 521.7,430.1 522.1,430.1 522.5,430.1 522.9,430.1 523.3,430.1 523.7,430.1 524.1,430.1 524.5,430.1 524.9,430.1 525.3,430.1 525.7,430.1 526.1,430.1 526.5,430.1 526.9,430.1 527.3,430.1 527.7,430.1 528.1,430.1 528.5,430.1 528.9,430.1 529.3,430.1 529.7,430.1 530.1,430.1 530.5,430.1 530.9,430.1 531.3,430.1 531.7,430.1 532.1,430.1 532.5,430.1 532.9,430.1 533.3,430.1 533.7,430.1 534.1,430.1 534.5,430.1 534.9,430.1 535.3,430.1 535.7,430.1 536.1,430.1 536.5,430.1 536.9,430.1 537.3,430.1 537.7,430.1 538.1,430.1 538.5,430.1 538.9,430.1 539.3,430.1 539.7,430.1 540.1,430.1 540.5,430.1 540.9,430.1 541.3,430.1 541.7,430.1 542.1,430.1 542.5,430.1 542.9,430.1 543.3,430.1 543.7,430.1 544.1,430.1 544.5,430.1 544.9,430.1 545.3,430.1 545.7,430.1 546.1,430.1 546.5,430.1 546.9,430.1 547.3,430.1 547.7,430.1 548.1,430.1 548.5,430.1 548.9,430.1 549.3,430.1 549.7,430.1 550.1,430.1 550.5,430.1 550.9,430.1 551.3,430.1 551.7,430.1 552.1,430.1 552.5,430.1 552.9,430.1 553.3,430.1 553.7,430.1 554.1,430.1 554.5,430.1 554.9,430.1 555.3,430.1 555.7,430.1 556.1,430.1 556.5,430.1 556.9,430.1 557.3,430.1 557.7,430.1 558.1,430.1 558.5,430.1 558.9,430.1 559.3,430.1 559.7,430.1 560.1,430.1 560.5,430.1 560.9,430.1 561.3,430.1 561.7,430.1 562.1,430.1 562.5,430.1 562.9,430.1 563.3,430.1 563.7,430.1 564.1,430.1 564.5,430.1 564.9,430.1 565.3,430.1 565.7,430.1 566.1,430.1 566.5,430.1 566.9,430.1 567.3,430.1 567.7,430.1 568.1,430.1 568.5,430.1 568.9,430.1 569.3,430.1 569.7,430.1 570.1,430.1 570.5,430.1 570.9,430.1 571.3,430.1 571.7,430.1 572.1,430.1 572.5,430.1 572.9,430.1 573.3,430.1 573.7,430.1 574.1,430.1 574.5,430.1 574.9,430.1 575.3,430.1 575.7,430.1 576.1,430.1 576.5,430.1 576.9,430.1 577.3,430.1 577.7,430.1 578.1,430.1 578.5,430.1 578.9,430.1 579.3,430.1 579.7,430.1 580.1,430.1 580.5,430.1 580.9,430.1 581.3,430.1 581.7,430.1 582.1,430.1 582.5,430.1 582.9,430.1 583.3,430.1 583.7,430.1 584.1,430.1 584.5,430.1 584.9,430.1 585.3,430.1 585.7,430.1 586.1,430.1 586.5,430.1 586.9,430.1 587.3,430.1 587.7,430.1 588.1,430.1 588.5,430.1 588.9,430.1 589.3,430.1 589.7,430.1 590.1,430.1 590.5,430.1 590.9,430.1 591.3,430.1 591.7,430.1 592.1,430.1 592.5,430.1 592.9,430.1 593.3,430.1 593.7,430.1 594.1,430.1 594.5,430.1 594.9,430.1 595.3,430.1 595.7,430.1 596.1,430.1 596.5,430.1 596.9,430.1 597.3,430.1 597.7,430.1 598.1,430.1 598.5,430.1 598.9,430.1 599.3,430.1 599.7,430.1 600.1,430.1 600.5,430.1 600.9,430.1 601.3,430.1 601.7,430.1 602.1,430.1 602.5,430.1 602.9,430.1 603.3,430.1 603.7,430.1 604.1,430.1 604.5,430.1 604.9,430.1 605.3,430.1 605.7,430.1 606.1,430.1 606.5,430.1 606.9,430.1 607.3,430.1 607.7,430.1 608.1,430.1 608.5,430.1 608.9,430.1 609.3,430.1 609.7,430.1 610.1,430.1 610.5,430.1 610.9,430.1 611.3,430.1 611.7,430.1 612.1,430.1 612.5,430.1 612.9,430.1 613.3,430.1 613.7,430.1 614.1,430.1 614.5,430.1 614.9,430.1 615.3,430.1 615.7,430.1 616.1,430.1 616.5,430.1 616.9,430.1 617.3,430.1 617.7,430.1 618.1,430.1 618.5,430.1 618.9,430.1 619.3,430.1 619.7,430.1 620.1,430.1 620.5,430.1 620.9,430.1 621.3,430.1 621.7,430.1 622.1,430.1 622.5,430.1 622.9,430.1 623.3,430.1 623.7,430.1 624.1,430.1 624.5,430.1 624.9,430.1 625.3,430.1 625.7,430.1 626.1,430.1 626.5,430.1 626.9,430.1 627.3,430.1 627.7,430.1 628.1,430.1 628.5,430.1 628.9,430.1 629.3,430.1 629.7,430.1 630.1,430.1 630.5,430.1 630.9,430.1 631.3,430.1 631.7,430.1 632.1,430.1 632.5,430.1 632.9,430.1 633.3,430.1 633.7,430.1 634.1,430.1 634.5,430.1 634.9,430.1 635.3,430.1 635.7,430.1 636.1,430.1 636.5,430.1 636.9,430.1 637.3,430.1 637.7,430.1 638.1,430.1 638.5,430.1 638.9,430.1 639.3,430.1 639.7,430.1 640.1,430.1 640.5,430.1 640.9,430.1 641.3,430.1 641.7,430.1 642.1,430.1 642.5,430.1 642.9,430.1 643.3,430.1 643.7,430.1 644.1,430.1 644.5,430.1 644.9,430.1 645.3,430.1 645.7,430.1 646.1,430.1 646.5,430.1 646.9,430.1 647.3,430.1 647.7,430.1 648.1,430.1 648.5,430.1 648.9,430.1 649.3,430.1 649.7,430.1 650.1,430.1 650.5,430.1 650.9,430.1 651.3,430.1 651.7,430.1 652.1,430.1 652.5,430.1 652.9,430.1 653.3,430.1 653.7,430.1 654.1,430.1 654.5,430.1 654.9,430.1 655.3,430.1 655.7,430.1 656.1,430.1 656.5,430.1 656.9,430.1 657.3,430.1 657.7,430.1 658.1,430.1 658.5,430.1 658.9,430.1 659.3,430.1 659.7,430.1 660.1,430.1 660.5,430.1 660.9,430.1 661.3,430.1 661.7,430.1 662.1,430.1 662.5,430.1 662.9,430.1 663.3,430.1 663.7,430.1 664.1,430.1 664.5,430.1 664.9,430.1 665.3,430.1 665.7,430.1 666.1,430.1 666.5,430.1 666.9,430.1 667.3,430.1 667.7,430.1 668.1,430.1 668.5,430.1 668.9,430.1 669.3,430.1 669.7,430.1 670.1,430.1 670.5,430.1 670.9,430.1 671.3,430.1 671.7,430.1 672.1,430.1 672.5,430.1 672.9,430.1 673.3,430.1 673.7,430.1 674.1,430.1 674.5,430.1 674.9,430.1 675.3,430.1 675.7,430.1 676.1,430.1 676.5,430.1 676.9,430.1 677.3,430.1 677.7,430.1 678.1,430.1 678.5,430.1 678.9,430.1 679.3,430.1 679.7,430.1 680.1,430.1 680.5,430.1 680.9,430.1 681.3,430.1 681.7,430.1 682.1,430.1 682.5,429.9 682.9,429.7 683.3,429.5 683.7,429.3 684.1,429.1 684.5,428.9 684.9,428.7 685.3,428.5 685.7,428.3 686.1,428.1 686.5,427.9 686.9,427.7 687.3,427.5 687.7,427.3 688.1,427.1 688.5,426.9 688.9,426.7 689.3,426.5 689.7,426.3 690.1,426.1 690.5,425.9 690.9,425.7 691.3,425.5 691.7,425.3 692.1,425.1 692.5,424.9 692.9,424.7 693.3,424.5 693.7,424.3 694.1,424.1 694.5,423.9 694.9,423.7 695.3,423.4 695.7,423.2 696.1,423.0 696.5,422.7 696.9,422.5 697.3,422.3 697.7,422.1 698.1,421.8 698.5,421.6 698.9,421.4 699.3,421.1 699.7,420.9 700.1,420.7 700.5,420.4 700.9,420.2 701.3,420.0 701.7,419.8 702.1,419.5 702.5,419.3 702.9,419.1 703.3,418.8 703.7,418.6 704.1,418.4 704.5,418.1 704.9,417.9 705.3,417.7 705.7,417.5 706.1,417.2 706.5,417.0 706.9,416.8 707.3,416.5 707.7,416.3 708.1,416.1 708.5,415.8 708.9,415.6 709.3,415.4 709.7,415.3 710.1,415.2 710.5,415.0 710.9,414.9 711.3,414.8 711.7,414.6 712.1,414.5 712.5,414.3 712.9,414.2 713.3,414.1 713.7,413.9 714.1,413.8 714.5,413.7 714.9,413.5 715.3,413.4 715.7,413.3 716.1,413.1 716.5,413.0 716.9,412.9 717.3,412.7 717.7,412.6 718.1,412.4 718.5,412.3 718.9,412.2 719.3,412.0 719.7,411.9 720.1,411.8 720.5,411.8 720.9,411.8 721.3,411.8 721.7,411.8 722.1,411.8 722.5,411.8 722.9,411.8 723.3,411.8 723.7,411.8 724.1,411.8 724.5,411.8 724.9,411.8 725.3,411.8 725.7,411.8 726.1,411.8 726.5,411.8 726.9,411.8 727.3,411.8 727.7,411.8 728.1,411.8 728.5,411.8 728.9,411.8 729.3,411.8 729.7,411.8 730.1,411.8 730.5,411.8 730.9,411.8 731.3,411.8 731.7,411.8 732.1,411.8 732.5,411.8 732.9,411.8 733.3,411.8 733.7,411.8 734.1,411.8 734.5,411.8 734.9,411.8 735.3,411.8 735.7,411.8 736.1,411.9 736.5,411.9 736.9,411.9 737.3,411.9 737.7,412.0 738.1,412.0 738.5,412.0 738.9,412.0 739.3,412.0 739.7,412.1 740.1,412.1 740.5,412.1 740.9,412.1 741.3,412.2 741.7,412.2 742.1,412.2 742.5,412.2 742.9,412.2 743.3,412.3 743.7,412.3 744.1,412.3 744.5,412.3 744.9,412.4 745.3,412.4 745.7,412.4 746.1,412.4 746.5,412.4 746.9,412.5 747.3,412.5 747.7,412.5 748.1,412.5 748.5,412.6 748.9,412.6 749.3,412.6 749.7,412.6 750.1,412.6 750.5,412.7 750.9,412.7 751.3,412.7 751.7,412.7 752.1,412.8 752.5,412.8 752.9,412.8 753.3,412.8 753.7,412.8 754.1,412.9 754.5,412.9 754.9,412.9 755.3,412.9 755.7,413.0 756.1,413.0 756.5,413.0 756.9,413.0 757.3,413.1 757.7,413.1 758.1,413.1 758.5,413.1 758.9,413.1 759.3,413.2 759.7,413.2 760.1,413.2 760.5,413.2 760.9,413.3 761.3,413.3 761.7,413.3 762.1,413.3 762.5,413.3 762.9,413.4 763.3,413.4 763.7,413.4 764.1,413.4 764.5,413.5 764.9,413.5 765.3,413.5 765.7,413.4 766.1,413.2 766.5,413.1 766.9,412.9 767.3,412.8 767.7,412.6 768.1,412.5 768.5,412.3 768.9,412.2 769.3,412.0 769.7,411.9 770.1,411.7 770.5,411.6 770.9,411.4 771.3,411.3 771.7,411.2 772.1,411.0 772.5,410.9 772.9,410.7 773.3,410.6 773.7,410.4 774.1,410.3 774.5,410.1 774.9,410.0 775.3,409.8 775.7,409.7 776.1,409.5 776.5,409.4 776.9,409.3 777.3,409.1 777.7,409.0 778.1,408.8 778.5,408.7 778.9,408.5 779.3,408.4 779.7,408.2 780.1,408.1 780.5,407.9 780.9,407.8 781.3,407.6 781.7,407.5 782.1,407.3 782.5,407.2 782.9,407.1 783.3,406.9 783.7,406.8 784.1,406.6 784.5,406.5 784.9,406.3 785.3,406.2 785.7,406.0 786.1,405.9 786.5,405.7 786.9,405.6 787.3,405.4 787.7,405.3 788.1,405.1 788.5,405.0 788.9,404.9 789.3,404.7 789.7,404.6 790.1,404.4 790.5,404.3 790.9,404.1 791.3,404.0 791.7,403.8 792.1,403.7 792.5,403.5 792.9,403.4 793.3,403.2 793.7,403.1 794.1,402.9 794.5,402.8 794.9,402.7 795.3,402.5 795.7,402.4 796.1,402.3 796.5,402.1 796.9,402.0 797.3,401.9 797.7,401.8 798.1,401.7 798.5,401.6 798.9,401.5 799.3,401.4 799.7,401.3 800.1,401.1 800.5,401.0 800.9,400.9 801.3,400.8 801.7,400.7 802.1,400.6 802.5,400.5 802.9,400.4 803.3,400.3 803.7,400.1 804.1,400.0 804.5,399.9 804.9,399.8 805.3,399.7 805.7,399.6 806.1,399.5 806.5,399.4 806.9,399.3 807.3,399.1 807.7,399.0 808.1,398.9 808.5,398.8 808.9,398.7 809.3,398.6 809.7,398.5 810.1,398.4 810.5,398.2 810.9,398.1 811.3,398.0 811.7,397.9 812.1,397.8 812.5,397.7 812.9,397.6 813.3,397.5 813.7,397.4 814.1,397.2 814.5,397.1 814.9,397.0 815.3,396.9 815.7,396.8 816.1,396.7 816.5,396.6 816.9,396.5 817.3,396.4 817.7,396.3 818.1,396.4 818.5,396.5 818.9,396.5 819.3,396.6 819.7,396.6 820.1,396.7 820.5,396.8 820.9,396.8 821.3,396.9 821.7,397.0 822.1,397.0 822.5,397.1 822.9,397.1 823.3,397.2 823.7,397.3 824.1,397.3 824.5,397.4 824.9,397.4 825.3,397.5 825.7,397.6 826.1,397.6 826.5,397.7 826.9,397.8 827.3,397.8 827.7,397.9 828.1,397.9 828.5,398.0 828.9,398.1 829.3,398.1 829.7,398.2 830.1,398.3 830.5,398.3 830.9,398.4 831.3,398.4 831.7,398.5 832.1,398.6 832.5,398.6 832.9,398.7 833.3,398.8 833.7,398.8 834.1,398.9 834.5,398.9 834.9,399.0 835.3,399.1 835.7,399.1 836.1,399.2 836.5,399.2 836.9,399.3 837.3,399.4 837.7,399.4 838.1,399.5 838.5,399.6 838.9,399.6 839.3,399.7 839.7,399.8 840.1,399.8 840.5,399.9 840.9,400.0 841.3,400.0 841.7,400.1 842.1,400.2 842.5,400.3 842.9,400.3 843.3,400.4 843.7,400.5 844.1,400.6 844.5,400.6 844.9,400.7 845.3,400.8 845.7,400.9 846.1,400.9 846.5,401.0 846.9,401.1 847.3,401.1 847.7,401.2 848.1,401.3 848.5,401.4 848.9,401.4 849.3,401.5 849.7,401.6 850.1,401.7 850.5,401.7 850.9,401.8 851.3,401.9 851.7,402.0 852.1,402.0 852.5,402.1 852.9,402.2 853.3,402.2 853.7,402.3 854.1,402.4 854.5,402.5 854.9,402.5 855.3,402.6 855.7,402.7 856.1,402.8 856.5,402.8 856.9,402.9 857.3,403.0 857.7,403.1 858.1,403.1 858.5,403.2 858.9,403.3 859.3,403.3 859.7,403.4 860.1,403.5 860.5,403.6 860.9,403.6 861.3,403.7 861.7,403.8 862.1,403.9 862.5,403.9 862.9,404.0 863.3,404.1 863.7,404.2 864.1,404.2 864.5,404.3 864.9,404.4 865.3,404.4 865.7,404.5 866.1,404.6 866.5,404.7 866.9,404.8 867.3,405.0 867.7,405.1 868.1,405.3 868.5,405.5 868.9,405.6 869.3,405.8 869.7,406.0 870.1,406.2 870.5,406.3 870.9,406.5 871.3,406.7 871.7,406.9 872.1,407.0 872.5,407.2 872.9,407.4 873.3,407.5 873.7,407.7 874.1,407.9 874.5,408.1 874.9,408.2 875.3,408.4 875.7,408.6 876.1,408.7 876.5,408.9 876.9,409.1 877.3,409.3 877.7,409.4 878.1,409.6 878.5,409.8 878.9,409.9 879.3,410.1 879.7,410.3 880.1,410.5 880.5,410.6 880.9,410.8 881.3,411.0 881.7,411.2 882.1,411.3 882.5,411.5 882.9,411.7 883.3,411.8 883.7,412.0 884.1,412.2 884.5,412.4 884.9,412.5 885.3,412.7 885.7,412.9 886.1,413.0 886.5,413.2 886.9,413.4 887.3,413.6 887.7,413.7 888.1,413.9 888.5,414.1 888.9,414.2 889.3,414.4 889.7,414.6 890.1,414.8 890.5,414.9 890.9,415.1 891.3,415.3 891.7,415.4 892.1,415.6 892.5,415.8 892.9,416.0 893.3,416.1 893.7,416.3 894.1,416.5 894.5,416.6 894.9,416.8 895.3,417.0 895.7,417.2 896.1,417.3 896.5,417.5 896.9,417.7 897.3,417.8 897.7,418.0 898.1,418.2 898.5,418.4 898.9,418.5 899.3,418.7 899.7,418.9 900.1,419.0 900.5,419.2 900.9,419.4 901.3,419.6 901.7,419.7 902.1,419.9 902.5,420.1 902.9,420.2 903.3,420.4 903.7,420.6 904.1,420.8 904.5,420.9 904.9,421.1 905.3,421.3 905.7,421.4 906.1,421.6 906.5,421.8 906.9,422.0 907.3,422.2 907.7,422.4 908.1,422.6 908.5,422.8 908.9,423.0 909.3,423.2 909.7,423.4 910.1,423.6 910.5,423.8 910.9,424.0 911.3,424.2 911.7,424.4 912.1,424.6 912.5,424.8 912.9,425.0 913.3,425.2 913.7,425.4 914.1,425.6 914.5,425.8 914.9,426.0 915.3,426.2 915.7,426.4 916.1,426.6 916.5,426.8 916.9,427.0 917.3,427.2 917.7,427.4 918.1,427.6 918.5,427.8 918.9,428.0 919.3,428.2 919.7,428.4 920.1,428.6 920.5,428.8 920.9,429.0 921.3,429.2 921.7,429.4 922.1,429.6 922.5,429.8 922.9,430.0 923.3,430.2 923.7,430.4 924.1,430.6 924.5,430.8 924.9,431.0 925.3,431.3 925.7,431.7 926.1,432.1 926.5,432.5 926.9,432.9 927.3,433.3 927.7,433.7 928.1,434.1 928.5,434.5 928.9,434.9 929.3,435.3 929.7,435.7 930.1,436.1 930.5,436.5 930.9,436.9 931.3,437.3 931.7,437.7 932.1,438.1 932.5,438.5 932.9,438.9 933.3,439.3 933.7,439.8 934.1,440.2 934.5,440.6 934.9,441.0 935.3,441.4 935.7,441.8 936.1,442.2 936.5,442.6 936.9,443.0 937.3,443.4 937.7,443.8 938.1,444.2 938.5,444.6 938.9,445.0 939.3,445.4 939.7,445.8 940.1,446.2 940.5,446.6 940.9,447.0 941.3,447.4 941.7,447.8 942.1,448.0 942.5,448.3 942.9,448.5 943.3,448.7 943.7,449.0 944.1,449.2 944.5,449.4 944.9,449.6 945.3,449.9 945.7,450.1 946.1,450.3 946.5,450.6 946.9,450.8 947.3,451.0 947.7,451.3 948.1,451.5 948.5,451.7 948.9,451.9 949.3,452.2 949.7,452.4 950.1,452.6 950.5,452.9 950.9,453.0 951.3,453.0 951.7,453.0 952.1,453.0 952.5,453.0 952.9,453.0 953.3,453.0 953.7,453.0 954.1,453.0 954.5,453.0 954.9,453.0 955.3,453.0 955.7,453.0 956.1,453.0 956.5,453.0 956.9,453.0 957.3,453.0 957.7,453.0 958.1,453.0 958.5,453.0 958.9,453.0 959.3,453.0 959.7,453.0 960.1,453.0 960.5,453.0 960.9,453.0 961.3,453.0 961.7,453.0 962.1,453.0 962.5,453.0 962.9,453.0 963.3,453.0 963.7,453.0 964.1,453.0 964.5,453.0 964.9,453.0 965.3,453.0 965.7,453.0 966.1,453.0 966.5,453.0 966.9,453.0 967.3,453.0 967.7,453.0 968.1,453.0 968.5,453.0 968.9,453.0 969.3,453.0 969.7,453.0 970.1,453.0 970.5,453.0 970.9,453.0 971.3,453.0 971.7,453.0 972.1,453.0 972.5,453.0 972.9,453.0 973.3,453.0 973.7,453.0 974.1,453.0 974.5,453.0 974.9,453.0 975.3,453.0 975.7,453.0 976.1,453.0 976.5,453.0 976.9,453.0 977.3,453.0 977.7,453.0 978.1,453.0 978.5,453.0 978.9,453.0 979.3,453.0 979.7,453.0 980.1,453.0 980.5,453.0 980.9,453.0 981.3,453.0 981.7,453.0 982.1,453.0 982.5,453.0 982.9,453.0 983.3,453.0 983.7,453.0 984.1,453.0 984.5,453.0 984.9,453.0 985.3,453.0 985.7,453.0 986.1,453.0 986.5,453.0 986.9,453.0 987.3,453.0 987.7,453.0 988.1,453.0 988.5,453.0 988.9,453.0 989.3,453.0 989.7,453.0 990.1,453.0 990.5,453.0 990.9,453.0 991.3,453.0 991.7,453.0 992.1,453.0 992.5,453.0 992.9,453.0 993.3,453.0 993.7,453.0 994.1,453.0 994.5,453.0 994.9,453.0 995.3,453.0 995.7,453.0 996.1,453.0 996.5,453.0 996.9,453.0 997.3,453.0 997.7,453.0 998.1,453.0 998.5,453.0 998.9,453.0 999.3,453.0 999.7,453.0 1000.1,453.0 1000.5,453.0 1000.9,453.0 1001.3,453.0 1001.7,453.0 1002.1,453.0 1002.5,453.0 1002.9,453.0 1003.3,453.0 1003.7,453.0 1004.1,453.0 1004.5,453.0 1004.9,453.0 1005.3,453.0 1005.7,453.0 1006.1,453.0 1006.5,453.0 1006.9,453.0 1007.3,453.0 1007.7,453.0 1008.1,453.0 1008.5,453.0 1008.9,453.0 1009.3,453.0 1009.7,453.0 1010.1,453.0 1010.5,453.0 1010.9,453.0 1011.3,453.0 1011.7,453.0 1012.1,453.0 1012.5,453.0 1012.9,453.0 1013.3,453.0 1013.7,453.0 1014.1,453.0 1014.5,453.0 1014.9,453.0 1015.3,453.0 1015.7,453.0 1016.1,453.0 1016.5,453.0 1016.9,453.0 1017.3,453.0 1017.7,453.0 1018.1,453.0 1018.5,453.0 1018.9,453.0 1019.3,453.0 1019.7,453.0 1020.1,453.0 1020.5,453.0 1020.9,453.0 1021.3,453.0 1021.7,453.0 1022.1,453.0 1022.5,453.0 1022.9,453.0 1023.3,453.0 1023.7,453.0 1024.1,453.0 1024.5,453.0 1024.9,453.0 1025.3,453.0 1025.7,453.0 1026.1,453.0 1026.5,453.0 1026.9,453.0 1027.3,453.0 1027.7,453.0 1028.1,453.0 1028.5,453.0 1028.9,453.0 1029.3,453.0 1029.7,453.0 1030.1,453.0 1030.5,453.0 1030.9,453.0 1031.3,453.0 1031.7,453.0 1032.1,453.0 1032.5,453.0 1032.9,453.0 1033.3,453.0 1033.7,453.0 1034.1,453.0 1034.5,453.0 1034.9,453.0 1035.3,453.0 1035.7,453.0 1036.1,453.0 1036.5,453.0 1036.9,453.0 1037.3,453.0 1037.7,453.0 1038.1,453.0 1038.5,453.0 1038.9,453.0 1039.3,453.0 1039.7,453.0 1040.1,453.0 1040.5,453.0 1040.9,453.0 1041.3,453.0 1041.7,453.0 1042.1,453.0 1042.5,453.0 1042.9,453.0 1043.3,453.0 1043.7,453.0 1044.1,453.0 1044.5,453.0 1044.9,453.0 1045.3,453.0 1045.7,453.0 1046.1,453.0 1046.5,453.0 1046.9,453.0 1047.3,453.0 1047.7,453.0 1048.1,453.0 1048.5,453.0 1048.9,453.0 1049.3,453.0 1049.7,453.0 1050.1,453.0 1050.5,453.0 1050.9,453.0 1051.3,453.0 1051.7,453.0 1052.1,453.0 1052.5,453.0 1052.9,453.0 1053.3,453.0 1053.7,453.0 1054.1,453.0 1054.5,453.0 1054.9,453.0 1055.3,453.0 1055.7,453.0 1056.1,453.0 1056.5,453.0 1056.9,453.0 1057.3,453.0 1057.7,453.0 1058.1,453.0 1058.5,453.0 1058.9,453.0 1059.3,453.0 1059.7,453.0 1060.1,453.0 1060.5,453.0 1060.9,453.0 1061.3,453.0 1061.7,447.3 1062.1,430.1 1062.5,430.1 1062.9,430.1 1063.3,430.1 1063.7,430.1 1064.1,430.1 1064.5,430.1 1064.9,430.1 1065.3,430.1 1065.7,430.1 1066.1,430.1 1066.5,430.1 1066.9,430.1 1067.3,430.1 1067.7,430.1 1068.1,430.1 1068.5,430.1 1068.9,430.1 1069.3,430.1 1069.7,430.1 1070.1,430.1 1070.5,430.1 1070.9,430.1 1071.3,430.1 1071.7,430.1 1072.1,430.1 1072.5,430.1 1072.9,430.1 1073.3,430.1 1073.7,430.1 1074.1,430.1 1074.5,430.1 1074.9,430.1 1075.3,430.1 1075.7,430.1 1076.1,430.1 1076.5,430.1 1076.9,430.1 1077.3,430.1 1077.7,430.1 1078.1,430.1 1078.5,430.1 1078.9,430.1 1079.3,430.1 1079.7,430.1 1080.1,430.1 1080.5,430.1 1080.9,430.1 1081.3,430.1 1081.7,430.1 1082.1,430.1 1082.5,430.1 1082.9,430.1 1083.3,430.1 1083.7,430.1 1084.1,430.1 1084.5,430.1 1084.9,430.1 1085.3,430.1 1085.7,430.1 1086.1,430.1 1086.5,430.1 1086.9,430.1 1087.3,430.1 1087.7,430.1 1088.1,430.1 1088.5,430.1 1088.9,430.1 1089.3,430.1 1089.7,430.1 1090.1,430.1 1090.5,430.1 1090.9,430.1 1091.3,430.1 1091.7,430.1 1092.1,430.1 1092.5,430.1 1092.9,430.1 1093.3,430.1 1093.7,430.1 1094.1,430.1 1094.5,430.1 1094.9,430.1 1095.3,430.1 1095.7,430.1 1096.1,430.1 1096.5,430.1 1096.9,430.1 1097.3,430.1 1097.7,430.1 1098.1,430.1 1098.5,430.1 1098.9,430.1 1099.3,430.1 1099.7,430.1 1100.1,430.1 1100.5,430.1 1100.9,430.1 1101.3,430.1 1101.7,430.1 1102.1,430.1 1102.5,430.1 1102.9,430.1 1103.3,430.1 1103.7,430.1 1104.1,430.1 1104.5,430.1 1104.9,430.1 1105.3,430.1 1105.7,430.1 1106.1,430.1 1106.5,430.1 1106.9,430.1 1107.3,430.1 1107.7,430.1 1108.1,430.1 1108.5,430.1 1108.9,430.1 1109.3,430.1 1109.7,430.1 1110.1,430.1 1110.5,430.1 1110.9,430.1 1111.3,430.1 1111.7,430.1 1112.1,430.1 1112.5,430.1 1112.9,430.1 1113.3,430.1 1113.7,430.1 1114.1,430.1 1114.5,430.1 1114.9,430.1 1115.3,430.1 1115.7,430.1 1116.1,430.1 1116.5,430.1 1116.9,430.1 1117.3,430.1 1117.7,430.1 1118.1,430.1 1118.5,430.1 1118.9,430.1 1119.3,430.1 1119.7,430.1 1120.1,430.1 1120.5,430.1 1120.9,430.1 1121.3,430.1 1121.7,430.1 1122.1,430.1 1122.5,430.1 1122.9,430.1 1123.3,430.1 1123.7,430.1 1124.1,430.1 1124.5,430.1 1124.9,430.1 1125.3,430.1 1125.7,430.1 1126.1,430.1 1126.5,430.1 1126.9,430.1 1127.3,430.1 1127.7,430.1 1128.1,430.1 1128.5,430.1 1128.9,430.1 1129.3,430.1 1129.7,430.1 1130.1,430.1 1130.5,430.1 1130.9,430.1 1131.3,430.1 1131.7,430.1 1132.1,430.1 1132.5,430.1 1132.9,430.1 1133.3,430.1 1133.7,430.1 1134.1,430.1 1134.5,430.1 1134.9,430.1 1135.3,430.1 1135.7,430.1 1136.1,430.1 1136.5,430.1 1136.9,430.1 1137.3,430.1 1137.7,430.1 1138.1,430.1 1138.5,430.1 1138.9,430.1 1139.3,430.1 1139.7,430.1 1140.1,430.1 1140.5,430.1 1140.9,430.1 1141.3,430.1 1141.7,430.1 1142.1,430.1 1142.5,430.1 1142.9,430.1 1143.3,430.1 1143.7,430.1 1144.1,430.1 1144.5,430.1 1145.0,430.1 1145.0,520.3 36.1,520.3" fill="#E6D5AE"/>
<polygon points="36.1,493.4 36.5,493.4 36.9,493.4 37.3,493.4 37.7,493.4 38.1,493.4 38.5,493.4 38.9,493.4 39.3,493.4 39.7,493.4 40.1,493.4 40.5,493.4 40.9,493.4 41.3,493.4 41.7,493.4 42.1,493.4 42.5,493.4 42.9,493.4 43.3,493.4 43.7,493.4 44.1,493.4 44.5,493.4 44.9,493.4 45.3,493.4 45.7,493.4 46.1,493.4 46.5,493.4 46.9,493.4 47.3,493.4 47.7,493.4 48.1,493.4 48.5,493.4 48.9,493.4 49.3,493.4 49.7,493.4 50.1,493.4 50.5,493.4 50.9,493.4 51.3,493.4 51.7,493.4 52.1,493.4 52.5,493.4 52.9,493.4 53.3,493.4 53.7,493.4 54.1,493.4 54.5,493.4 54.9,493.4 55.3,493.4 55.7,493.4 56.1,493.4 56.5,493.4 56.9,493.4 57.3,493.4 57.7,493.4 58.1,493.2 58.5,493.0 58.9,492.8 59.3,492.6 59.7,492.4 60.1,492.2 60.5,492.0 60.9,491.8 61.3,491.6 61.7,491.4 62.1,491.2 62.5,491.0 62.9,490.8 63.3,490.6 63.7,490.4 64.1,490.2 64.5,490.0 64.9,489.8 65.3,489.6 65.7,489.4 66.1,489.2 66.5,489.0 66.9,488.8 67.3,488.6 67.7,488.4 68.1,488.2 68.5,488.0 68.9,487.8 69.3,487.6 69.7,487.4 70.1,487.2 70.5,487.0 70.9,485.7 71.3,481.1 71.7,476.5 72.1,471.9 72.5,467.3 72.9,463.7 73.3,463.5 73.7,463.3 74.1,463.0 74.5,462.8 74.9,462.6 75.3,462.3 75.7,462.1 76.1,461.9 76.5,461.6 76.9,461.4 77.3,461.2 77.7,460.9 78.1,460.7 78.5,460.5 78.9,460.2 79.3,460.0 79.7,459.8 80.1,459.5 80.5,459.3 80.9,459.1 81.3,458.8 81.7,458.6 82.1,458.4 82.5,458.1 82.9,457.9 83.3,457.7 83.7,457.4 84.1,457.2 84.5,457.0 84.9,456.7 85.3,456.5 85.7,456.3 86.1,456.0 86.5,455.8 86.9,455.6 87.3,455.3 87.7,455.1 88.1,454.9 88.5,454.6 88.9,454.4 89.3,454.2 89.7,453.9 90.1,453.7 90.5,453.5 90.9,453.2 91.3,453.0 91.7,452.8 92.1,452.5 92.5,452.3 92.9,452.1 93.3,451.8 93.7,451.6 94.1,451.4 94.5,451.1 94.9,450.9 95.3,450.7 95.7,450.4 96.1,450.2 96.5,450.0 96.9,449.7 97.3,449.5 97.7,449.3 98.1,449.0 98.5,448.8 98.9,448.6 99.3,448.3 99.7,448.1 100.1,447.9 100.5,447.6 100.9,447.4 101.3,447.2 101.7,446.9 102.1,446.7 102.5,446.5 102.9,446.2 103.3,446.0 103.7,445.8 104.1,445.5 104.5,445.3 104.9,445.1 105.3,444.8 105.7,444.6 106.1,444.4 106.5,444.1 106.9,443.9 107.3,443.7 107.7,443.4 108.1,443.2 108.5,443.0 108.9,442.7 109.3,442.5 109.7,442.3 110.1,442.0 110.5,441.8 110.9,441.6 111.3,441.3 111.7,441.1 112.1,440.9 112.5,440.6 112.9,440.4 113.3,440.2 113.7,439.9 114.1,439.7 114.5,439.5 114.9,439.2 115.3,439.0 115.7,438.8 116.1,438.5 116.5,438.3 116.9,438.1 117.3,437.8 117.7,437.6 118.1,437.4 118.5,437.1 118.9,436.9 119.3,436.7 119.7,436.4 120.1,436.2 120.5,436.0 120.9,435.7 121.3,435.5 121.7,435.7 122.1,435.9 122.5,436.1 122.9,436.3 123.3,436.5 123.7,436.7 124.1,436.9 124.5,437.1 124.9,437.3 125.3,437.5 125.7,438.6 126.1,440.1 126.5,441.5 126.9,443.0 127.3,444.4 127.7,444.8 128.1,444.8 128.5,444.9 128.9,444.9 129.3,444.9 129.7,445.0 130.1,445.0 130.5,445.0 130.9,445.0 131.3,445.1 131.7,445.1 132.1,445.1 132.5,445.2 132.9,445.2 133.3,445.2 133.7,445.2 134.1,445.3 134.5,445.3 134.9,445.3 135.3,445.3 135.7,445.4 136.1,445.4 136.5,445.4 136.9,445.5 137.3,445.5 137.7,445.5 138.1,445.5 138.5,445.6 138.9,445.6 139.3,445.6 139.7,445.7 140.1,445.7 140.5,445.7 140.9,445.7 141.3,445.8 141.7,445.8 142.1,445.8 142.5,445.8 142.9,445.9 143.3,445.9 143.7,445.9 144.1,446.0 144.5,446.0 144.9,446.0 145.3,446.0 145.7,446.1 146.1,446.1 146.5,446.1 146.9,446.2 147.3,446.2 147.7,446.2 148.1,446.2 148.5,446.3 148.9,446.3 149.3,446.3 149.7,446.3 150.1,446.4 150.5,446.4 150.9,446.4 151.3,446.5 151.7,446.5 152.1,446.5 152.5,446.5 152.9,446.6 153.3,446.6 153.7,446.6 154.1,446.7 154.5,446.7 154.9,446.7 155.3,446.7 155.7,446.8 156.1,446.8 156.5,446.8 156.9,446.8 157.3,446.9 157.7,446.9 158.1,446.9 158.5,447.0 158.9,447.0 159.3,447.0 159.7,447.0 160.1,447.1 160.5,447.1 160.9,447.1 161.3,447.1 161.7,447.2 162.1,447.2 162.5,447.2 162.9,447.3 163.3,447.3 163.7,447.3 164.1,447.3 164.5,447.4 164.9,447.4 165.3,447.4 165.7,447.5 166.1,447.5 166.5,447.5 166.9,447.5 167.3,447.6 167.7,447.6 168.1,444.8 168.5,441.0 168.9,437.3 169.3,433.5 169.7,429.8 170.1,426.0 170.5,422.2 170.9,421.3 171.3,421.4 171.7,421.4 172.1,421.5 172.5,421.5 172.9,421.6 173.3,421.6 173.7,421.7 174.1,421.7 174.5,421.8 174.9,421.8 175.3,421.9 175.7,422.0 176.1,422.0 176.5,422.1 176.9,422.1 177.3,422.2 177.7,422.2 178.1,422.3 178.5,422.3 178.9,422.4 179.3,422.4 179.7,422.5 180.1,422.5 180.5,422.5 180.9,422.4 181.3,422.4 181.7,422.4 182.1,422.4 182.5,422.3 182.9,422.3 183.3,422.3 183.7,422.3 184.1,422.2 184.5,422.2 184.9,422.2 185.3,422.2 185.7,422.1 186.1,422.1 186.5,422.1 186.9,422.1 187.3,422.0 187.7,422.0 188.1,422.0 188.5,422.0 188.9,421.9 189.3,421.9 189.7,421.9 190.1,421.9 190.5,421.8 190.9,421.8 191.3,421.8 191.7,421.8 192.1,421.8 192.5,421.7 192.9,421.7 193.3,421.7 193.7,421.7 194.1,421.6 194.5,421.6 194.9,421.6 195.3,421.6 195.7,421.5 196.1,421.5 196.5,421.5 196.9,421.5 197.3,421.4 197.7,421.4 198.1,421.4 198.5,421.4 198.9,421.3 199.3,421.3 199.7,421.3 200.1,421.3 200.5,421.2 200.9,421.2 201.3,421.2 201.7,421.2 202.1,421.1 202.5,421.1 202.9,421.1 203.3,421.1 203.7,421.0 204.1,421.0 204.5,421.0 204.9,421.0 205.3,420.9 205.7,420.9 206.1,420.9 206.5,420.9 206.9,420.8 207.3,420.8 207.7,420.8 208.1,420.8 208.5,420.7 208.9,420.7 209.3,420.7 209.7,420.7 210.1,420.6 210.5,420.6 210.9,420.6 211.3,420.6 211.7,420.5 212.1,420.5 212.5,420.3 212.9,419.8 213.3,419.4 213.7,418.9 214.1,418.5 214.5,418.0 214.9,417.6 215.3,417.1 215.7,416.7 216.1,416.2 216.5,416.0 216.9,416.0 217.3,415.9 217.7,415.9 218.1,415.9 218.5,415.9 218.9,415.9 219.3,415.8 219.7,415.8 220.1,415.8 220.5,415.8 220.9,415.7 221.3,415.7 221.7,415.7 222.1,415.7 222.5,415.7 222.9,415.6 223.3,415.6 223.7,415.6 224.1,415.6 224.5,415.5 224.9,415.5 225.3,415.5 225.7,415.5 226.1,415.4 226.5,415.4 226.9,415.4 227.3,415.4 227.7,415.4 228.1,415.3 228.5,415.3 228.9,415.3 229.3,415.3 229.7,415.2 230.1,415.2 230.5,415.2 230.9,415.3 231.3,415.3 231.7,415.4 232.1,415.5 232.5,415.5 232.9,415.6 233.3,415.7 233.7,415.8 234.1,415.8 234.5,415.9 234.9,416.0 235.3,416.0 235.7,416.1 236.1,416.2 236.5,416.2 236.9,416.3 237.3,416.4 237.7,416.4 238.1,416.5 238.5,416.6 238.9,416.7 239.3,416.7 239.7,416.8 240.1,416.9 240.5,416.9 240.9,417.0 241.3,417.1 241.7,417.1 242.1,417.2 242.5,417.3 242.9,417.4 243.3,417.5 243.7,417.6 244.1,417.7 244.5,417.8 244.9,417.9 245.3,418.0 245.7,418.1 246.1,418.2 246.5,418.3 246.9,418.4 247.3,418.5 247.7,418.6 248.1,418.7 248.5,418.8 248.9,418.9 249.3,419.0 249.7,419.1 250.1,419.2 250.5,419.3 250.9,419.4 251.3,419.5 251.7,419.6 252.1,419.7 252.5,419.7 252.9,419.8 253.3,419.9 253.7,420.0 254.1,420.1 254.5,420.2 254.9,420.3 255.3,420.4 255.7,420.5 256.1,420.6 256.5,420.7 256.9,420.8 257.3,420.9 257.7,421.0 258.1,421.1 258.5,421.2 258.9,421.3 259.3,421.4 259.7,421.5 260.1,421.6 260.5,421.7 260.9,421.8 261.3,421.9 261.7,422.0 262.1,422.5 262.5,424.2 262.9,425.9 263.3,427.5 263.7,429.2 264.1,430.9 264.5,432.5 264.9,434.2 265.3,434.3 265.7,434.4 266.1,434.5 266.5,434.6 266.9,434.7 267.3,434.8 267.7,434.9 268.1,434.9 268.5,435.0 268.9,435.1 269.3,435.2 269.7,435.3 270.1,435.4 270.5,435.5 270.9,435.6 271.3,435.7 271.7,435.8 272.1,435.9 272.5,436.0 272.9,436.1 273.3,436.2 273.7,436.3 274.1,436.4 274.5,436.4 274.9,436.5 275.3,436.6 275.7,436.7 276.1,436.8 276.5,436.9 276.9,437.0 277.3,437.1 277.7,437.2 278.1,437.3 278.5,437.4 278.9,437.5 279.3,437.5 279.7,437.4 280.1,437.4 280.5,437.3 280.9,437.3 281.3,437.2 281.7,437.2 282.1,437.1 282.5,437.1 282.9,437.0 283.3,437.0 283.7,436.9 284.1,436.9 284.5,436.8 284.9,436.8 285.3,436.8 285.7,436.7 286.1,436.7 286.5,436.6 286.9,436.6 287.3,436.5 287.7,436.5 288.1,436.4 288.5,436.4 288.9,436.3 289.3,436.3 289.7,436.2 290.1,436.2 290.5,436.1 290.9,436.1 291.3,436.0 291.7,436.0 292.1,435.9 292.5,435.9 292.9,435.8 293.3,435.8 293.7,435.8 294.1,435.7 294.5,435.7 294.9,435.6 295.3,435.6 295.7,435.5 296.1,435.5 296.5,435.4 296.9,435.4 297.3,435.3 297.7,435.3 298.1,435.2 298.5,435.2 298.9,435.1 299.3,435.1 299.7,435.0 300.1,435.0 300.5,434.9 300.9,434.9 301.3,434.8 301.7,434.8 302.1,434.7 302.5,434.7 302.9,434.6 303.3,434.6 303.7,434.5 304.1,434.4 304.5,434.4 304.9,434.3 305.3,434.3 305.7,434.2 306.1,434.2 306.5,434.1 306.9,434.1 307.3,434.0 307.7,434.0 308.1,433.9 308.5,433.9 308.9,433.8 309.3,433.7 309.7,433.7 310.1,433.6 310.5,433.6 310.9,433.5 311.3,433.5 311.7,433.4 312.1,433.4 312.5,433.3 312.9,433.3 313.3,433.2 313.7,433.2 314.1,433.1 314.5,433.0 314.9,433.0 315.3,432.9 315.7,432.9 316.1,432.8 316.5,432.8 316.9,432.7 317.3,432.7 317.7,432.6 318.1,432.6 318.5,432.5 318.9,432.5 319.3,432.4 319.7,432.3 320.1,432.3 320.5,432.2 320.9,432.2 321.3,432.1 321.7,432.1 322.1,432.0 322.5,432.0 322.9,432.1 323.3,432.2 323.7,432.2 324.1,432.3 324.5,432.4 324.9,432.4 325.3,432.5 325.7,432.5 326.1,432.6 326.5,432.7 326.9,432.7 327.3,432.8 327.7,432.9 328.1,432.9 328.5,433.0 328.9,433.1 329.3,433.1 329.7,433.2 330.1,433.3 330.5,433.4 330.9,433.6 331.3,433.8 331.7,434.0 332.1,434.2 332.5,434.4 332.9,434.7 333.3,434.9 333.7,435.1 334.1,435.3 334.5,435.5 334.9,435.7 335.3,436.0 335.7,436.2 336.1,436.4 336.5,436.6 336.9,436.8 337.3,437.0 337.7,437.3 338.1,437.5 338.5,437.7 338.9,437.9 339.3,438.1 339.7,438.3 340.1,438.6 340.5,438.8 340.9,439.0 341.3,439.2 341.7,439.4 342.1,439.6 342.5,439.9 342.9,440.1 343.3,440.3 343.7,440.5 344.1,440.7 344.5,440.9 344.9,441.2 345.3,441.4 345.7,441.6 346.1,441.8 346.5,442.0 346.9,442.2 347.3,442.5 347.7,442.7 348.1,442.9 348.5,443.1 348.9,443.3 349.3,443.5 349.7,443.8 350.1,444.0 350.5,444.2 350.9,444.4 351.3,444.6 351.7,444.8 352.1,445.1 352.5,445.3 352.9,445.5 353.3,445.7 353.7,445.9 354.1,446.1 354.5,446.4 354.9,446.6 355.3,446.8 355.7,447.0 356.1,447.2 356.5,447.4 356.9,447.7 357.3,447.9 357.7,448.1 358.1,448.3 358.5,448.5 358.9,448.7 359.3,449.0 359.7,449.2 360.1,449.4 360.5,449.6 360.9,449.8 361.3,450.0 361.7,450.3 362.1,450.5 362.5,450.7 362.9,451.3 363.3,452.2 363.7,453.1 364.1,454.0 364.5,454.9 364.9,455.8 365.3,456.8 365.7,457.7 366.1,458.6 366.5,459.5 366.9,460.2 367.3,460.4 367.7,460.6 368.1,460.8 368.5,461.0 368.9,461.2 369.3,461.4 369.7,461.6 370.1,461.8 370.5,462.0 370.9,462.2 371.3,462.4 371.7,462.5 372.1,462.7 372.5,462.9 372.9,463.1 373.3,463.3 373.7,463.5 374.1,463.7 374.5,463.9 374.9,464.1 375.3,464.3 375.7,464.5 376.1,464.7 376.5,464.8 376.9,465.0 377.3,465.2 377.7,465.4 378.1,465.6 378.5,465.8 378.9,466.0 379.3,466.2 379.7,466.4 380.1,466.6 380.5,466.8 380.9,467.0 381.3,467.1 381.7,467.3 382.1,467.5 382.5,467.7 382.9,467.9 383.3,468.1 383.7,468.3 384.1,468.5 384.5,468.7 384.9,468.9 385.3,469.1 385.7,469.3 386.1,469.4 386.5,469.6 386.9,469.8 387.3,470.0 387.7,470.2 388.1,470.4 388.5,470.6 388.9,470.8 389.3,471.0 389.7,471.2 390.1,471.4 390.5,471.6 390.9,471.7 391.3,471.9 391.7,472.1 392.1,472.3 392.5,472.5 392.9,472.7 393.3,472.9 393.7,473.1 394.1,473.3 394.5,473.5 394.9,473.7 395.3,473.9 395.7,474.0 396.1,474.2 396.5,474.4 396.9,474.6 397.3,474.8 397.7,475.0 398.1,475.1 398.5,475.3 398.9,475.4 399.3,475.6 399.7,475.7 400.1,475.9 400.5,476.0 400.9,476.2 401.3,476.3 401.7,476.4 402.1,476.6 402.5,476.7 402.9,476.9 403.3,477.0 403.7,477.2 404.1,477.3 404.5,477.4 404.9,477.6 405.3,477.7 405.7,477.9 406.1,478.0 406.5,478.2 406.9,478.3 407.3,478.5 407.7,478.6 408.1,478.7 408.5,478.9 408.9,479.0 409.3,479.2 409.7,479.3 410.1,479.5 410.5,479.6 410.9,479.7 411.3,479.9 411.7,480.0 412.1,480.2 412.5,480.3 412.9,480.5 413.3,480.6 413.7,480.8 414.1,480.9 414.5,481.0 414.9,481.2 415.3,481.3 415.7,481.5 416.1,481.6 416.5,481.8 416.9,481.9 417.3,482.1 417.7,482.3 418.1,482.5 418.5,482.7 418.9,482.9 419.3,483.1 419.7,483.3 420.1,483.5 420.5,483.6 420.9,483.8 421.3,484.0 421.7,484.2 422.1,484.4 422.5,484.6 422.9,484.8 423.3,485.0 423.7,485.2 424.1,485.4 424.5,485.5 424.9,485.7 425.3,485.9 425.7,486.1 426.1,486.3 426.5,486.5 426.9,486.7 427.3,486.9 427.7,487.1 428.1,487.3 428.5,487.4 428.9,487.6 429.3,487.8 429.7,488.0 430.1,488.2 430.5,488.4 430.9,488.6 431.3,488.8 431.7,489.0 432.1,489.1 432.5,489.3 432.9,489.5 433.3,489.7 433.7,489.9 434.1,490.1 434.5,490.3 434.9,490.5 435.3,490.7 435.7,490.9 436.1,491.0 436.5,491.2 436.9,491.4 437.3,491.6 437.7,491.8 438.1,492.0 438.5,492.2 438.9,492.4 439.3,492.6 439.7,492.8 440.1,492.9 440.5,493.1 440.9,493.3 441.3,493.4 441.7,493.4 442.1,493.4 442.5,493.4 442.9,493.4 443.3,493.4 443.7,493.4 444.1,493.4 444.5,493.4 444.9,493.4 445.3,493.4 445.7,493.4 446.1,493.4 446.5,493.4 446.9,493.4 447.3,493.4 447.7,493.4 448.1,493.4 448.5,493.4 448.9,493.4 449.3,493.4 449.7,493.4 450.1,493.4 450.5,493.4 450.9,493.4 451.3,493.4 451.7,493.4 452.1,493.4 452.5,493.4 452.9,493.4 453.3,493.4 453.7,493.4 454.1,493.4 454.5,493.4 454.9,493.4 455.3,493.4 455.7,493.4 456.1,493.4 456.5,493.4 456.9,493.4 457.3,493.4 457.7,493.4 458.1,493.4 458.5,493.4 458.9,493.4 459.3,493.4 459.7,493.4 460.1,493.4 460.5,493.4 460.9,493.4 461.3,493.4 461.7,493.4 462.1,493.4 462.5,493.4 462.9,493.4 463.3,493.4 463.7,493.4 464.1,493.4 464.5,493.4 464.9,493.4 465.3,493.4 465.7,493.4 466.1,493.4 466.5,493.4 466.9,493.4 467.3,493.4 467.7,493.4 468.1,493.4 468.5,493.4 468.9,493.4 469.3,493.4 469.7,493.4 470.1,493.4 470.5,493.4 470.9,493.4 471.3,493.4 471.7,493.4 472.1,493.4 472.5,493.4 472.9,493.4 473.3,493.4 473.7,493.4 474.1,493.4 474.5,493.4 474.9,493.4 475.3,493.4 475.7,493.4 476.1,493.4 476.5,493.4 476.9,493.4 477.3,493.4 477.7,493.4 478.1,493.4 478.5,493.4 478.9,493.4 479.3,493.4 479.7,493.4 480.1,493.4 480.5,493.4 480.9,493.4 481.3,493.4 481.7,493.4 482.1,493.4 482.5,493.4 482.9,493.4 483.3,493.4 483.7,493.4 484.1,493.4 484.5,493.4 484.9,493.4 485.3,493.4 485.7,493.4 486.1,493.4 486.5,493.4 486.9,493.4 487.3,493.4 487.7,493.4 488.1,493.4 488.5,493.4 488.9,493.4 489.3,493.4 489.7,493.4 490.1,493.4 490.5,493.4 490.9,493.4 491.3,493.4 491.7,493.4 492.1,493.4 492.5,493.4 492.9,493.4 493.3,493.4 493.7,493.4 494.1,493.4 494.5,493.4 494.9,493.4 495.3,493.4 495.7,493.4 496.1,493.4 496.5,493.4 496.9,493.4 497.3,493.4 497.7,493.4 498.1,493.4 498.5,493.4 498.9,493.4 499.3,493.4 499.7,493.4 500.1,493.4 500.5,493.4 500.9,493.4 501.3,493.4 501.7,493.4 502.1,493.4 502.5,493.4 502.9,493.4 503.3,493.4 503.7,493.4 504.1,493.4 504.5,493.4 504.9,493.4 505.3,493.4 505.7,493.4 506.1,493.4 506.5,493.4 506.9,493.4 507.3,493.4 507.7,493.4 508.1,493.4 508.5,493.4 508.9,493.4 509.3,493.4 509.7,493.4 510.1,493.4 510.5,493.4 510.9,493.4 511.3,493.4 511.7,493.4 512.1,493.4 512.5,493.4 512.9,493.4 513.3,493.4 513.7,493.4 514.1,493.4 514.5,493.4 514.9,493.4 515.3,493.4 515.7,493.4 516.1,493.4 516.5,493.4 516.9,493.4 517.3,493.4 517.7,493.4 518.1,493.4 518.5,493.4 518.9,493.4 519.3,493.4 519.7,493.4 520.1,493.4 520.5,493.4 520.9,493.4 521.3,493.4 521.7,493.4 522.1,493.4 522.5,493.4 522.9,493.4 523.3,493.4 523.7,493.4 524.1,493.4 524.5,493.4 524.9,493.4 525.3,493.4 525.7,493.4 526.1,493.4 526.5,493.4 526.9,493.4 527.3,493.4 527.7,493.4 528.1,493.4 528.5,493.4 528.9,493.4 529.3,493.4 529.7,493.4 530.1,493.4 530.5,493.4 530.9,493.4 531.3,493.4 531.7,493.4 532.1,493.4 532.5,493.4 532.9,493.4 533.3,493.4 533.7,493.4 534.1,493.4 534.5,493.4 534.9,493.4 535.3,493.4 535.7,493.4 536.1,493.4 536.5,493.4 536.9,493.4 537.3,493.4 537.7,493.4 538.1,493.4 538.5,493.4 538.9,493.4 539.3,493.4 539.7,493.4 540.1,493.4 540.5,493.4 540.9,493.4 541.3,493.4 541.7,493.4 542.1,493.4 542.5,493.4 542.9,493.4 543.3,493.4 543.7,493.4 544.1,493.4 544.5,493.4 544.9,493.4 545.3,493.4 545.7,493.4 546.1,493.4 546.5,493.4 546.9,493.4 547.3,493.4 547.7,493.4 548.1,493.4 548.5,493.4 548.9,493.4 549.3,493.4 549.7,493.4 550.1,493.4 550.5,493.4 550.9,493.4 551.3,493.4 551.7,493.4 552.1,493.4 552.5,493.4 552.9,493.4 553.3,493.4 553.7,493.4 554.1,493.4 554.5,493.4 554.9,493.4 555.3,493.4 555.7,493.4 556.1,493.4 556.5,493.4 556.9,493.4 557.3,493.4 557.7,493.4 558.1,493.4 558.5,493.4 558.9,493.4 559.3,493.4 559.7,493.4 560.1,493.4 560.5,493.4 560.9,493.4 561.3,493.4 561.7,493.4 562.1,493.4 562.5,493.4 562.9,493.4 563.3,493.4 563.7,493.4 564.1,493.4 564.5,493.4 564.9,493.4 565.3,493.4 565.7,493.4 566.1,493.4 566.5,493.4 566.9,493.4 567.3,493.4 567.7,493.4 568.1,493.4 568.5,493.4 568.9,493.4 569.3,493.4 569.7,493.4 570.1,493.4 570.5,493.4 570.9,493.4 571.3,493.4 571.7,493.4 572.1,493.4 572.5,493.4 572.9,493.4 573.3,493.4 573.7,493.4 574.1,493.4 574.5,493.4 574.9,493.4 575.3,493.4 575.7,493.4 576.1,493.4 576.5,493.4 576.9,493.4 577.3,493.4 577.7,493.4 578.1,493.4 578.5,493.4 578.9,493.4 579.3,493.4 579.7,493.4 580.1,493.4 580.5,493.4 580.9,493.4 581.3,493.4 581.7,493.4 582.1,493.4 582.5,493.4 582.9,493.4 583.3,493.4 583.7,493.4 584.1,493.4 584.5,493.4 584.9,493.4 585.3,493.4 585.7,493.4 586.1,493.4 586.5,493.4 586.9,493.4 587.3,493.4 587.7,493.4 588.1,493.4 588.5,493.4 588.9,493.4 589.3,493.4 589.7,493.4 590.1,493.4 590.5,493.4 590.9,493.4 591.3,493.4 591.7,493.4 592.1,493.4 592.5,493.4 592.9,493.4 593.3,493.4 593.7,493.4 594.1,493.4 594.5,493.4 594.9,493.4 595.3,493.4 595.7,493.4 596.1,493.4 596.5,493.4 596.9,493.4 597.3,493.4 597.7,493.4 598.1,493.4 598.5,493.4 598.9,493.4 599.3,493.4 599.7,493.4 600.1,493.4 600.5,493.4 600.9,493.4 601.3,493.4 601.7,493.4 602.1,493.4 602.5,493.4 602.9,493.4 603.3,493.4 603.7,493.4 604.1,493.4 604.5,493.4 604.9,493.4 605.3,493.4 605.7,493.4 606.1,493.4 606.5,493.4 606.9,493.4 607.3,493.4 607.7,493.4 608.1,493.4 608.5,493.4 608.9,493.4 609.3,493.4 609.7,493.4 610.1,493.4 610.5,493.4 610.9,493.4 611.3,493.4 611.7,493.4 612.1,493.4 612.5,493.4 612.9,493.4 613.3,493.4 613.7,493.4 614.1,493.4 614.5,493.4 614.9,493.4 615.3,493.4 615.7,493.4 616.1,493.4 616.5,493.4 616.9,493.4 617.3,493.4 617.7,493.4 618.1,493.4 618.5,493.4 618.9,493.4 619.3,493.4 619.7,493.4 620.1,493.4 620.5,493.4 620.9,493.4 621.3,493.4 621.7,493.4 622.1,493.4 622.5,493.4 622.9,493.4 623.3,493.4 623.7,493.4 624.1,493.4 624.5,493.4 624.9,493.4 625.3,493.4 625.7,493.4 626.1,493.4 626.5,493.4 626.9,493.4 627.3,493.4 627.7,493.4 628.1,493.4 628.5,493.4 628.9,493.4 629.3,493.4 629.7,493.4 630.1,493.4 630.5,493.4 630.9,493.4 631.3,493.4 631.7,493.4 632.1,493.4 632.5,493.4 632.9,493.4 633.3,493.4 633.7,493.4 634.1,493.4 634.5,493.4 634.9,493.4 635.3,493.4 635.7,493.4 636.1,493.4 636.5,493.4 636.9,493.4 637.3,493.4 637.7,493.4 638.1,493.4 638.5,493.4 638.9,493.4 639.3,493.4 639.7,493.4 640.1,493.4 640.5,493.4 640.9,493.4 641.3,493.4 641.7,493.4 642.1,493.4 642.5,493.4 642.9,493.4 643.3,493.4 643.7,493.4 644.1,493.4 644.5,493.4 644.9,493.4 645.3,493.4 645.7,493.4 646.1,493.4 646.5,493.4 646.9,493.4 647.3,493.4 647.7,493.4 648.1,493.4 648.5,493.2 648.9,492.9 649.3,492.5 649.7,492.2 650.1,491.8 650.5,491.5 650.9,491.1 651.3,490.8 651.7,490.4 652.1,490.1 652.5,489.8 652.9,489.4 653.3,489.1 653.7,488.7 654.1,488.4 654.5,488.0 654.9,487.7 655.3,487.3 655.7,487.0 656.1,486.6 656.5,486.3 656.9,485.9 657.3,485.6 657.7,485.2 658.1,484.9 658.5,484.5 658.9,484.2 659.3,483.9 659.7,483.5 660.1,483.2 660.5,482.8 660.9,482.5 661.3,482.1 661.7,481.8 662.1,481.4 662.5,481.1 662.9,480.7 663.3,480.4 663.7,480.0 664.1,479.7 664.5,479.3 664.9,479.0 665.3,478.6 665.7,478.3 666.1,478.0 666.5,477.6 666.9,477.3 667.3,476.9 667.7,476.6 668.1,476.2 668.5,475.9 668.9,475.5 669.3,475.2 669.7,474.8 670.1,474.5 670.5,474.1 670.9,473.8 671.3,473.4 671.7,473.1 672.1,472.7 672.5,472.4 672.9,472.1 673.3,471.7 673.7,471.4 674.1,471.0 674.5,470.7 674.9,470.3 675.3,470.0 675.7,469.6 676.1,469.3 676.5,469.0 676.9,468.7 677.3,468.5 677.7,468.2 678.1,468.0 678.5,467.7 678.9,467.5 679.3,467.2 679.7,467.0 680.1,466.7 680.5,466.5 680.9,466.2 681.3,466.0 681.7,465.7 682.1,465.5 682.5,465.2 682.9,465.0 683.3,464.7 683.7,464.5 684.1,464.2 684.5,464.0 684.9,463.7 685.3,463.5 685.7,463.2 686.1,463.0 686.5,462.7 686.9,462.5 687.3,462.2 687.7,462.0 688.1,461.8 688.5,461.5 688.9,461.3 689.3,461.0 689.7,460.8 690.1,460.5 690.5,460.3 690.9,460.0 691.3,459.8 691.7,459.5 692.1,459.3 692.5,459.0 692.9,458.8 693.3,458.5 693.7,458.3 694.1,458.0 694.5,457.8 694.9,457.6 695.3,457.4 695.7,457.1 696.1,456.9 696.5,456.7 696.9,456.4 697.3,456.2 697.7,456.0 698.1,455.8 698.5,455.5 698.9,455.3 699.3,455.1 699.7,454.9 700.1,454.6 700.5,454.4 700.9,454.2 701.3,454.0 701.7,453.7 702.1,453.5 702.5,453.3 702.9,453.1 703.3,452.8 703.7,452.6 704.1,452.4 704.5,452.1 704.9,451.9 705.3,451.7 705.7,451.5 706.1,451.2 706.5,451.0 706.9,450.8 707.3,450.6 707.7,450.3 708.1,450.1 708.5,449.9 708.9,449.7 709.3,449.4 709.7,449.2 710.1,449.0 710.5,448.8 710.9,448.5 711.3,448.3 711.7,448.2 712.1,448.0 712.5,447.9 712.9,447.8 713.3,447.6 713.7,447.5 714.1,447.4 714.5,447.2 714.9,447.1 715.3,446.9 715.7,446.8 716.1,446.7 716.5,446.5 716.9,446.4 717.3,446.3 717.7,446.1 718.1,446.0 718.5,445.9 718.9,445.7 719.3,445.7 719.7,445.7 720.1,445.7 720.5,445.7 720.9,445.7 721.3,445.7 721.7,445.7 722.1,445.7 722.5,445.7 722.9,445.7 723.3,445.7 723.7,445.7 724.1,445.7 724.5,445.7 724.9,445.7 725.3,445.7 725.7,445.7 726.1,445.7 726.5,445.7 726.9,445.8 727.3,445.8 727.7,445.8 728.1,445.8 728.5,445.8 728.9,445.8 729.3,445.8 729.7,445.8 730.1,445.8 730.5,445.8 730.9,445.8 731.3,445.8 731.7,445.8 732.1,445.8 732.5,445.8 732.9,445.8 733.3,445.8 733.7,445.8 734.1,445.8 734.5,445.8 734.9,445.8 735.3,445.8 735.7,445.8 736.1,445.8 736.5,445.8 736.9,445.8 737.3,445.8 737.7,445.8 738.1,445.8 738.5,445.8 738.9,445.8 739.3,445.8 739.7,445.8 740.1,445.8 740.5,445.8 740.9,445.8 741.3,445.8 741.7,445.8 742.1,445.8 742.5,445.9 742.9,445.9 743.3,445.9 743.7,445.9 744.1,445.9 744.5,445.9 744.9,445.9 745.3,445.9 745.7,445.9 746.1,445.9 746.5,445.9 746.9,445.9 747.3,445.9 747.7,445.9 748.1,445.9 748.5,445.9 748.9,445.9 749.3,445.9 749.7,445.9 750.1,445.9 750.5,445.9 750.9,445.9 751.3,445.9 751.7,445.9 752.1,445.9 752.5,445.9 752.9,445.9 753.3,445.9 753.7,445.9 754.1,445.9 754.5,445.9 754.9,445.9 755.3,445.9 755.7,445.9 756.1,445.9 756.5,445.9 756.9,445.9 757.3,445.9 757.7,446.0 758.1,446.0 758.5,446.0 758.9,446.0 759.3,446.0 759.7,446.0 760.1,446.0 760.5,446.0 760.9,446.0 761.3,446.0 761.7,446.0 762.1,446.0 762.5,446.0 762.9,446.0 763.3,446.0 763.7,446.0 764.1,446.0 764.5,446.0 764.9,446.0 765.3,446.0 765.7,445.9 766.1,445.7 766.5,445.6 766.9,445.5 767.3,445.3 767.7,445.2 768.1,445.1 768.5,444.9 768.9,444.8 769.3,444.7 769.7,444.5 770.1,444.4 770.5,444.3 770.9,444.2 771.3,444.0 771.7,443.9 772.1,443.8 772.5,443.6 772.9,443.5 773.3,443.4 773.7,443.2 774.1,443.1 774.5,443.0 774.9,442.8 775.3,442.7 775.7,442.6 776.1,442.4 776.5,442.3 776.9,442.2 777.3,442.0 777.7,441.9 778.1,441.8 778.5,441.6 778.9,441.5 779.3,441.4 779.7,441.2 780.1,441.1 780.5,441.0 780.9,440.9 781.3,440.7 781.7,440.6 782.1,440.5 782.5,440.3 782.9,440.2 783.3,440.1 783.7,439.9 784.1,439.8 784.5,439.7 784.9,439.5 785.3,439.4 785.7,439.3 786.1,439.1 786.5,439.0 786.9,438.9 787.3,438.7 787.7,438.6 788.1,438.5 788.5,438.3 788.9,438.2 789.3,438.1 789.7,437.9 790.1,437.8 790.5,437.7 790.9,437.6 791.3,437.4 791.7,437.3 792.1,437.2 792.5,437.0 792.9,436.9 793.3,436.8 793.7,436.6 794.1,436.5 794.5,436.4 794.9,436.2 795.3,436.1 795.7,436.0 796.1,435.9 796.5,435.8 796.9,435.7 797.3,435.6 797.7,435.5 798.1,435.4 798.5,435.3 798.9,435.2 799.3,435.2 799.7,435.1 800.1,435.0 800.5,434.9 800.9,434.8 801.3,434.7 801.7,434.6 802.1,434.5 802.5,434.4 802.9,434.3 803.3,434.2 803.7,434.2 804.1,434.1 804.5,434.0 804.9,433.9 805.3,433.8 805.7,433.7 806.1,433.6 806.5,433.5 806.9,433.4 807.3,433.3 807.7,433.2 808.1,433.1 808.5,433.1 808.9,433.0 809.3,432.9 809.7,432.8 810.1,432.7 810.5,432.6 810.9,432.5 811.3,432.4 811.7,432.3 812.1,432.2 812.5,432.1 812.9,432.1 813.3,432.0 813.7,431.9 814.1,431.8 814.5,431.7 814.9,431.6 815.3,431.5 815.7,431.4 816.1,431.3 816.5,431.2 816.9,431.1 817.3,431.0 817.7,431.0 818.1,431.1 818.5,431.1 818.9,431.2 819.3,431.2 819.7,431.3 820.1,431.4 820.5,431.4 820.9,431.5 821.3,431.5 821.7,431.6 822.1,431.6 822.5,431.7 822.9,431.7 823.3,431.8 823.7,431.8 824.1,431.9 824.5,432.0 824.9,432.0 825.3,432.1 825.7,432.1 826.1,432.2 826.5,432.2 826.9,432.3 827.3,432.3 827.7,432.4 828.1,432.5 828.5,432.5 828.9,432.6 829.3,432.6 829.7,432.7 830.1,432.7 830.5,432.8 830.9,432.8 831.3,432.9 831.7,432.9 832.1,433.0 832.5,433.1 832.9,433.1 833.3,433.2 833.7,433.2 834.1,433.3 834.5,433.3 834.9,433.4 835.3,433.4 835.7,433.5 836.1,433.5 836.5,433.6 836.9,433.7 837.3,433.7 837.7,433.8 838.1,433.8 838.5,433.9 838.9,433.9 839.3,434.0 839.7,434.0 840.1,434.1 840.5,434.1 840.9,434.2 841.3,434.3 841.7,434.3 842.1,434.4 842.5,434.4 842.9,434.5 843.3,434.5 843.7,434.6 844.1,434.6 844.5,434.7 844.9,434.7 845.3,434.8 845.7,434.8 846.1,434.9 846.5,434.9 846.9,435.0 847.3,435.0 847.7,435.1 848.1,435.1 848.5,435.2 848.9,435.3 849.3,435.3 849.7,435.4 850.1,435.4 850.5,435.5 850.9,435.5 851.3,435.6 851.7,435.6 852.1,435.7 852.5,435.7 852.9,435.8 853.3,435.8 853.7,435.9 854.1,435.9 854.5,436.0 854.9,436.0 855.3,436.1 855.7,436.2 856.1,436.2 856.5,436.3 856.9,436.3 857.3,436.4 857.7,436.4 858.1,436.5 858.5,436.5 858.9,436.6 859.3,436.6 859.7,436.7 860.1,436.7 860.5,436.8 860.9,436.8 861.3,436.9 861.7,436.9 862.1,437.0 862.5,437.0 862.9,437.1 863.3,437.2 863.7,437.2 864.1,437.3 864.5,437.3 864.9,437.4 865.3,437.4 865.7,437.5 866.1,437.5 866.5,437.6 866.9,437.6 867.3,437.7 867.7,437.7 868.1,437.8 868.5,437.8 868.9,437.9 869.3,437.9 869.7,438.0 870.1,438.1 870.5,438.1 870.9,438.2 871.3,438.2 871.7,438.3 872.1,438.4 872.5,438.4 872.9,438.5 873.3,438.6 873.7,438.6 874.1,438.7 874.5,438.7 874.9,438.8 875.3,438.9 875.7,438.9 876.1,439.0 876.5,439.1 876.9,439.1 877.3,439.2 877.7,439.2 878.1,439.3 878.5,439.4 878.9,439.4 879.3,439.5 879.7,439.6 880.1,439.6 880.5,439.7 880.9,439.7 881.3,439.8 881.7,439.9 882.1,439.9 882.5,440.0 882.9,440.1 883.3,440.1 883.7,440.2 884.1,440.2 884.5,440.3 884.9,440.4 885.3,440.4 885.7,440.5 886.1,440.6 886.5,440.6 886.9,440.7 887.3,440.7 887.7,440.8 888.1,440.9 888.5,440.9 888.9,441.0 889.3,441.1 889.7,441.1 890.1,441.2 890.5,441.2 890.9,441.3 891.3,441.4 891.7,441.4 892.1,441.5 892.5,441.6 892.9,441.6 893.3,441.7 893.7,441.7 894.1,441.8 894.5,441.9 894.9,441.9 895.3,442.0 895.7,442.1 896.1,442.1 896.5,442.2 896.9,442.2 897.3,442.3 897.7,442.4 898.1,442.4 898.5,442.5 898.9,442.6 899.3,442.6 899.7,442.7 900.1,442.7 900.5,442.8 900.9,442.9 901.3,442.9 901.7,443.0 902.1,443.1 902.5,443.1 902.9,443.2 903.3,443.2 903.7,443.3 904.1,443.4 904.5,443.4 904.9,443.5 905.3,443.6 905.7,443.6 906.1,443.8 906.5,444.0 906.9,444.1 907.3,444.3 907.7,444.5 908.1,444.7 908.5,444.8 908.9,445.0 909.3,445.2 909.7,445.3 910.1,445.5 910.5,445.7 910.9,445.8 911.3,446.0 911.7,446.2 912.1,446.3 912.5,446.5 912.9,446.7 913.3,446.8 913.7,447.0 914.1,447.2 914.5,447.4 914.9,447.5 915.3,447.7 915.7,447.9 916.1,448.0 916.5,448.2 916.9,448.4 917.3,448.5 917.7,448.7 918.1,448.9 918.5,449.0 918.9,449.2 919.3,449.4 919.7,449.5 920.1,449.7 920.5,449.9 920.9,450.1 921.3,450.2 921.7,450.4 922.1,450.6 922.5,450.7 922.9,450.8 923.3,451.0 923.7,451.1 924.1,451.2 924.5,451.3 924.9,451.5 925.3,451.6 925.7,451.7 926.1,451.9 926.5,452.0 926.9,452.1 927.3,452.2 927.7,452.4 928.1,452.5 928.5,452.6 928.9,452.8 929.3,452.9 929.7,453.0 930.1,453.2 930.5,453.3 930.9,453.4 931.3,453.5 931.7,453.7 932.1,453.8 932.5,453.9 932.9,454.1 933.3,454.2 933.7,454.3 934.1,454.4 934.5,454.6 934.9,454.7 935.3,454.8 935.7,455.0 936.1,455.1 936.5,455.2 936.9,455.4 937.3,455.5 937.7,455.6 938.1,455.7 938.5,455.9 938.9,456.0 939.3,456.3 939.7,456.5 940.1,456.8 940.5,457.0 940.9,457.3 941.3,457.5 941.7,457.8 942.1,458.0 942.5,458.3 942.9,458.5 943.3,458.8 943.7,459.0 944.1,459.3 944.5,459.5 944.9,459.8 945.3,460.1 945.7,460.3 946.1,460.6 946.5,460.8 946.9,461.1 947.3,461.3 947.7,461.6 948.1,461.8 948.5,462.1 948.9,462.3 949.3,462.6 949.7,462.8 950.1,463.1 950.5,463.3 950.9,463.6 951.3,463.9 951.7,464.1 952.1,464.4 952.5,464.6 952.9,464.9 953.3,465.1 953.7,465.4 954.1,465.6 954.5,465.9 954.9,466.1 955.3,466.4 955.7,466.6 956.1,466.9 956.5,467.1 956.9,467.4 957.3,467.7 957.7,467.9 958.1,468.2 958.5,468.4 958.9,468.7 959.3,468.9 959.7,469.2 960.1,469.4 960.5,469.7 960.9,469.9 961.3,470.1 961.7,470.3 962.1,470.4 962.5,470.6 962.9,470.7 963.3,470.9 963.7,471.0 964.1,471.2 964.5,471.3 964.9,471.5 965.3,471.6 965.7,471.8 966.1,471.9 966.5,472.1 966.9,472.2 967.3,472.4 967.7,472.5 968.1,472.7 968.5,472.8 968.9,473.0 969.3,473.1 969.7,473.3 970.1,473.4 970.5,473.6 970.9,473.7 971.3,473.9 971.7,474.0 972.1,474.2 972.5,474.3 972.9,474.5 973.3,474.6 973.7,474.8 974.1,474.9 974.5,475.1 974.9,475.2 975.3,475.4 975.7,475.5 976.1,475.7 976.5,475.8 976.9,476.0 977.3,476.1 977.7,476.3 978.1,476.4 978.5,476.6 978.9,476.7 979.3,476.9 979.7,477.0 980.1,477.2 980.5,477.3 980.9,477.5 981.3,477.6 981.7,477.8 982.1,477.9 982.5,478.1 982.9,478.2 983.3,478.4 983.7,478.5 984.1,478.7 984.5,478.9 984.9,479.1 985.3,479.3 985.7,479.5 986.1,479.7 986.5,479.9 986.9,480.1 987.3,480.3 987.7,480.5 988.1,480.7 988.5,480.9 988.9,481.1 989.3,481.3 989.7,481.5 990.1,481.7 990.5,481.9 990.9,482.1 991.3,482.3 991.7,482.5 992.1,482.7 992.5,482.9 992.9,483.1 993.3,483.3 993.7,483.5 994.1,483.7 994.5,483.9 994.9,484.1 995.3,484.3 995.7,484.5 996.1,484.7 996.5,484.9 996.9,485.1 997.3,485.3 997.7,485.5 998.1,485.7 998.5,485.9 998.9,486.1 999.3,486.3 999.7,486.5 1000.1,486.7 1000.5,486.9 1000.9,487.1 1001.3,487.3 1001.7,487.5 1002.1,487.7 1002.5,487.9 1002.9,488.1 1003.3,488.3 1003.7,488.5 1004.1,488.7 1004.5,488.9 1004.9,489.1 1005.3,489.3 1005.7,489.6 1006.1,489.8 1006.5,490.0 1006.9,490.2 1007.3,490.5 1007.7,490.7 1008.1,490.9 1008.5,491.2 1008.9,491.4 1009.3,491.6 1009.7,491.8 1010.1,492.1 1010.5,492.3 1010.9,492.5 1011.3,492.8 1011.7,493.0 1012.1,493.2 1012.5,493.4 1012.9,493.4 1013.3,493.4 1013.7,493.4 1014.1,493.4 1014.5,493.4 1014.9,493.4 1015.3,493.4 1015.7,493.4 1016.1,493.4 1016.5,493.4 1016.9,493.4 1017.3,493.4 1017.7,493.4 1018.1,493.4 1018.5,493.4 1018.9,493.4 1019.3,493.4 1019.7,493.4 1020.1,493.4 1020.5,493.4 1020.9,493.4 1021.3,493.4 1021.7,493.4 1022.1,493.4 1022.5,493.4 1022.9,493.4 1023.3,493.4 1023.7,493.4 1024.1,493.4 1024.5,493.4 1024.9,493.4 1025.3,493.4 1025.7,493.4 1026.1,493.4 1026.5,493.4 1026.9,493.4 1027.3,493.4 1027.7,493.4 1028.1,493.4 1028.5,493.4 1028.9,493.4 1029.3,493.4 1029.7,493.4 1030.1,493.4 1030.5,493.4 1030.9,493.4 1031.3,493.4 1031.7,493.4 1032.1,493.4 1032.5,493.4 1032.9,493.4 1033.3,493.4 1033.7,493.4 1034.1,493.4 1034.5,493.4 1034.9,493.4 1035.3,493.4 1035.7,493.4 1036.1,493.4 1036.5,493.4 1036.9,493.4 1037.3,493.4 1037.7,493.4 1038.1,493.4 1038.5,493.4 1038.9,493.4 1039.3,493.4 1039.7,493.4 1040.1,493.4 1040.5,493.4 1040.9,493.4 1041.3,493.4 1041.7,493.4 1042.1,493.4 1042.5,493.4 1042.9,493.4 1043.3,493.4 1043.7,493.4 1044.1,493.4 1044.5,493.4 1044.9,493.4 1045.3,493.4 1045.7,493.4 1046.1,493.4 1046.5,493.4 1046.9,493.4 1047.3,493.4 1047.7,493.4 1048.1,493.4 1048.5,493.4 1048.9,493.4 1049.3,493.4 1049.7,493.4 1050.1,493.4 1050.5,493.4 1050.9,493.4 1051.3,493.4 1051.7,493.4 1052.1,493.4 1052.5,493.4 1052.9,493.4 1053.3,493.4 1053.7,493.4 1054.1,493.4 1054.5,493.4 1054.9,493.4 1055.3,493.4 1055.7,493.4 1056.1,493.4 1056.5,493.4 1056.9,493.4 1057.3,493.4 1057.7,493.4 1058.1,493.4 1058.5,493.4 1058.9,493.4 1059.3,493.4 1059.7,493.4 1060.1,493.4 1060.5,493.4 1060.9,493.4 1061.3,493.4 1061.7,493.4 1062.1,493.4 1062.5,493.4 1062.9,493.4 1063.3,493.4 1063.7,493.4 1064.1,493.4 1064.5,493.4 1064.9,493.4 1065.3,493.4 1065.7,493.4 1066.1,493.4 1066.5,493.4 1066.9,493.4 1067.3,493.4 1067.7,493.4 1068.1,493.4 1068.5,493.4 1068.9,493.4 1069.3,493.4 1069.7,493.4 1070.1,493.4 1070.5,493.4 1070.9,493.4 1071.3,493.4 1071.7,493.4 1072.1,493.4 1072.5,493.4 1072.9,493.4 1073.3,493.4 1073.7,493.4 1074.1,493.4 1074.5,493.4 1074.9,493.4 1075.3,493.4 1075.7,493.4 1076.1,493.4 1076.5,493.4 1076.9,493.4 1077.3,493.4 1077.7,493.4 1078.1,493.4 1078.5,493.4 1078.9,493.4 1079.3,493.4 1079.7,493.4 1080.1,493.4 1080.5,493.4 1080.9,493.4 1081.3,493.4 1081.7,493.4 1082.1,493.4 1082.5,493.4 1082.9,493.4 1083.3,493.4 1083.7,493.4 1084.1,493.4 1084.5,493.4 1084.9,493.4 1085.3,493.4 1085.7,493.4 1086.1,493.4 1086.5,493.4 1086.9,493.4 1087.3,493.4 1087.7,493.4 1088.1,493.4 1088.5,493.4 1088.9,493.4 1089.3,493.4 1089.7,493.4 1090.1,493.4 1090.5,493.4 1090.9,493.4 1091.3,493.4 1091.7,493.4 1092.1,493.4 1092.5,493.4 1092.9,493.4 1093.3,493.4 1093.7,493.4 1094.1,493.4 1094.5,493.4 1094.9,493.4 1095.3,493.4 1095.7,493.4 1096.1,493.4 1096.5,493.4 1096.9,493.4 1097.3,493.4 1097.7,493.4 1098.1,493.4 1098.5,493.4 1098.9,493.4 1099.3,493.4 1099.7,493.4 1100.1,493.4 1100.5,493.4 1100.9,493.4 1101.3,493.4 1101.7,493.4 1102.1,493.4 1102.5,493.4 1102.9,493.4 1103.3,493.4 1103.7,493.4 1104.1,493.4 1104.5,493.4 1104.9,493.4 1105.3,493.4 1105.7,493.4 1106.1,493.4 1106.5,493.4 1106.9,493.4 1107.3,493.4 1107.7,493.4 1108.1,493.4 1108.5,493.4 1108.9,493.4 1109.3,493.4 1109.7,493.4 1110.1,493.4 1110.5,493.4 1110.9,493.4 1111.3,493.4 1111.7,493.4 1112.1,493.4 1112.5,493.4 1112.9,493.4 1113.3,493.4 1113.7,493.4 1114.1,493.4 1114.5,493.4 1114.9,493.4 1115.3,493.4 1115.7,493.4 1116.1,493.4 1116.5,493.4 1116.9,493.4 1117.3,493.4 1117.7,493.4 1118.1,493.4 1118.5,493.4 1118.9,493.4 1119.3,493.4 1119.7,493.4 1120.1,493.4 1120.5,493.4 1120.9,493.4 1121.3,493.4 1121.7,493.4 1122.1,493.4 1122.5,493.4 1122.9,493.4 1123.3,493.4 1123.7,493.4 1124.1,493.4 1124.5,493.4 1124.9,493.4 1125.3,493.4 1125.7,493.4 1126.1,493.4 1126.5,493.4 1126.9,493.4 1127.3,493.4 1127.7,493.4 1128.1,493.4 1128.5,493.4 1128.9,493.4 1129.3,493.4 1129.7,493.4 1130.1,493.4 1130.5,493.4 1130.9,493.4 1131.3,493.4 1131.7,493.4 1132.1,493.4 1132.5,493.4 1132.9,493.4 1133.3,493.4 1133.7,493.4 1134.1,493.4 1134.5,493.4 1134.9,493.4 1135.3,493.4 1135.7,493.4 1136.1,493.4 1136.5,493.4 1136.9,493.4 1137.3,493.4 1137.7,493.4 1138.1,493.4 1138.5,493.4 1138.9,493.4 1139.3,493.4 1139.7,493.4 1140.1,493.4 1140.5,493.4 1140.9,493.4 1141.3,493.4 1141.7,493.4 1142.1,493.4 1142.5,493.4 1142.9,493.4 1143.3,493.4 1143.7,493.4 1144.1,493.4 1144.5,493.4 1145.0,493.4 1145.0,520.3 36.1,520.3" fill="#F0C0A8"/>
<path d="M36.1 127.8 L130.0 127.8 L131.6 124.5 L179.7 124.5 L181.3 121.5 L228.0 121.5 L229.6 117.7 L277.8 117.7 L279.4 114.8 L375.9 114.8 L377.5 121.0 L425.7 121.0 L427.3 127.8 L716.8 127.8 L718.4 124.6 L766.6 124.6 L768.2 121.0 L814.9 121.0 L816.5 118.0 L864.7 118.0 L866.3 115.0 L962.8 115.0 L964.4 121.0 L1012.7 121.0 L1014.3 127.8 L1145.0 127.8" fill="none" stroke="#8CDDD6" stroke-width="2" stroke-dasharray="5 5"/>
<path d="M36.1 434.7 L52.6 422.2 L70.8 408.0 L72.8 374.8 L84.9 364.7 L123.8 350.5 L126.5 359.5 L167.8 365.5 L170.6 345.0 L179.9 347.7 L212.8 337.8 L216.0 329.0 L229.8 324.8 L245.5 329.3 L262.4 335.0 L265.0 348.7 L278.5 350.4 L300.0 360.0 L319.6 370.0 L333.0 380.8 L362.7 410.4 L365.4 423.9 L378.9 437.3 L405.8 453.5 L424.7 461.6 L440.0 473.0 L452.1 481.6 L460.7 487.7 L466.8 488.6 L474.6 493.7 L508.3 486.3 L510.0 500.6 L511.7 504.9 L526.4 508.4 L543.7 512.7 L561.0 517.9 L571.4 520.2 L576.6 515.3 L581.7 506.7 L590.4 492.8 L600.8 477.3 L606.3 469.1 L611.7 460.4 L621.6 445.0 L631.4 431.9 L638.0 424.3 L647.8 413.3 L657.7 402.4 L667.5 391.4 L675.2 383.8 L689.4 375.0 L705.8 366.3 L719.0 360.1 L735.0 361.3 L765.3 364.3 L795.6 350.2 L817.5 344.1 L839.4 348.0 L863.0 353.6 L887.5 370.0 L905.6 385.3 L925.0 404.7 L944.5 425.6 L958.4 442.2 L972.2 452.0 L988.9 461.7 L1008.4 474.2 L1025.0 485.3 L1038.9 495.0 L1055.6 507.5 L1072.3 514.5 L1100.0 518.6 L1127.8 520.0 L1145.0 520.3" fill="none" stroke="#F2C80F" stroke-width="2" stroke-dasharray="2 3" stroke-linejoin="round"/>
<path d="M36.1 476.7 L52.6 465.8 L70.8 454.5 L72.8 428.6 L123.3 402.3 L126.2 410.0 L167.8 415.2 L170.6 391.8 L180.0 393.0 L212.3 388.0 L216.3 380.9 L230.5 379.7 L262.0 386.9 L264.9 400.3 L290.0 404.5 L322.3 407.7 L330.4 411.7 L362.7 436.0 L365.4 444.0 L378.9 452.1 L397.7 464.3 L416.6 475.0 L442.6 486.8 L450.4 492.0 L459.9 497.2 L467.7 499.8 L474.6 504.6 L505.7 503.2 L509.1 505.3 L514.3 512.7 L529.9 515.3 L552.4 518.8 L571.4 520.2 L578.3 515.3 L585.2 511.0 L595.6 504.1 L605.9 496.3 L616.3 487.7 L626.7 479.9 L637.0 471.2 L639.1 469.1 L652.2 456.0 L667.5 440.7 L680.7 430.8 L693.8 424.3 L709.1 415.5 L720.0 411.8 L735.0 411.8 L765.3 413.5 L795.6 402.4 L817.5 396.3 L839.4 399.7 L866.7 404.7 L886.0 413.0 L905.6 421.4 L925.0 431.0 L941.7 447.8 L961.0 458.9 L983.4 471.4 L1005.6 481.0 L1025.0 492.2 L1044.5 506.0 L1058.4 514.5 L1086.0 518.6 L1127.8 520.3 L1145.0 520.3" fill="none" stroke="#FE9666" stroke-width="2" stroke-dasharray="2 3" stroke-linejoin="round"/>
<path d="M36.1 498.0 L70.8 480.8 L72.8 454.5 L121.3 428.6 L125.4 428.6 L126.2 435.5 L167.8 438.7 L170.6 416.0 L212.3 413.2 L216.3 407.2 L230.5 406.8 L262.0 413.2 L264.9 426.6 L279.0 428.6 L300.0 427.8 L322.3 426.0 L330.4 427.9 L362.7 448.1 L365.4 454.8 L397.7 473.7 L416.6 479.0 L440.0 491.1 L447.8 495.4 L457.3 501.5 L465.9 505.8 L472.8 509.8 L483.2 511.0 L509.1 511.5 L511.7 516.2 L521.2 517.9 L543.7 519.6 L571.4 520.2 L580.0 517.9 L595.6 513.6 L612.9 507.5 L626.7 498.9 L638.8 492.0 L665.4 468.0 L674.1 461.5 L693.8 449.4 L711.3 439.6 L720.0 437.4 L765.3 437.0 L795.6 427.6 L817.5 422.6 L839.4 425.5 L869.7 430.5 L905.6 436.7 L919.5 442.2 L938.9 453.3 L961.0 467.2 L983.4 477.0 L1005.6 486.7 L1025.0 497.8 L1044.5 509.0 L1061.0 517.2 L1100.0 520.0 L1145.0 520.3" fill="none" stroke="#B5474B" stroke-width="2" stroke-dasharray="2 3" stroke-linejoin="round"/>
<path d="M36.1 504.2 L70.8 486.8 L72.8 463.8 L121.3 435.5 L125.4 437.5 L127.4 444.8 L167.8 447.6 L170.6 421.3 L180.0 422.5 L212.3 420.5 L216.3 416.0 L230.5 415.2 L242.6 417.3 L262.0 422.1 L264.9 434.2 L279.0 437.5 L300.0 435.0 L322.3 432.0 L330.4 433.3 L362.7 450.8 L366.8 460.2 L397.7 475.0 L416.6 481.8 L441.7 493.7 L450.4 498.9 L460.7 504.1 L472.8 511.0 L483.2 512.7 L507.4 514.5 L510.9 517.0 L521.2 518.8 L543.7 520.0 L571.4 520.4 L588.7 517.0 L605.9 513.6 L623.2 509.3 L631.9 505.0 L640.0 500.6 L676.3 469.1 L693.8 458.2 L711.3 448.3 L719.0 445.7 L765.3 446.0 L795.6 436.0 L817.5 431.0 L839.4 434.0 L869.7 438.0 L905.6 443.6 L922.2 450.6 L938.9 456.0 L961.0 470.0 L983.4 478.4 L1005.6 489.5 L1025.0 500.6 L1044.5 511.7 L1061.0 518.0 L1100.0 520.3 L1145.0 520.3" fill="none" stroke="#FD625E" stroke-width="2" stroke-dasharray="2 3" stroke-linejoin="round"/>
<path d="M36.1 435.4 L179.5 435.4 L180.9 457.9 L473.9 457.9 L475.3 435.4 L766.2 435.4 L767.6 457.9 L1060.8 457.9 L1062.2 435.4 L1145.0 435.4" fill="none" stroke="#1B0AA6" stroke-width="2.2" stroke-dasharray="7 3 2 3" stroke-linejoin="round"/>
<path d="M36.1 216.7 L64.6 200.8 L95.9 183.6 L110.0 184.6 L120.0 184.5 L130.0 183.6 L140.0 185.0 L150.8 184.3 L167.0 188.3 L199.3 190.2 L226.0 195.0 L237.4 200.0 L258.9 204.0 L299.3 218.7 L335.0 236.6 L370.0 259.0 L400.0 270.1 L417.2 280.1 L428.6 285.0 L442.9 287.3 L457.2 286.4 L474.4 286.7 L485.8 284.4 L503.0 279.5 L520.2 273.0 L537.3 267.8 L554.5 258.7 L560.0 255.9 L568.8 251.8 L577.7 247.7 L586.5 242.4 L594.7 237.3 L603.0 231.8 L611.2 225.9 L618.9 219.8 L627.1 213.9 L635.4 208.2 L641.6 203.6 L653.5 198.9 L662.3 193.7 L671.1 190.1 L681.0 184.7 L689.8 184.7 L700.2 184.9 L710.5 183.9 L718.8 183.9 L729.2 184.9 L738.5 184.7 L748.9 187.0 L760.0 188.2 L767.3 188.2 L784.6 189.9 L807.0 194.7 L815.7 195.6 L826.0 199.4 L846.8 203.4 L862.4 208.9 L881.4 216.3 L900.4 225.3 L919.4 235.7 L936.7 246.0 L947.0 251.2 L956.7 258.2 L986.0 269.8 L1006.8 280.0 L1024.4 286.6 L1045.0 286.0 L1065.7 286.0 L1089.2 280.0 L1106.9 274.2 L1124.6 265.4 L1145.0 258.0" stroke-linejoin="round" fill="none" stroke="#01B8AA" stroke-width="2" stroke-dasharray="5 5"/>
<path d="M546.4 164.6 L546.7 163.1 L547.1 161.1 L547.5 158.6 L548.0 156.0 L548.5 153.4 L549.0 151.0 L549.4 148.8 L549.9 146.6 L550.3 144.4 L550.8 142.2 L551.3 139.9 L551.8 137.7 L552.4 135.4 L553.0 133.0 L553.6 130.6 L554.3 128.3 L555.1 126.1 L555.9 124.0 L556.8 122.0 L557.7 120.2 L558.8 118.4 L559.9 116.8 L561.1 115.3 L562.6 114.0 L564.2 113.0 L565.7 112.1 L567.5 111.4 L569.5 110.9 L571.9 110.4 L574.7 110.0 L578.2 109.6 L582.3 109.4 L586.8 109.2 L591.4 109.1 L595.9 109.1 L600.0 109.0 L603.0 108.9 L605.0 108.9 L606.9 108.9 L609.6 109.0 L613.9 109.0 L620.8 109.0 L631.4 109.0 L645.3 109.0 L660.8 109.0 L676.4 108.9 L690.6 109.0 L701.6 109.0 L709.2 109.1 L714.7 109.1 L718.6 109.2 L721.7 109.4 L724.8 109.6 L728.5 109.8 L732.7 110.2 L736.8 110.7 L740.8 111.3 L744.8 111.8 L748.8 112.2 L752.8 112.3 L756.8 112.1 L760.8 111.6 L764.7 111.0 L768.7 110.3 L772.8 109.7 L777.0 109.3 L781.3 109.1 L785.8 108.9 L790.4 108.9 L795.0 108.9 L799.5 109.1 L804.0 109.3 L808.5 109.8 L813.2 110.5 L817.8 111.3 L822.2 112.1 L826.3 112.7 L830.0 113.0 L833.0 112.9 L835.4 112.5 L837.5 111.9 L839.6 111.2 L841.9 110.6 L844.7 110.2 L848.2 109.9 L852.0 109.6 L856.1 109.3 L860.3 109.2 L864.4 109.2 L868.3 109.5 L871.9 110.0 L875.4 110.5 L878.8 111.2 L882.1 112.2 L885.5 113.7 L888.9 115.6 L892.3 118.3 L895.7 121.7 L899.0 125.5 L902.4 129.4 L905.9 133.0 L909.5 136.2 L913.4 139.0 L917.6 141.6 L921.9 144.1 L926.1 146.2 L929.8 147.9 L933.0 149.2 L935.4 149.8 L937.3 149.9 L938.7 149.5 L940.0 149.0 L941.4 148.4 L943.0 148.0 L944.9 147.6 L946.8 147.1 L948.8 146.6 L950.9 146.1 L952.9 145.8 L955.0 145.8 L957.1 146.2 L959.3 147.1 L961.6 148.1 L963.7 149.0 L965.8 149.5 L967.8 149.4 L969.4 148.6 L970.7 147.2 L971.9 145.5 L973.2 143.6 L974.9 141.4 L977.3 139.2 L980.6 136.6 L984.7 133.5 L989.1 130.2 L993.6 127.1 L997.7 124.6 L1000.9 123.0 L1003.2 122.4 L1004.8 122.6 L1006.0 123.3 L1007.1 124.4 L1008.2 125.8 L1009.7 127.4 L1011.5 129.3 L1013.4 131.7 L1015.4 134.3 L1017.5 137.1 L1019.5 139.7 L1021.5 142.0 L1023.4 144.1 L1025.3 146.2 L1027.2 148.1 L1029.2 149.9 L1031.2 151.3 L1033.3 152.4 L1035.7 153.2 L1038.2 153.9 L1040.8 154.2 L1043.4 154.2 L1045.9 153.6 L1048.0 152.4 L1049.8 150.2 L1051.4 146.9 L1052.8 143.1 L1054.1 139.3 L1055.4 135.9 L1056.8 133.3 L1058.2 131.7 L1059.5 130.7 L1060.9 130.2 L1062.3 129.8 L1063.9 129.5 L1065.7 128.9 L1067.8 128.2 L1070.2 127.5 L1072.7 126.9 L1075.3 126.2 L1077.9 125.4 L1080.4 124.5 L1082.8 123.4 L1085.0 122.1 L1087.3 120.7 L1089.7 119.3 L1092.2 118.1 L1095.0 117.0 L1098.2 116.1 L1101.8 115.3 L1105.6 114.5 L1109.3 113.9 L1112.8 113.5 L1115.8 113.3 L1118.3 113.3 L1120.5 113.5 L1122.4 113.8 L1124.1 114.3 L1125.8 114.9 L1127.5 115.6 L1129.1 116.4 L1130.7 117.5 L1132.1 118.6 L1133.6 119.7 L1135.0 120.7 L1136.4 121.5 L1138.0 122.0 L1139.6 122.4 L1141.3 122.6 L1142.8 122.8 L1144.1 122.9 L1145.0 123.0" fill="none" stroke="#CBC8C8" stroke-width="2" stroke-dasharray="5 5"/>
<path d="M546.4 164.6 L546.7 166.0 L547.1 167.9 L547.5 170.2 L548.2 172.7 L549.3 175.5 L550.8 178.5 L553.1 181.9 L556.1 185.9 L559.4 190.0 L562.8 194.1 L565.8 197.8 L568.2 200.6 L569.8 202.5 L571.0 203.7 L571.8 204.4 L572.5 205.0 L573.2 205.6 L574.1 206.5 L575.1 207.8 L576.2 209.1 L577.3 210.6 L578.4 212.0 L579.5 213.4 L580.6 214.7 L581.7 215.9 L582.9 217.0 L584.0 218.1 L585.2 219.2 L586.4 220.1 L587.7 221.0 L589.1 221.8 L590.5 222.4 L591.9 223.0 L593.4 223.6 L594.9 224.0 L596.5 224.5 L598.1 224.9 L599.7 225.3 L601.4 225.7 L603.1 226.0 L604.8 226.2 L606.5 226.3 L608.2 226.2 L609.9 225.9 L611.6 225.6 L613.2 225.2 L614.9 225.0 L616.5 225.1 L618.0 225.4 L619.5 226.0 L621.0 226.7 L622.4 227.4 L623.9 228.2 L625.4 228.9 L626.9 229.6 L628.5 230.3 L630.1 230.9 L631.6 231.6 L633.2 232.2 L634.8 232.7 L636.4 233.1 L638.0 233.5 L639.6 233.8 L641.2 234.0 L642.8 234.1 L644.2 234.2 L645.5 234.1 L646.8 233.9 L648.0 233.6 L649.2 233.3 L650.3 233.0 L651.3 233.0 L652.1 233.1 L652.6 233.2 L653.1 233.4 L653.7 233.8 L654.6 234.3 L656.0 235.0 L657.9 236.2 L660.3 237.8 L662.9 239.5 L665.8 241.2 L668.7 242.4 L671.6 243.0 L674.5 242.6 L677.6 241.4 L680.8 239.8 L684.0 238.2 L687.2 236.9 L690.4 236.4 L693.6 236.8 L696.7 238.0 L699.9 239.4 L703.1 241.0 L706.2 242.3 L709.3 243.0 L712.3 242.9 L715.3 242.2 L718.3 241.3 L721.2 240.4 L724.1 240.0 L726.8 240.4 L729.4 242.0 L732.0 244.7 L734.5 247.8 L736.9 250.8 L739.2 253.0 L741.6 253.9 L743.9 253.0 L746.2 250.7 L748.4 247.6 L750.6 244.4 L752.8 241.8 L755.0 240.4 L757.2 240.3 L759.4 240.9 L761.6 242.1 L763.8 243.6 L766.1 245.3 L768.5 247.0 L771.0 248.8 L773.4 250.9 L775.9 253.2 L778.6 255.5 L781.5 257.6 L784.7 259.3 L788.3 260.6 L792.3 261.6 L796.6 262.5 L800.8 263.2 L805.0 263.9 L809.0 264.6 L812.7 265.3 L816.4 265.8 L819.9 266.2 L823.4 266.8 L826.7 267.4 L830.0 268.3 L833.1 269.3 L836.0 270.4 L838.9 271.6 L841.7 273.0 L844.6 274.8 L847.7 277.0 L850.9 279.8 L854.0 283.3 L857.3 287.0 L860.7 290.9 L864.3 294.5 L868.3 297.8 L872.9 300.6 L878.1 303.2 L883.5 305.6 L888.8 307.9 L893.7 310.2 L897.8 312.5 L901.0 314.9 L903.5 317.5 L905.6 320.0 L907.4 322.3 L909.2 324.2 L911.0 325.7 L912.8 326.6 L914.5 327.1 L916.1 327.2 L917.6 327.0 L919.4 326.8 L921.3 326.6 L923.4 326.1 L925.4 325.1 L927.6 324.1 L930.1 323.2 L932.8 323.0 L936.0 323.7 L939.9 325.5 L944.4 328.2 L949.3 331.5 L954.2 335.1 L958.7 338.7 L962.6 342.0 L965.7 345.2 L968.3 348.4 L970.5 351.7 L972.6 355.0 L974.8 358.1 L977.3 361.0 L980.1 363.9 L983.1 366.8 L986.1 369.6 L989.2 372.1 L992.2 374.2 L995.0 375.8 L997.6 376.7 L1000.0 377.0 L1002.4 376.8 L1004.7 376.5 L1007.1 376.1 L1009.7 375.8 L1012.5 375.6 L1015.5 375.2 L1018.6 374.8 L1021.6 374.4 L1024.6 374.2 L1027.4 374.3 L1030.0 374.7 L1032.4 375.3 L1034.8 376.0 L1037.1 376.9 L1039.5 377.9 L1042.0 378.8 L1044.6 380.0 L1047.1 381.5 L1049.7 383.1 L1052.4 384.5 L1055.2 385.4 L1058.3 385.5 L1061.7 384.5 L1065.4 382.5 L1069.3 379.9 L1073.2 377.4 L1076.9 375.4 L1080.4 374.3 L1083.5 374.4 L1086.3 375.2 L1088.9 376.6 L1091.6 378.0 L1094.6 379.4 L1098.0 380.2 L1102.0 380.5 L1106.4 380.5 L1111.1 380.4 L1115.9 380.2 L1120.4 380.1 L1124.6 380.2 L1128.6 380.6 L1132.6 381.1 L1136.5 381.7 L1139.9 382.3 L1142.9 382.8 L1145.0 383.2" fill="none" stroke="#B4ADAD" stroke-width="2" stroke-dasharray="5 5"/>
<path d="M546.4 164.6 L547.4 163.1 L548.6 161.0 L550.1 158.5 L551.9 156.0 L553.9 153.6 L556.2 151.6 L558.8 150.1 L561.8 149.0 L565.0 148.0 L568.4 147.0 L571.8 146.0 L575.0 144.8 L578.1 143.4 L581.3 141.9 L584.5 140.3 L587.6 138.7 L590.8 137.1 L593.9 135.4 L597.0 133.6 L600.1 131.7 L603.1 129.7 L606.2 127.8 L609.4 126.1 L612.7 124.6 L616.1 123.4 L619.5 122.3 L623.0 121.5 L626.6 120.8 L630.4 120.2 L634.3 119.8 L638.5 119.6 L643.1 119.6 L647.8 119.7 L652.4 120.0 L657.0 120.3 L661.2 120.6 L665.1 120.9 L668.7 121.1 L672.1 121.4 L675.5 121.8 L679.0 122.4 L682.7 123.3 L686.6 124.5 L690.7 126.0 L694.9 127.7 L699.0 129.5 L703.1 131.2 L707.0 132.7 L710.7 134.0 L714.2 135.3 L717.6 136.5 L721.0 137.6 L724.6 138.5 L728.5 139.4 L732.7 140.1 L737.3 140.7 L742.0 141.2 L746.7 141.5 L751.3 141.9 L755.5 142.1 L759.4 142.2 L763.1 142.0 L766.6 141.8 L770.0 141.6 L773.5 141.7 L777.0 142.1 L780.6 143.1 L784.2 144.6 L787.8 146.3 L791.4 148.0 L795.0 149.4 L798.6 150.2 L802.3 150.4 L806.2 150.0 L810.0 149.4 L813.7 148.7 L817.1 148.0 L820.0 147.5 L822.2 147.1 L823.7 146.7 L824.9 146.2 L826.1 146.0 L827.7 146.1 L830.0 146.6 L833.3 147.8 L837.3 149.7 L841.7 151.9 L846.1 154.0 L850.2 155.8 L853.6 156.9 L856.2 157.0 L858.2 156.4 L859.9 155.4 L861.5 154.4 L863.2 153.8 L865.4 153.9 L868.0 154.8 L870.8 156.1 L873.8 157.8 L876.9 159.8 L880.0 162.0 L883.0 164.2 L885.9 166.6 L888.7 169.3 L891.5 172.2 L894.4 175.1 L897.4 177.9 L900.7 180.4 L904.5 182.7 L908.7 185.0 L913.1 187.2 L917.3 189.2 L921.2 190.9 L924.3 192.2 L926.5 192.9 L928.0 193.0 L929.0 192.9 L930.0 192.7 L931.2 192.9 L933.0 193.7 L935.4 195.2 L938.3 197.2 L941.3 199.5 L944.5 202.0 L947.7 204.6 L950.8 207.0 L953.8 209.4 L956.7 211.8 L959.7 214.3 L962.6 216.7 L965.6 219.2 L968.5 221.7 L971.5 224.2 L974.4 226.7 L977.4 229.1 L980.4 231.6 L983.2 234.0 L986.0 236.4 L988.7 238.8 L991.3 241.3 L993.8 243.7 L996.3 246.0 L998.6 248.0 L1000.9 249.7 L1002.9 250.8 L1004.7 251.4 L1006.4 251.8 L1008.2 252.2 L1010.2 252.8 L1012.6 254.0 L1015.5 256.0 L1018.8 258.7 L1022.4 261.7 L1026.1 264.4 L1029.8 266.6 L1033.3 267.8 L1036.7 267.7 L1040.2 266.7 L1043.6 265.1 L1047.0 263.2 L1050.5 261.4 L1053.9 260.0 L1057.4 259.0 L1061.0 258.1 L1064.6 257.2 L1068.1 256.4 L1071.4 255.5 L1074.5 254.5 L1077.3 253.5 L1079.9 252.5 L1082.4 251.6 L1084.7 250.4 L1087.0 249.0 L1089.2 247.2 L1091.3 244.9 L1093.1 242.3 L1094.9 239.3 L1096.7 236.3 L1098.7 233.3 L1101.0 230.5 L1103.7 227.9 L1106.7 225.3 L1109.9 222.8 L1113.0 220.4 L1116.0 218.1 L1118.7 215.8 L1121.0 213.7 L1123.0 211.8 L1124.8 210.0 L1126.6 208.2 L1128.4 206.2 L1130.5 204.0 L1132.9 201.4 L1135.7 198.3 L1138.5 195.2 L1141.1 192.2 L1143.4 189.6 L1145.0 187.8" fill="none" stroke="#888383" stroke-width="2" stroke-dasharray="5 5"/>
<path d="M546.4 164.6 L547.4 165.4 L548.8 166.4 L550.5 167.6 L552.3 169.0 L554.2 170.4 L556.2 171.8 L558.2 173.3 L560.4 175.0 L562.7 176.7 L565.0 178.4 L567.3 179.9 L569.6 181.2 L571.8 182.2 L574.1 183.0 L576.3 183.6 L578.5 184.2 L580.8 184.7 L583.0 185.2 L585.2 185.9 L587.4 186.7 L589.6 187.6 L591.9 188.1 L594.2 188.3 L596.6 187.9 L599.1 186.8 L601.8 185.1 L604.5 182.9 L607.2 180.6 L610.0 178.1 L612.7 175.8 L615.4 173.3 L618.0 170.6 L620.6 167.8 L623.3 165.1 L626.0 162.8 L628.9 161.0 L631.8 159.9 L634.7 159.4 L637.6 159.2 L640.7 159.2 L644.1 159.2 L647.7 159.1 L651.9 158.8 L656.6 158.4 L661.6 158.0 L666.5 157.6 L671.0 157.5 L674.7 157.5 L677.6 157.8 L679.8 158.2 L681.7 158.8 L683.3 159.4 L684.9 160.2 L686.7 161.0 L688.7 161.9 L690.7 162.9 L692.6 164.0 L694.6 165.2 L696.4 166.3 L698.1 167.3 L699.7 168.2 L701.1 169.0 L702.4 169.9 L703.7 170.7 L705.1 171.5 L706.4 172.4 L707.8 173.4 L709.2 174.5 L710.5 175.5 L711.9 176.6 L713.3 177.7 L714.7 178.7 L716.1 179.7 L717.4 180.6 L718.8 181.5 L720.2 182.3 L721.6 183.2 L723.0 183.9 L724.5 184.6 L726.0 185.1 L727.6 185.7 L729.2 186.2 L730.7 186.7 L732.3 187.2 L733.9 187.7 L735.4 188.3 L737.0 188.8 L738.6 189.3 L740.1 189.9 L741.6 190.6 L743.0 191.4 L744.4 192.2 L745.7 193.1 L747.0 194.0 L748.4 194.9 L749.9 195.8 L751.4 196.6 L753.0 197.4 L754.6 198.2 L756.3 199.0 L758.1 199.9 L760.0 201.0 L762.1 202.3 L764.3 203.8 L766.6 205.3 L769.0 206.9 L771.6 208.3 L774.3 209.5 L777.2 210.5 L780.4 211.4 L783.6 212.1 L786.9 212.7 L790.2 213.2 L793.2 213.5 L796.1 213.5 L798.9 213.3 L801.6 212.9 L804.3 212.5 L806.8 212.3 L809.3 212.2 L811.7 212.5 L814.0 213.0 L816.2 213.6 L818.3 214.2 L820.4 214.6 L822.4 214.8 L824.3 214.5 L826.0 213.8 L827.7 213.0 L829.4 212.2 L831.2 211.8 L833.2 212.0 L835.3 212.9 L837.5 214.4 L839.8 216.3 L842.3 218.3 L844.9 220.2 L847.7 221.7 L850.9 222.9 L854.6 223.8 L858.4 224.7 L862.1 225.6 L865.5 226.5 L868.3 227.6 L870.4 229.1 L872.0 230.8 L873.2 232.7 L874.3 234.4 L875.5 235.6 L877.0 236.2 L878.8 235.9 L880.8 234.8 L882.9 233.3 L885.0 231.7 L887.1 230.3 L888.9 229.5 L890.4 229.1 L891.7 228.9 L892.8 228.9 L894.1 229.2 L895.7 229.9 L897.8 231.0 L900.6 232.8 L904.0 235.3 L907.7 238.1 L911.5 241.0 L915.2 243.8 L918.4 246.2 L921.1 248.2 L923.5 249.9 L925.7 251.5 L927.9 253.0 L930.3 254.5 L933.0 256.0 L936.1 257.5 L939.6 258.9 L943.2 260.3 L946.8 261.8 L950.4 263.4 L953.7 265.4 L956.8 267.7 L959.8 270.2 L962.7 272.9 L965.6 275.7 L968.5 278.7 L971.4 281.6 L974.3 284.7 L977.1 288.0 L979.8 291.3 L982.7 294.7 L985.7 297.8 L989.0 300.7 L992.6 303.4 L996.5 305.9 L1000.6 308.3 L1004.7 310.4 L1008.8 312.4 L1012.6 314.0 L1016.3 315.2 L1019.9 316.0 L1023.4 316.5 L1026.8 316.9 L1030.1 317.5 L1033.3 318.4 L1036.2 319.7 L1038.8 321.4 L1041.3 323.2 L1043.8 324.9 L1046.5 326.3 L1049.5 327.2 L1052.9 327.5 L1056.5 327.5 L1060.3 327.1 L1064.1 326.6 L1067.9 326.1 L1071.6 325.7 L1075.2 325.6 L1078.8 325.6 L1082.4 325.6 L1085.8 325.4 L1089.1 325.0 L1092.2 324.3 L1095.0 323.2 L1097.4 321.7 L1099.7 320.1 L1102.0 318.2 L1104.3 316.2 L1106.9 314.0 L1109.6 311.6 L1112.5 308.9 L1115.4 306.1 L1118.4 303.2 L1121.5 300.4 L1124.6 297.8 L1128.1 295.3 L1132.0 292.7 L1135.9 290.1 L1139.6 287.8 L1142.7 285.9 L1145.0 284.5" fill="none" stroke="#807A7A" stroke-width="2" stroke-dasharray="5 5"/>
<path d="M546.4 164.6 L547.7 164.3 L549.5 163.9 L551.6 163.5 L554.1 163.0 L556.9 162.6 L560.0 162.3 L563.8 162.1 L568.3 162.1 L573.1 162.1 L577.9 162.1 L582.2 162.0 L585.8 161.8 L588.4 161.5 L590.3 161.3 L591.8 160.9 L593.2 160.4 L594.7 159.6 L596.6 158.3 L598.9 156.4 L601.5 154.0 L604.1 151.3 L606.9 148.5 L609.8 145.8 L612.7 143.5 L615.7 141.5 L618.7 139.6 L621.8 137.9 L625.0 136.3 L628.3 135.0 L631.6 134.0 L635.1 133.4 L638.7 133.1 L642.5 133.0 L646.2 133.1 L649.7 133.3 L653.0 133.5 L656.0 133.7 L658.6 133.8 L661.1 134.1 L663.7 134.5 L666.3 135.1 L669.3 135.9 L672.6 137.0 L676.1 138.4 L679.7 139.9 L683.4 141.6 L687.2 143.2 L690.8 144.8 L694.4 146.4 L698.0 148.1 L701.6 149.8 L705.2 151.4 L708.8 152.9 L712.4 154.2 L716.0 155.3 L719.6 156.3 L723.1 157.1 L726.7 157.9 L730.3 158.5 L733.9 159.1 L737.6 159.5 L741.4 159.8 L745.2 160.0 L748.9 160.2 L752.4 160.5 L755.5 161.0 L758.1 161.6 L760.4 162.2 L762.4 163.0 L764.3 163.9 L766.4 165.0 L768.9 166.4 L771.7 168.3 L774.7 170.7 L777.8 173.3 L781.1 175.8 L784.4 178.1 L787.8 179.8 L791.2 180.8 L794.8 181.4 L798.4 181.7 L802.1 181.8 L805.7 182.0 L809.3 182.5 L812.9 183.3 L816.5 184.4 L820.1 185.5 L823.6 186.5 L826.9 187.4 L830.0 187.8 L832.8 187.7 L835.5 187.2 L837.9 186.4 L840.2 185.6 L842.5 185.1 L844.7 184.9 L846.8 185.2 L848.8 185.8 L850.8 186.6 L852.7 187.5 L854.6 188.4 L856.5 189.3 L858.5 190.3 L860.4 191.4 L862.4 192.5 L864.4 193.6 L866.3 194.5 L868.3 195.2 L870.1 195.4 L871.8 195.2 L873.4 194.8 L875.2 194.5 L877.4 194.6 L880.0 195.2 L883.3 196.5 L887.3 198.4 L891.6 200.5 L895.9 202.9 L900.0 205.1 L903.6 207.0 L906.6 208.7 L909.2 210.2 L911.6 211.7 L913.8 213.1 L916.0 214.5 L918.4 215.8 L920.8 217.0 L923.3 218.0 L925.7 218.9 L928.1 220.0 L930.6 221.3 L933.0 223.0 L935.5 225.3 L938.1 228.2 L940.8 231.3 L943.3 234.4 L945.7 237.2 L947.8 239.4 L949.6 240.8 L951.0 241.7 L952.3 242.2 L953.5 242.8 L954.9 243.5 L956.7 244.7 L958.8 246.5 L961.2 248.5 L963.7 250.9 L966.3 253.3 L968.9 255.7 L971.4 258.0 L973.8 260.2 L976.2 262.5 L978.5 264.7 L980.9 266.9 L983.4 269.1 L986.0 271.2 L988.8 273.2 L991.7 275.2 L994.7 277.2 L997.8 279.1 L1000.8 281.0 L1003.8 283.0 L1006.8 285.1 L1009.7 287.3 L1012.7 289.5 L1015.6 291.6 L1018.6 293.4 L1021.5 294.8 L1024.4 295.7 L1027.3 296.3 L1030.3 296.6 L1033.2 296.7 L1036.2 296.9 L1039.2 297.2 L1042.3 297.8 L1045.6 298.6 L1048.8 299.3 L1052.1 300.0 L1055.3 300.2 L1058.3 300.0 L1061.2 299.1 L1064.1 297.6 L1066.9 295.8 L1069.5 293.9 L1072.1 292.0 L1074.5 290.4 L1076.7 289.0 L1078.5 287.7 L1080.3 286.5 L1082.1 285.3 L1084.0 284.1 L1086.3 283.0 L1088.9 282.1 L1091.9 281.3 L1095.0 280.6 L1098.1 279.8 L1101.2 278.6 L1104.0 277.0 L1106.5 274.9 L1108.7 272.4 L1110.8 269.6 L1113.1 266.5 L1115.6 263.2 L1118.7 259.5 L1122.7 255.1 L1127.6 249.9 L1132.8 244.4 L1137.8 239.1 L1142.0 234.7 L1145.0 231.5" fill="none" stroke="#5F5A5A" stroke-width="2" stroke-dasharray="5 5"/>
<path d="M36.1 142.5 L37.1 143.8 L38.6 145.5 L40.0 147.0 L40.6 147.4 L41.1 147.6 L43.0 149.0 L47.4 152.9 L53.1 158.0 L58.0 162.7 L60.9 165.9 L63.1 168.5 L66.0 172.0 L70.6 177.1 L76.0 182.9 L80.8 188.3 L84.3 192.3 L87.3 195.7 L90.6 200.0 L94.9 206.0 L99.7 212.9 L104.0 219.0 L107.6 224.1 L110.8 228.5 L113.5 231.8 L115.3 233.3 L116.6 233.7 L118.0 234.5 L119.9 236.1 L121.9 238.2 L124.3 240.4 L127.4 243.2 L130.9 246.2 L133.7 248.5 L134.9 248.8 L135.6 248.4 L137.7 249.8 L143.1 255.1 L150.0 262.3 L155.2 267.3 L156.9 268.6 L156.8 267.8 L157.0 266.0 L158.1 263.0 L159.4 259.0 L160.6 256.0 L161.4 254.8 L162.0 254.6 L163.0 254.5 L164.6 254.1 L166.5 253.9 L168.7 254.7 L171.3 256.9 L174.1 260.1 L176.8 263.3 L179.4 267.1 L181.8 271.0 L184.0 272.7 L185.8 270.5 L187.3 266.0 L188.9 262.0 L190.8 259.2 L192.9 256.8 L194.8 255.2 L196.5 255.0 L198.1 255.7 L199.7 255.8 L201.4 254.5 L203.2 252.6 L205.0 251.2 L206.8 251.0 L208.6 251.3 L210.4 251.2 L212.0 249.9 L213.7 248.1 L215.8 247.1 L218.7 247.4 L222.0 248.6 L225.3 250.4 L228.6 253.2 L232.0 256.5 L234.7 259.3 L236.5 261.0 L237.7 262.0 L238.7 262.5 L239.4 263.0 L239.8 262.9 L240.5 261.0 L241.5 255.7 L242.7 248.5 L244.1 243.1 L245.8 241.0 L247.6 240.6 L249.5 240.4 L251.4 240.4 L253.2 240.7 L254.9 239.9 L256.3 237.0 L257.6 233.2 L258.9 230.4 L260.2 229.5 L261.5 229.7 L263.0 230.4 L264.8 231.6 L266.7 233.3 L268.4 234.5 L269.8 234.5 L271.0 234.1 L272.4 234.2 L274.1 235.5 L275.9 237.4 L277.8 239.0 L279.7 240.0 L281.5 240.7 L283.2 240.9 L284.5 240.1 L285.6 238.8 L287.2 239.0 L289.6 241.8 L292.4 245.9 L295.3 249.8 L298.1 252.7 L301.0 255.3 L303.4 257.9 L305.0 261.1 L306.3 264.4 L307.5 266.3 L308.9 265.8 L310.4 264.1 L312.0 263.0 L314.1 264.1 L316.4 265.9 L318.3 265.8 L319.5 261.8 L320.4 255.9 L321.5 251.0 L323.1 248.2 L324.9 246.6 L327.0 246.0 L329.5 246.8 L332.2 248.6 L335.0 251.0 L337.7 254.3 L340.4 258.0 L343.0 260.4 L345.3 260.0 L347.5 258.2 L349.8 257.7 L352.3 259.2 L354.9 261.8 L358.0 265.8 L362.0 272.3 L366.3 280.2 L370.0 286.0 L372.0 287.2 L373.3 286.4 L375.4 287.3 L379.2 292.4 L383.7 299.4 L387.5 304.8 L389.7 306.7 L391.1 307.1 L393.0 308.9 L396.0 313.8 L399.3 320.0 L402.3 325.0 L404.1 327.0 L405.5 327.8 L407.7 330.4 L411.7 337.2 L416.6 345.7 L420.4 351.4 L422.2 351.8 L423.0 349.4 L423.9 347.4 L425.2 346.8 L426.6 346.5 L428.0 346.8 L429.4 348.3 L430.8 350.3 L432.0 350.6 L433.0 347.4 L433.8 342.4 L434.7 338.5 L435.6 336.8 L436.4 336.2 L437.4 335.8 L438.4 335.4 L439.4 335.3 L441.0 335.5 L443.7 336.3 L446.9 337.4 L449.5 337.7 L451.0 337.2 L452.0 335.9 L453.0 333.1 L454.1 327.5 L455.1 320.3 L456.2 314.3 L457.5 311.1 L458.8 309.0 L460.2 306.2 L461.3 301.8 L462.4 296.6 L464.3 291.4 L467.6 285.9 L471.6 280.3 L475.0 276.6 L477.0 276.2 L478.5 277.7 L480.4 277.9 L483.4 275.9 L486.8 272.7 L489.9 268.5 L492.4 262.5 L494.6 255.3 L496.6 249.6 L498.5 246.6 L500.4 244.9 L502.0 242.9 L503.5 240.1 L504.8 237.0 L506.0 233.5 L507.0 229.3 L508.0 224.6 L508.7 220.0 L509.2 216.2 L509.5 212.4 L510.0 207.7 L510.8 200.9 L511.8 193.0 L512.8 186.2 L513.7 181.3 L514.5 177.5 L515.5 174.1 L516.7 170.9 L518.0 168.1 L519.5 166.0 L521.1 164.6 L523.0 163.9 L524.9 163.8 L527.0 164.6 L529.3 166.1 L531.6 167.3 L534.0 168.2 L536.3 168.8 L538.4 168.7 L539.9 167.2 L541.2 164.9 L542.4 163.3 L543.7 163.5 L545.0 164.4 L546.4 164.6 L548.1 163.4 L550.0 161.3 L551.8 159.0 L553.3 156.4 L554.6 153.5 L555.9 150.5 L557.2 147.0 L558.4 143.4 L559.9 140.8 L561.8 140.2 L563.9 140.5 L565.6 139.6 L566.7 136.3 L567.4 131.8 L568.3 127.3 L569.5 123.0 L570.9 118.7 L572.3 115.2 L573.6 112.5 L574.9 110.6 L576.4 109.8 L578.3 111.3 L580.4 114.0 L582.3 115.2 L583.9 112.9 L585.4 109.1 L586.8 107.0 L588.2 108.2 L589.6 111.1 L591.0 113.9 L592.4 116.2 L593.8 118.4 L594.7 120.0" fill="none" stroke="#374649" stroke-width="2" stroke-linejoin="round" stroke-linecap="round"/>
<line x1="25.5" x2="32" y1="111.5" y2="111.5" stroke="#e3e3e3" stroke-width="1"/>
<line x1="25.5" x2="32" y1="213.8" y2="213.8" stroke="#e3e3e3" stroke-width="1"/>
<line x1="25.5" x2="32" y1="316.0" y2="316.0" stroke="#e3e3e3" stroke-width="1"/>
<line x1="25.5" x2="32" y1="418.3" y2="418.3" stroke="#e3e3e3" stroke-width="1"/>
<line x1="25.5" x2="32" y1="520.5" y2="520.5" stroke="#e3e3e3" stroke-width="1"/>
</svg>
<div class="t title" style="transform:scaleX(1.0040);">South Island Electricity Risk Status Curves (Available GWh)</div>
<span class="dot" style="left:2.9px;background:#01B8AA"></span>
<div class="t lg" style="left:16.2px;transform:scaleX(0.9742);">10th to 90th ...</div>
<span class="dot" style="left:107.0px;background:#374649"></span>
<div class="t lg" style="left:119.3px;transform:scaleX(0.9319);">Available SI ...</div>
<span class="dot" style="left:206.2px;background:#99E3DD"></span>
<div class="t lg" style="left:218.2px;transform:scaleX(0.9552);">Nominal SI ...</div>
<span class="dot" style="left:302.0px;background:#01B8AA"></span>
<div class="t lg" style="left:314.0px;transform:scaleX(0.9071);">Mean SI St...</div>
<span class="dot" style="left:392.2px;background:#F2C80F"></span>
<div class="t lg" style="left:404.2px;transform:scaleX(0.9532);">Watch</div>
<span class="dot" style="left:447.2px;background:#FE9666"></span>
<div class="t lg" style="left:459.2px;transform:scaleX(0.9832);">Alert</div>
<span class="dot" style="left:493.5px;background:#FD625E"></span>
<div class="t lg" style="left:505.5px;transform:scaleX(0.9373);">Emergency</div>
<span class="dot" style="left:576.5px;background:#F2C80F"></span>
<div class="t lg" style="left:588.5px;transform:scaleX(0.8987);">1% Risk</div>
<span class="dot" style="left:640.1px;background:#FE9666"></span>
<div class="t lg" style="left:651.7px;transform:scaleX(0.9007);">4% Risk</div>
<span class="dot" style="left:703.3px;background:#B5474B"></span>
<div class="t lg" style="left:715.0px;transform:scaleX(0.9007);">8% Risk</div>
<span class="dot" style="left:767.2px;background:#FD625E"></span>
<div class="t lg" style="left:779.8px;transform:scaleX(0.8855);">10% Risk</div>
<span class="dot" style="left:885.7px;background:#666666"></span>
<span class="dot" style="left:908.9px;background:#8c8c8c"></span>
<span class="dot" style="left:931.7px;background:#bdbdbd"></span>
<div class="t lg" style="left:949.2px;color:#858585;transform:scaleX(0.9571);">SST Quartiles</div>
<span class="dot" style="left:1051.0px;background:#1B0AA6"></span>
<div class="t lg" style="left:1063.7px;transform:scaleX(0.9998);">Contingent</div>
<div class="t ay" style="left:3.9px;top:104.1px;transform:scaleX(0.9229);">4K</div>
<div class="t ay" style="left:3.9px;top:206.4px;transform:scaleX(0.9229);">3K</div>
<div class="t ay" style="left:3.9px;top:308.7px;transform:scaleX(0.9229);">2K</div>
<div class="t ay" style="left:3.9px;top:410.9px;transform:scaleX(0.9229);">1K</div>
<div class="t ay" style="left:3.9px;top:513.2px;transform:scaleX(0.9229);">0K</div>
<div class="t ax" style="left:13.1px;top:576.65px;transform:scaleX(0.9069);">Jan 2025</div>
<div class="t ax" style="left:157.3px;top:576.65px;transform:scaleX(0.9495);">Apr 2025</div>
<div class="t ax" style="left:305.6px;top:576.65px;transform:scaleX(0.9376);">Jul 2025</div>
<div class="t ax" style="left:451.9px;top:576.65px;transform:scaleX(0.9458);">Oct 2025</div>
<div class="t ax" style="left:600.1px;top:576.65px;transform:scaleX(0.9168);">Jan 2026</div>
<div class="t ax" style="left:744.7px;top:576.65px;transform:scaleX(0.9535);">Apr 2026</div>
<div class="t ax" style="left:893.1px;top:576.65px;transform:scaleX(0.9333);">Jul 2026</div>
<div class="t ax" style="left:1039.5px;top:576.65px;transform:scaleX(0.9418);">Oct 2026</div>
</body></html>
